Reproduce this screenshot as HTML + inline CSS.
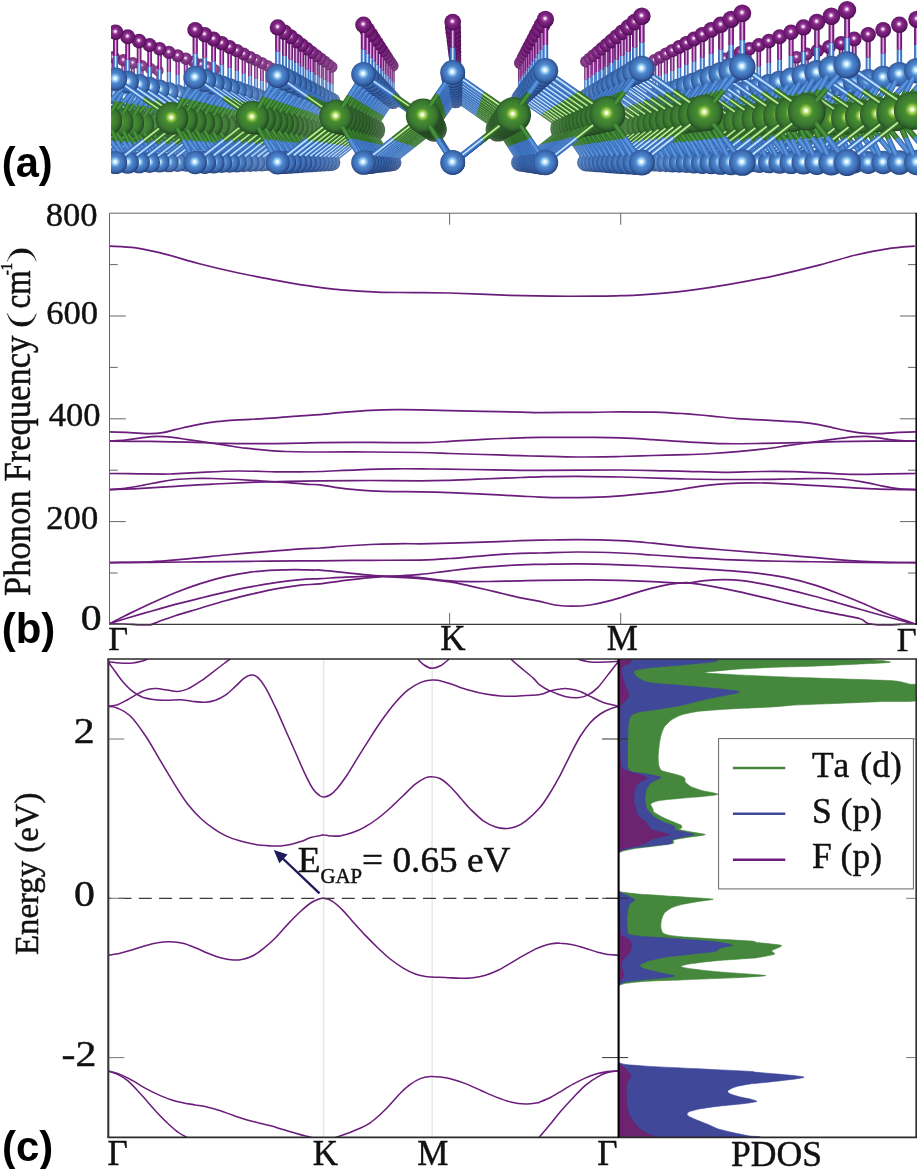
<!DOCTYPE html>
<html><head><meta charset="utf-8"><title>Figure</title>
<style>html,body{margin:0;padding:0;background:#fff}svg{display:block}text{font-family:"Liberation Serif","Times New Roman",serif;fill:#111;stroke:#111;stroke-width:.45px}.b{font-family:"Liberation Sans",Arial,sans-serif;font-weight:bold;fill:#000;stroke:none}</style></head>
<body>
<svg width="917" height="1169" viewBox="0 0 917 1169">
<rect width="917" height="1169" fill="#fff"/>
<svg x="111" y="0" width="806" height="176" viewBox="0 0 806 176" fill="none"><defs><radialGradient id="gS" cx=".48" cy=".47" r=".52"><stop offset="0" stop-color="#fff"/><stop offset=".1" stop-color="#e8f7ff"/><stop offset=".26" stop-color="#8cc4f0"/><stop offset=".43" stop-color="#4f88ce"/><stop offset=".72" stop-color="#3e6eb6"/><stop offset=".9" stop-color="#30589a"/><stop offset="1" stop-color="#223e76"/></radialGradient><radialGradient id="gT" cx=".48" cy=".47" r=".52"><stop offset="0" stop-color="#fff"/><stop offset=".07" stop-color="#f0f8d8"/><stop offset=".2" stop-color="#98cc48"/><stop offset=".36" stop-color="#488e30"/><stop offset=".75" stop-color="#387630"/><stop offset=".94" stop-color="#2a5628"/><stop offset="1" stop-color="#224620"/></radialGradient><radialGradient id="gF" cx=".48" cy=".45" r=".54"><stop offset="0" stop-color="#fff"/><stop offset=".1" stop-color="#f4e0f4"/><stop offset=".24" stop-color="#a858a8"/><stop offset=".42" stop-color="#822484"/><stop offset=".8" stop-color="#68186c"/><stop offset="1" stop-color="#460c4c"/></radialGradient></defs>
<g stroke="#2c6228" stroke-width="3.5"><path id="b1" d="M11.8 147.1L31.4 131.7M11.8 118.1L31.4 131.7"/></g>
<use href="#b1" stroke="#3e8434" stroke-width="2.5"/>
<use href="#b1" stroke="#d0f0a0" stroke-width="1"/>
<g stroke="#3565b0" stroke-width="3.5"><path id="b2" d="M-7.8 162.5L11.8 147.1M-7.8 104.4L11.8 118.1"/></g>
<use href="#b2" stroke="#4a84d0" stroke-width="2.5"/>
<use href="#b2" stroke="#cfe9ff" stroke-width="1"/>
<g fill="url(#gT)"><circle cx="31.4" cy="131.7" r="11.4"/></g>
<g fill="url(#gS)"><circle cx="-7.8" cy="162.5" r="8.1"/><circle cx="-7.8" cy="104.4" r="8.1"/></g>
<rect width="806" height="176" fill="#fff" opacity="0.017"/>
<g stroke="#2c6228" stroke-width="3.5"><path id="b3" d="M34.9 138.5L39.2 147M35 125.3L39.2 117.8"/></g>
<use href="#b3" stroke="#3e8434" stroke-width="2.5"/>
<use href="#b3" stroke="#4a963c" stroke-width="1.1"/>
<g stroke="#3565b0" stroke-width="3.6"><path id="b4" d="M39.2 147L47.1 162.5M39.2 117.8L47.1 103.7"/></g>
<use href="#b4" stroke="#4a84d0" stroke-width="2.5"/>
<use href="#b4" stroke="#5c96dc" stroke-width="1.1"/>
<g stroke="#2c6228" stroke-width="3.6"><path id="b5" d="M67 146.9L86.8 131.3M67 117.5L86.8 131.3"/></g>
<use href="#b5" stroke="#3e8434" stroke-width="2.5"/>
<use href="#b5" stroke="#d0f0a0" stroke-width="1"/>
<g stroke="#3565b0" stroke-width="3.6"><path id="b6" d="M47.1 87.2L47.1 103.7M47.1 162.5L67 146.9M47.1 103.7L67 117.5"/></g>
<use href="#b6" stroke="#4a84d0" stroke-width="2.5"/>
<use href="#b6" stroke="#cfe9ff" stroke-width="1"/>
<g stroke="#5c1462" stroke-width="3.6"><path id="b7" d="M47.1 70.7L47.1 87.2"/></g>
<use href="#b7" stroke="#86268a" stroke-width="2.5"/>
<use href="#b7" stroke="#e0b0e4" stroke-width="1"/>
<g fill="url(#gT)"><circle cx="86.8" cy="131.3" r="11.6"/></g>
<g fill="url(#gS)"><circle cx="47.1" cy="162.5" r="8.2"/><circle cx="47.1" cy="103.7" r="8.2"/></g>
<g fill="url(#gF)"><circle cx="47.1" cy="70.7" r="5.5"/></g>
<rect width="806" height="176" fill="#fff" opacity="0.017"/>
<g stroke="#2c6228" stroke-width="3.6"><path id="b8" d="M90.5 138.2L95.1 146.8M90.7 124.8L95.1 117.2"/></g>
<use href="#b8" stroke="#3e8434" stroke-width="2.5"/>
<use href="#b8" stroke="#4a963c" stroke-width="1.1"/>
<g stroke="#3565b0" stroke-width="3.6"><path id="b9" d="M43.4 157.6L35.2 146.8M43.2 108.1L35.2 117.2"/></g>
<use href="#b9" stroke="#4a84d0" stroke-width="2.5"/>
<use href="#b9" stroke="#5c96dc" stroke-width="1.1"/>
<g stroke="#2c6228" stroke-width="3.6"><path id="b10" d="M35.2 146.8L23.1 130.9M35.2 117.2L23.1 130.9"/></g>
<use href="#b10" stroke="#3e8434" stroke-width="2.5"/>
<use href="#b10" stroke="#4a963c" stroke-width="1.1"/>
<g stroke="#3565b0" stroke-width="3.6"><path id="b11" d="M95.1 146.8L103.5 162.5M95.1 117.2L103.5 102.9"/></g>
<use href="#b11" stroke="#4a84d0" stroke-width="2.5"/>
<use href="#b11" stroke="#5c96dc" stroke-width="1.1"/>
<g stroke="#2c6228" stroke-width="3.6"><path id="b12" d="M3 146.7L23.1 130.9M3 116.9L23.1 130.9M123.6 146.7L143.7 130.9M123.6 116.9L143.7 130.9"/></g>
<use href="#b12" stroke="#3e8434" stroke-width="2.5"/>
<use href="#b12" stroke="#d0f0a0" stroke-width="1"/>
<g stroke="#3565b0" stroke-width="3.6"><path id="b13" d="M-17.1 162.5L3 146.7M-17.1 102.9L3 116.9M103.5 86.2L103.5 102.9M103.5 162.5L123.6 146.7M103.5 102.9L123.6 116.9"/></g>
<use href="#b13" stroke="#4a84d0" stroke-width="2.5"/>
<use href="#b13" stroke="#cfe9ff" stroke-width="1"/>
<g stroke="#5c1462" stroke-width="3.6"><path id="b14" d="M103.5 69.5L103.5 86.2"/></g>
<use href="#b14" stroke="#86268a" stroke-width="2.5"/>
<use href="#b14" stroke="#e0b0e4" stroke-width="1"/>
<g fill="url(#gT)"><circle cx="23.1" cy="130.9" r="11.7"/><circle cx="143.7" cy="130.9" r="11.7"/></g>
<g fill="url(#gS)"><circle cx="103.5" cy="162.5" r="8.3"/><circle cx="103.5" cy="102.9" r="8.3"/></g>
<g fill="url(#gF)"><circle cx="103.5" cy="69.5" r="5.6"/></g>
<rect width="806" height="176" fill="#fff" opacity="0.017"/>
<g stroke="#2c6228" stroke-width="3.6"><path id="b15" d="M26.6 137.8L31.1 146.6M26.8 124.3L31.1 116.6M147.6 137.8L152.5 146.6M147.8 124.3L152.5 116.6"/></g>
<use href="#b15" stroke="#3e8434" stroke-width="2.5"/>
<use href="#b15" stroke="#4a963c" stroke-width="1.1"/>
<g stroke="#3565b0" stroke-width="3.6"><path id="b16" d="M99.9 157.5L91.8 146.6M99.7 107.4L91.8 116.6"/></g>
<use href="#b16" stroke="#4a84d0" stroke-width="2.5"/>
<use href="#b16" stroke="#5c96dc" stroke-width="1.1"/>
<g stroke="#2c6228" stroke-width="3.7"><path id="b17" d="M91.8 146.6L79.9 130.5M91.8 116.6L79.9 130.5"/></g>
<use href="#b17" stroke="#3e8434" stroke-width="2.6"/>
<use href="#b17" stroke="#4a963c" stroke-width="1.1"/>
<g stroke="#3565b0" stroke-width="3.7"><path id="b18" d="M31.1 146.6L39.2 162.5M31.1 116.6L39.2 102.1M152.5 146.6L161.4 162.5M152.5 116.6L161.4 102.1"/></g>
<use href="#b18" stroke="#4a84d0" stroke-width="2.6"/>
<use href="#b18" stroke="#5c96dc" stroke-width="1.1"/>
<g stroke="#2c6228" stroke-width="3.7"><path id="b19" d="M59.5 146.5L79.9 130.5M59.5 116.3L79.9 130.5M181.8 146.5L202.1 130.5M181.8 116.3L202.1 130.5"/></g>
<use href="#b19" stroke="#3e8434" stroke-width="2.6"/>
<use href="#b19" stroke="#d0f0a0" stroke-width="1"/>
<g stroke="#3565b0" stroke-width="3.7"><path id="b20" d="M39.2 85.2L39.2 102.1M39.2 162.5L59.5 146.5M39.2 102.1L59.5 116.3M161.4 85.2L161.4 102.1M161.4 162.5L181.8 146.5M161.4 102.1L181.8 116.3"/></g>
<use href="#b20" stroke="#4a84d0" stroke-width="2.6"/>
<use href="#b20" stroke="#cfe9ff" stroke-width="1"/>
<g stroke="#5c1462" stroke-width="3.7"><path id="b21" d="M39.2 68.3L39.2 85.2M161.4 68.3L161.4 85.2"/></g>
<use href="#b21" stroke="#86268a" stroke-width="2.6"/>
<use href="#b21" stroke="#e0b0e4" stroke-width="1"/>
<g fill="url(#gT)"><circle cx="79.9" cy="130.5" r="11.9"/><circle cx="202.1" cy="130.5" r="11.9"/></g>
<g fill="url(#gS)"><circle cx="39.2" cy="162.5" r="8.4"/><circle cx="39.2" cy="102.1" r="8.4"/><circle cx="161.4" cy="162.5" r="8.4"/><circle cx="161.4" cy="102.1" r="8.4"/></g>
<g fill="url(#gF)"><circle cx="39.2" cy="68.3" r="5.6"/><circle cx="161.4" cy="68.3" r="5.6"/></g>
<rect width="806" height="176" fill="#fff" opacity="0.017"/>
<g stroke="#2c6228" stroke-width="3.7"><path id="b22" d="M83.6 137.5L88.4 146.4M83.8 123.8L88.4 116M206.2 137.5L211.4 146.4M206.4 123.8L211.4 116"/></g>
<use href="#b22" stroke="#3e8434" stroke-width="2.6"/>
<use href="#b22" stroke="#4a963c" stroke-width="1.1"/>
<g stroke="#3565b0" stroke-width="3.7"><path id="b23" d="M35.3 157.5L26.8 146.4M35.1 106.6L26.8 116M157.8 157.5L149.9 146.4M157.6 106.6L149.9 116"/></g>
<use href="#b23" stroke="#4a84d0" stroke-width="2.6"/>
<use href="#b23" stroke="#5c96dc" stroke-width="1.1"/>
<g stroke="#2c6228" stroke-width="3.7"><path id="b24" d="M26.8 146.4L14.4 130.1M26.8 116L14.4 130.1M149.9 146.4L138.2 130.1M149.9 116L138.2 130.1"/></g>
<use href="#b24" stroke="#3e8434" stroke-width="2.6"/>
<use href="#b24" stroke="#4a963c" stroke-width="1.1"/>
<g stroke="#3565b0" stroke-width="3.7"><path id="b25" d="M88.4 146.4L96.9 162.5M88.4 116L96.9 101.3M211.4 146.4L220.8 162.5M211.4 116L220.8 101.3"/></g>
<use href="#b25" stroke="#4a84d0" stroke-width="2.6"/>
<use href="#b25" stroke="#5c96dc" stroke-width="1.1"/>
<g stroke="#2c6228" stroke-width="3.7"><path id="b26" d="M-6.3 146.3L14.4 130.1M-6.3 115.7L14.4 130.1M117.6 146.3L138.2 130.1M117.6 115.7L138.2 130.1M241.4 146.3L262.1 130.1M241.4 115.7L262.1 130.1"/></g>
<use href="#b26" stroke="#3e8434" stroke-width="2.6"/>
<use href="#b26" stroke="#d0f0a0" stroke-width="1"/>
<g stroke="#3565b0" stroke-width="3.7"><path id="b27" d="M96.9 84.1L96.9 101.3M96.9 162.5L117.6 146.3M96.9 101.3L117.6 115.7M220.8 84.1L220.8 101.3M220.8 162.5L241.4 146.3M220.8 101.3L241.4 115.7"/></g>
<use href="#b27" stroke="#4a84d0" stroke-width="2.6"/>
<use href="#b27" stroke="#cfe9ff" stroke-width="1"/>
<g stroke="#5c1462" stroke-width="3.7"><path id="b28" d="M96.9 67L96.9 84.1M220.8 67L220.8 84.1"/></g>
<use href="#b28" stroke="#86268a" stroke-width="2.6"/>
<use href="#b28" stroke="#e0b0e4" stroke-width="1"/>
<g fill="url(#gT)"><circle cx="14.4" cy="130.1" r="12"/><circle cx="138.2" cy="130.1" r="12"/><circle cx="262.1" cy="130.1" r="12"/></g>
<g fill="url(#gS)"><circle cx="96.9" cy="162.5" r="8.5"/><circle cx="96.9" cy="101.3" r="8.5"/><circle cx="220.8" cy="162.5" r="8.5"/><circle cx="220.8" cy="101.3" r="8.5"/></g>
<g fill="url(#gF)"><circle cx="96.9" cy="67" r="5.7"/><circle cx="220.8" cy="67" r="5.7"/></g>
<rect width="806" height="176" fill="#fff" opacity="0.016"/>
<g stroke="#2c6228" stroke-width="3.7"><path id="b29" d="M18 137.2L22.5 146.2M18.1 123.3L22.5 115.4M142.2 137.2L147.2 146.2M142.4 123.3L147.2 115.4M266.4 137.2L271.9 146.2M266.6 123.3L271.9 115.4"/></g>
<use href="#b29" stroke="#3e8434" stroke-width="2.6"/>
<use href="#b29" stroke="#4a963c" stroke-width="1.1"/>
<g stroke="#3565b0" stroke-width="3.7"><path id="b30" d="M93.1 157.4L84.8 146.2M93 105.9L84.8 115.4M217.3 157.4L209.5 146.2M217.1 105.9L209.5 115.4"/></g>
<use href="#b30" stroke="#4a84d0" stroke-width="2.6"/>
<use href="#b30" stroke="#5c96dc" stroke-width="1.1"/>
<g stroke="#2c6228" stroke-width="3.8"><path id="b31" d="M84.8 146.2L72.6 129.6M84.8 115.4L72.6 129.6M209.5 146.2L198.1 129.6M209.5 115.4L198.1 129.6"/></g>
<use href="#b31" stroke="#3e8434" stroke-width="2.6"/>
<use href="#b31" stroke="#4a963c" stroke-width="1.1"/>
<g stroke="#3565b0" stroke-width="3.8"><path id="b32" d="M22.5 146.2L30.7 162.5M22.5 115.4L30.7 100.5M147.2 146.2L156.3 162.5M147.2 115.4L156.3 100.5M271.9 146.2L281.8 162.5M271.9 115.4L281.8 100.5"/></g>
<use href="#b32" stroke="#4a84d0" stroke-width="2.6"/>
<use href="#b32" stroke="#5c96dc" stroke-width="1.1"/>
<g stroke="#2c6228" stroke-width="3.8"><path id="b33" d="M51.7 146.1L72.6 129.6M51.7 115L72.6 129.6M177.2 146.1L198.1 129.6M177.2 115L198.1 129.6M302.7 146.1L323.6 129.6M302.7 115L323.6 129.6"/></g>
<use href="#b33" stroke="#3e8434" stroke-width="2.6"/>
<use href="#b33" stroke="#d0f0a0" stroke-width="1"/>
<g stroke="#3565b0" stroke-width="3.8"><path id="b34" d="M30.7 83.1L30.7 100.5M30.7 162.5L51.7 146.1M30.7 100.5L51.7 115M156.3 83.1L156.3 100.5M156.3 162.5L177.2 146.1M156.3 100.5L177.2 115M281.8 83.1L281.8 100.5M281.8 162.5L302.7 146.1M281.8 100.5L302.7 115"/></g>
<use href="#b34" stroke="#4a84d0" stroke-width="2.6"/>
<use href="#b34" stroke="#cfe9ff" stroke-width="1"/>
<g stroke="#5c1462" stroke-width="3.8"><path id="b35" d="M30.7 65.7L30.7 83.1M156.3 65.7L156.3 83.1M281.8 65.7L281.8 83.1"/></g>
<use href="#b35" stroke="#86268a" stroke-width="2.6"/>
<use href="#b35" stroke="#e0b0e4" stroke-width="1"/>
<g fill="url(#gT)"><circle cx="72.6" cy="129.6" r="12.2"/><circle cx="198.1" cy="129.6" r="12.2"/><circle cx="323.6" cy="129.6" r="12.2"/></g>
<g fill="url(#gS)"><circle cx="30.7" cy="162.5" r="8.6"/><circle cx="30.7" cy="100.5" r="8.6"/><circle cx="156.3" cy="162.5" r="8.6"/><circle cx="156.3" cy="100.5" r="8.6"/><circle cx="281.8" cy="162.5" r="8.6"/><circle cx="281.8" cy="100.5" r="8.6"/></g>
<g fill="url(#gF)"><circle cx="30.7" cy="65.7" r="5.8"/><circle cx="156.3" cy="65.7" r="5.8"/><circle cx="281.8" cy="65.7" r="5.8"/></g>
<rect width="806" height="176" fill="#fff" opacity="0.016"/>
<g stroke="#2c6228" stroke-width="3.8"><path id="b36" d="M76.4 136.8L81.2 146M76.6 122.7L81.2 114.7M202.3 136.8L207.6 146M202.5 122.7L207.6 114.7M328.2 136.8L334 146M328.4 122.7L334 114.7"/></g>
<use href="#b36" stroke="#3e8434" stroke-width="2.6"/>
<use href="#b36" stroke="#4a963c" stroke-width="1.1"/>
<g stroke="#3565b0" stroke-width="3.8"><path id="b37" d="M26.8 157.3L18 146M26.6 105.1L18 114.7M152.6 157.3L144.4 146M152.4 105.1L144.4 114.7M278.4 157.3L270.8 146M278.2 105.1L270.8 114.7"/></g>
<use href="#b37" stroke="#4a84d0" stroke-width="2.6"/>
<use href="#b37" stroke="#5c96dc" stroke-width="1.1"/>
<g stroke="#2c6228" stroke-width="3.8"><path id="b38" d="M18 146L5.1 129.2M18 114.7L5.1 129.2M144.4 146L132.4 129.2M144.4 114.7L132.4 129.2M270.8 146L259.6 129.2M270.8 114.7L259.6 129.2"/></g>
<use href="#b38" stroke="#3e8434" stroke-width="2.7"/>
<use href="#b38" stroke="#4a963c" stroke-width="1.1"/>
<g stroke="#3565b0" stroke-width="3.8"><path id="b39" d="M81.2 146L90 162.5M81.2 114.7L90 99.6M207.6 146L217.2 162.5M207.6 114.7L217.2 99.6M334 146L344.5 162.5M334 114.7L344.5 99.6"/></g>
<use href="#b39" stroke="#4a84d0" stroke-width="2.7"/>
<use href="#b39" stroke="#5c96dc" stroke-width="1.1"/>
<g stroke="#2c6228" stroke-width="3.8"><path id="b40" d="M-16.1 145.8L5.1 129.2M-16.1 114.4L5.1 129.2M111.2 145.8L132.4 129.2M111.2 114.4L132.4 129.2M238.4 145.8L259.6 129.2M238.4 114.4L259.6 129.2M365.7 145.8L386.9 129.2M365.7 114.4L386.9 129.2"/></g>
<use href="#b40" stroke="#3e8434" stroke-width="2.7"/>
<use href="#b40" stroke="#d0f0a0" stroke-width="1"/>
<g stroke="#3565b0" stroke-width="3.8"><path id="b41" d="M90 82L90 99.6M90 162.5L111.2 145.8M90 99.6L111.2 114.4M217.2 82L217.2 99.6M217.2 162.5L238.4 145.8M217.2 99.6L238.4 114.4M344.5 82L344.5 99.6M344.5 162.5L365.7 145.8M344.5 99.6L365.7 114.4"/></g>
<use href="#b41" stroke="#4a84d0" stroke-width="2.7"/>
<use href="#b41" stroke="#cfe9ff" stroke-width="1"/>
<g stroke="#5c1462" stroke-width="3.8"><path id="b42" d="M90 64.4L90 82M217.2 64.4L217.2 82M344.5 64.4L344.5 82"/></g>
<use href="#b42" stroke="#86268a" stroke-width="2.7"/>
<use href="#b42" stroke="#e0b0e4" stroke-width="1"/>
<g fill="url(#gT)"><circle cx="5.1" cy="129.2" r="12.3"/><circle cx="132.4" cy="129.2" r="12.3"/><circle cx="259.6" cy="129.2" r="12.3"/><circle cx="386.9" cy="129.2" r="12.3"/></g>
<g fill="url(#gS)"><circle cx="90" cy="162.5" r="8.7"/><circle cx="90" cy="99.6" r="8.7"/><circle cx="217.2" cy="162.5" r="8.7"/><circle cx="217.2" cy="99.6" r="8.7"/><circle cx="344.5" cy="162.5" r="8.7"/><circle cx="344.5" cy="99.6" r="8.7"/></g>
<g fill="url(#gF)"><circle cx="90" cy="64.4" r="5.9"/><circle cx="217.2" cy="64.4" r="5.9"/><circle cx="344.5" cy="64.4" r="5.9"/></g>
<rect width="806" height="176" fill="#fff" opacity="0.016"/>
<g stroke="#2c6228" stroke-width="3.8"><path id="b43" d="M8.8 136.5L13.4 145.7M9 122.2L13.4 114.1M136.4 136.5L141.6 145.7M136.6 122.2L141.6 114.1M264.1 136.5L269.7 145.7M264.3 122.2L269.7 114.1M391.7 136.5L397.8 145.7M391.9 122.2L397.8 114.1"/></g>
<use href="#b43" stroke="#3e8434" stroke-width="2.7"/>
<use href="#b43" stroke="#4a963c" stroke-width="1.2"/>
<g stroke="#3565b0" stroke-width="3.8"><path id="b44" d="M86.1 157.2L77.5 145.7M85.9 104.3L77.5 114.1M213.6 157.2L205.6 145.7M213.4 104.3L205.6 114.1M341.1 157.2L333.8 145.7M341 104.3L333.8 114.1"/></g>
<use href="#b44" stroke="#4a84d0" stroke-width="2.7"/>
<use href="#b44" stroke="#5c96dc" stroke-width="1.2"/>
<g stroke="#2c6228" stroke-width="3.9"><path id="b45" d="M77.5 145.7L64.8 128.7M77.5 114.1L64.8 128.7M205.6 145.7L193.9 128.7M205.6 114.1L193.9 128.7M333.8 145.7L322.9 128.7M333.8 114.1L322.9 128.7"/></g>
<use href="#b45" stroke="#3e8434" stroke-width="2.7"/>
<use href="#b45" stroke="#4a963c" stroke-width="1.2"/>
<g stroke="#3565b0" stroke-width="3.9"><path id="b46" d="M13.4 145.7L21.8 162.5M13.4 114.1L21.8 98.8M141.6 145.7L150.9 162.5M141.6 114.1L150.9 98.8M269.7 145.7L279.9 162.5M269.7 114.1L279.9 98.8M397.8 145.7L408.9 162.5M397.8 114.1L408.9 98.8"/></g>
<use href="#b46" stroke="#4a84d0" stroke-width="2.7"/>
<use href="#b46" stroke="#5c96dc" stroke-width="1.2"/>
<g stroke="#2c6228" stroke-width="3.9"><path id="b47" d="M43.3 145.6L64.8 128.7M43.3 113.7L64.8 128.7M172.4 145.6L193.9 128.7M172.4 113.7L193.9 128.7M301.4 145.6L322.9 128.7M301.4 113.7L322.9 128.7M430.4 145.6L451.9 128.7M430.4 113.7L451.9 128.7"/></g>
<use href="#b47" stroke="#3e8434" stroke-width="2.7"/>
<use href="#b47" stroke="#d0f0a0" stroke-width="1"/>
<g stroke="#3565b0" stroke-width="3.9"><path id="b48" d="M21.8 80.9L21.8 98.8M21.8 162.5L43.3 145.6M21.8 98.8L43.3 113.7M150.9 80.9L150.9 98.8M150.9 162.5L172.4 145.6M150.9 98.8L172.4 113.7M279.9 80.9L279.9 98.8M279.9 162.5L301.4 145.6M279.9 98.8L301.4 113.7M408.9 80.9L408.9 98.8M408.9 162.5L430.4 145.6M408.9 98.8L430.4 113.7"/></g>
<use href="#b48" stroke="#4a84d0" stroke-width="2.7"/>
<use href="#b48" stroke="#cfe9ff" stroke-width="1"/>
<g stroke="#5c1462" stroke-width="3.9"><path id="b49" d="M21.8 63L21.8 80.9M150.9 63L150.9 80.9M279.9 63L279.9 80.9M408.9 63L408.9 80.9"/></g>
<use href="#b49" stroke="#86268a" stroke-width="2.7"/>
<use href="#b49" stroke="#e0b0e4" stroke-width="1"/>
<g fill="url(#gT)"><circle cx="64.8" cy="128.7" r="12.5"/><circle cx="193.9" cy="128.7" r="12.5"/><circle cx="322.9" cy="128.7" r="12.5"/><circle cx="451.9" cy="128.7" r="12.5"/></g>
<g fill="url(#gS)"><circle cx="21.8" cy="162.5" r="8.9"/><circle cx="21.8" cy="98.8" r="8.9"/><circle cx="150.9" cy="162.5" r="8.9"/><circle cx="150.9" cy="98.8" r="8.9"/><circle cx="279.9" cy="162.5" r="8.9"/><circle cx="279.9" cy="98.8" r="8.9"/><circle cx="408.9" cy="162.5" r="8.9"/><circle cx="408.9" cy="98.8" r="8.9"/></g>
<g fill="url(#gF)"><circle cx="21.8" cy="63" r="6"/><circle cx="150.9" cy="63" r="6"/><circle cx="279.9" cy="63" r="6"/><circle cx="408.9" cy="63" r="6"/></g>
<rect width="806" height="176" fill="#fff" opacity="0.016"/>
<g stroke="#2c6228" stroke-width="3.9"><path id="b50" d="M68.7 136.1L73.7 145.5M68.9 121.6L73.7 113.4M198.2 136.1L203.6 145.5M198.4 121.6L203.6 113.4M327.6 136.1L333.5 145.5M327.8 121.6L333.5 113.4M457 136.1L463.4 145.5M457.2 121.6L463.4 113.4"/></g>
<use href="#b50" stroke="#3e8434" stroke-width="2.7"/>
<use href="#b50" stroke="#4a963c" stroke-width="1.2"/>
<g stroke="#3565b0" stroke-width="3.9"><path id="b51" d="M17.7 157.2L8.7 145.5M17.6 103.5L8.7 113.4M147 157.2L138.6 145.5M146.9 103.5L138.6 113.4M276.3 157.2L268.6 145.5M276.2 103.5L268.6 113.4M405.6 157.2L398.5 145.5M405.5 103.5L398.5 113.4"/></g>
<use href="#b51" stroke="#4a84d0" stroke-width="2.7"/>
<use href="#b51" stroke="#5c96dc" stroke-width="1.2"/>
<g stroke="#2c6228" stroke-width="3.9"><path id="b52" d="M8.7 145.5L-4.6 128.2M8.7 113.4L-4.6 128.2M138.6 145.5L126.2 128.2M138.6 113.4L126.2 128.2M268.6 145.5L257.1 128.2M268.6 113.4L257.1 128.2M398.5 145.5L387.9 128.2M398.5 113.4L387.9 128.2"/></g>
<use href="#b52" stroke="#3e8434" stroke-width="2.7"/>
<use href="#b52" stroke="#4a963c" stroke-width="1.2"/>
<g stroke="#3565b0" stroke-width="3.9"><path id="b53" d="M73.7 145.5L82.6 162.5M73.7 113.4L82.6 97.9M203.6 145.5L213.5 162.5M203.6 113.4L213.5 97.9M333.5 145.5L344.3 162.5M333.5 113.4L344.3 97.9M463.4 145.5L475.1 162.5M463.4 113.4L475.1 97.9"/></g>
<use href="#b53" stroke="#4a84d0" stroke-width="2.7"/>
<use href="#b53" stroke="#5c96dc" stroke-width="1.2"/>
<g stroke="#2c6228" stroke-width="3.9"><path id="b54" d="M-26.4 145.4L-4.6 128.2M-26.4 113L-4.6 128.2M104.4 145.4L126.2 128.2M104.4 113L126.2 128.2M235.3 145.4L257.1 128.2M235.3 113L257.1 128.2M366.1 145.4L387.9 128.2M366.1 113L387.9 128.2M496.9 145.4L518.7 128.2M496.9 113L518.7 128.2"/></g>
<use href="#b54" stroke="#3e8434" stroke-width="2.7"/>
<use href="#b54" stroke="#d0f0a0" stroke-width="1.1"/>
<g stroke="#3565b0" stroke-width="3.9"><path id="b55" d="M82.6 79.7L82.6 97.9M82.6 162.5L104.4 145.4M82.6 97.9L104.4 113M213.5 79.7L213.5 97.9M213.5 162.5L235.3 145.4M213.5 97.9L235.3 113M344.3 79.7L344.3 97.9M344.3 162.5L366.1 145.4M344.3 97.9L366.1 113M475.1 79.7L475.1 97.9M475.1 162.5L496.9 145.4M475.1 97.9L496.9 113"/></g>
<use href="#b55" stroke="#4a84d0" stroke-width="2.7"/>
<use href="#b55" stroke="#cfe9ff" stroke-width="1.1"/>
<g stroke="#5c1462" stroke-width="3.9"><path id="b56" d="M82.6 61.6L82.6 79.7M213.5 61.6L213.5 79.7M344.3 61.6L344.3 79.7M475.1 61.6L475.1 79.7"/></g>
<use href="#b56" stroke="#86268a" stroke-width="2.7"/>
<use href="#b56" stroke="#e0b0e4" stroke-width="1.1"/>
<g fill="url(#gT)"><circle cx="-4.6" cy="128.2" r="12.7"/><circle cx="126.2" cy="128.2" r="12.7"/><circle cx="257.1" cy="128.2" r="12.7"/><circle cx="387.9" cy="128.2" r="12.7"/><circle cx="518.7" cy="128.2" r="12.7"/></g>
<g fill="url(#gS)"><circle cx="82.6" cy="162.5" r="9"/><circle cx="82.6" cy="97.9" r="9"/><circle cx="213.5" cy="162.5" r="9"/><circle cx="213.5" cy="97.9" r="9"/><circle cx="344.3" cy="162.5" r="9"/><circle cx="344.3" cy="97.9" r="9"/><circle cx="475.1" cy="162.5" r="9"/><circle cx="475.1" cy="97.9" r="9"/></g>
<g fill="url(#gF)"><circle cx="82.6" cy="61.6" r="6"/><circle cx="213.5" cy="61.6" r="6"/><circle cx="344.3" cy="61.6" r="6"/><circle cx="475.1" cy="61.6" r="6"/></g>
<rect width="806" height="176" fill="#fff" opacity="0.015"/>
<g stroke="#2c6228" stroke-width="3.9"><path id="b57" d="M-.9 135.8L3.9 145.2M-.7 121.1L3.9 112.7M130.4 135.8L135.6 145.2M130.6 121.1L135.6 112.7M261.6 135.8L267.4 145.2M261.8 121.1L267.4 112.7M392.9 135.8L399.2 145.2M393.1 121.1L399.2 112.7M524.1 135.8L530.9 145.2M524.4 121.1L530.9 112.7"/></g>
<use href="#b57" stroke="#3e8434" stroke-width="2.8"/>
<use href="#b57" stroke="#4a963c" stroke-width="1.2"/>
<g stroke="#3565b0" stroke-width="3.9"><path id="b58" d="M78.6 157.1L69.7 145.2M78.4 102.7L69.7 112.7M209.7 157.1L201.5 145.2M209.6 102.7L201.5 112.7M340.8 157.1L333.3 145.2M340.7 102.7L333.3 112.7M472 157.1L465 145.2M471.8 102.7L465 112.7"/></g>
<use href="#b58" stroke="#4a84d0" stroke-width="2.8"/>
<use href="#b58" stroke="#5c96dc" stroke-width="1.2"/>
<g stroke="#2c6228" stroke-width="4"><path id="b59" d="M69.7 145.2L56.7 127.7M69.7 112.7L56.7 127.7M201.5 145.2L189.4 127.7M201.5 112.7L189.4 127.7M333.3 145.2L322.1 127.7M333.3 112.7L322.1 127.7M465 145.2L454.8 127.7M465 112.7L454.8 127.7"/></g>
<use href="#b59" stroke="#3e8434" stroke-width="2.8"/>
<use href="#b59" stroke="#4a963c" stroke-width="1.2"/>
<g stroke="#3565b0" stroke-width="4"><path id="b60" d="M3.9 145.2L12.4 162.5M3.9 112.7L12.4 96.9M135.6 145.2L145.1 162.5M135.6 112.7L145.1 96.9M267.4 145.2L277.8 162.5M267.4 112.7L277.8 96.9M399.2 145.2L410.6 162.5M399.2 112.7L410.6 96.9M530.9 145.2L543.3 162.5M530.9 112.7L543.3 96.9"/></g>
<use href="#b60" stroke="#4a84d0" stroke-width="2.8"/>
<use href="#b60" stroke="#5c96dc" stroke-width="1.2"/>
<g stroke="#2c6228" stroke-width="4"><path id="b61" d="M34.6 145.1L56.7 127.7M34.6 112.3L56.7 127.7M167.3 145.1L189.4 127.7M167.3 112.3L189.4 127.7M300 145.1L322.1 127.7M300 112.3L322.1 127.7M432.7 145.1L454.8 127.7M432.7 112.3L454.8 127.7M565.4 145.1L587.5 127.7M565.4 112.3L587.5 127.7"/></g>
<use href="#b61" stroke="#3e8434" stroke-width="2.8"/>
<use href="#b61" stroke="#d0f0a0" stroke-width="1.1"/>
<g stroke="#3565b0" stroke-width="4"><path id="b62" d="M12.4 78.6L12.4 96.9M12.4 162.5L34.6 145.1M12.4 96.9L34.6 112.3M145.1 78.6L145.1 96.9M145.1 162.5L167.3 145.1M145.1 96.9L167.3 112.3M277.8 78.6L277.8 96.9M277.8 162.5L300 145.1M277.8 96.9L300 112.3M410.6 78.6L410.6 96.9M410.6 162.5L432.7 145.1M410.6 96.9L432.7 112.3M543.3 78.6L543.3 96.9M543.3 162.5L565.4 145.1M543.3 96.9L565.4 112.3"/></g>
<use href="#b62" stroke="#4a84d0" stroke-width="2.8"/>
<use href="#b62" stroke="#cfe9ff" stroke-width="1.1"/>
<g stroke="#5c1462" stroke-width="4"><path id="b63" d="M12.4 60.2L12.4 78.6M145.1 60.2L145.1 78.6M277.8 60.2L277.8 78.6M410.6 60.2L410.6 78.6M543.3 60.2L543.3 78.6"/></g>
<use href="#b63" stroke="#86268a" stroke-width="2.8"/>
<use href="#b63" stroke="#e0b0e4" stroke-width="1.1"/>
<g fill="url(#gT)"><circle cx="56.7" cy="127.7" r="12.9"/><circle cx="189.4" cy="127.7" r="12.9"/><circle cx="322.1" cy="127.7" r="12.9"/><circle cx="454.8" cy="127.7" r="12.9"/><circle cx="587.5" cy="127.7" r="12.9"/></g>
<g fill="url(#gS)"><circle cx="12.4" cy="162.5" r="9.1"/><circle cx="12.4" cy="96.9" r="9.1"/><circle cx="145.1" cy="162.5" r="9.1"/><circle cx="145.1" cy="96.9" r="9.1"/><circle cx="277.8" cy="162.5" r="9.1"/><circle cx="277.8" cy="96.9" r="9.1"/><circle cx="410.6" cy="162.5" r="9.1"/><circle cx="410.6" cy="96.9" r="9.1"/><circle cx="543.3" cy="162.5" r="9.1"/><circle cx="543.3" cy="96.9" r="9.1"/></g>
<g fill="url(#gF)"><circle cx="12.4" cy="60.2" r="6.1"/><circle cx="145.1" cy="60.2" r="6.1"/><circle cx="277.8" cy="60.2" r="6.1"/><circle cx="410.6" cy="60.2" r="6.1"/><circle cx="543.3" cy="60.2" r="6.1"/></g>
<rect width="806" height="176" fill="#fff" opacity="0.015"/>
<g stroke="#2c6228" stroke-width="4"><path id="b64" d="M60.7 135.4L65.7 145M60.8 120.5L65.7 112M193.8 135.4L199.4 145M194 120.5L199.4 112M326.9 135.4L333 145M327.1 120.5L333 112M460 135.4L466.7 145M460.3 120.5L466.7 112M593.2 135.4L600.3 145M593.4 120.5L600.3 112"/></g>
<use href="#b64" stroke="#3e8434" stroke-width="2.8"/>
<use href="#b64" stroke="#4a963c" stroke-width="1.2"/>
<g stroke="#3565b0" stroke-width="4"><path id="b65" d="M8.2 157L-1.1 145M8 101.8L-1.1 112M141.2 157L132.5 145M141 101.8L132.5 112M274.2 157L266.2 145M274 101.8L266.2 112M407.2 157L399.8 145M407.1 101.8L399.8 112M540.2 157L533.5 145M540.1 101.8L533.5 112"/></g>
<use href="#b65" stroke="#4a84d0" stroke-width="2.8"/>
<use href="#b65" stroke="#5c96dc" stroke-width="1.2"/>
<g stroke="#2c6228" stroke-width="4"><path id="b66" d="M-1.1 145L-14.9 127.2M-1.1 112L-14.9 127.2M132.5 145L119.7 127.2M132.5 112L119.7 127.2M266.2 145L254.4 127.2M266.2 112L254.4 127.2M399.8 145L389 127.2M399.8 112L389 127.2M533.5 145L523.6 127.2M533.5 112L523.6 127.2"/></g>
<use href="#b66" stroke="#3e8434" stroke-width="2.8"/>
<use href="#b66" stroke="#4a963c" stroke-width="1.2"/>
<g stroke="#3565b0" stroke-width="4"><path id="b67" d="M65.7 145L74.8 162.5M65.7 112L74.8 96M199.4 145L209.5 162.5M199.4 112L209.5 96M333 145L344.1 162.5M333 112L344.1 96M466.7 145L478.7 162.5M466.7 112L478.7 96M600.3 145L613.4 162.5M600.3 112L613.4 96"/></g>
<use href="#b67" stroke="#4a84d0" stroke-width="2.8"/>
<use href="#b67" stroke="#5c96dc" stroke-width="1.2"/>
<g stroke="#2c6228" stroke-width="4"><path id="b68" d="M97.3 144.9L119.7 127.2M97.3 111.6L119.7 127.2M231.9 144.9L254.4 127.2M231.9 111.6L254.4 127.2M366.5 144.9L389 127.2M366.5 111.6L389 127.2M501.2 144.9L523.6 127.2M501.2 111.6L523.6 127.2M635.8 144.9L658.2 127.2M635.8 111.6L658.2 127.2"/></g>
<use href="#b68" stroke="#3e8434" stroke-width="2.8"/>
<use href="#b68" stroke="#d0f0a0" stroke-width="1.1"/>
<g stroke="#3565b0" stroke-width="4"><path id="b69" d="M74.8 77.3L74.8 96M74.8 162.5L97.3 144.9M74.8 96L97.3 111.6M209.5 77.3L209.5 96M209.5 162.5L231.9 144.9M209.5 96L231.9 111.6M344.1 77.3L344.1 96M344.1 162.5L366.5 144.9M344.1 96L366.5 111.6M478.7 77.3L478.7 96M478.7 162.5L501.2 144.9M478.7 96L501.2 111.6M613.4 77.3L613.4 96M613.4 162.5L635.8 144.9M613.4 96L635.8 111.6"/></g>
<use href="#b69" stroke="#4a84d0" stroke-width="2.8"/>
<use href="#b69" stroke="#cfe9ff" stroke-width="1.1"/>
<g stroke="#5c1462" stroke-width="4"><path id="b70" d="M74.8 58.7L74.8 77.3M209.5 58.7L209.5 77.3M344.1 58.7L344.1 77.3M478.7 58.7L478.7 77.3M613.4 58.7L613.4 77.3"/></g>
<use href="#b70" stroke="#86268a" stroke-width="2.8"/>
<use href="#b70" stroke="#e0b0e4" stroke-width="1.1"/>
<g fill="url(#gT)"><circle cx="119.7" cy="127.2" r="13.1"/><circle cx="254.4" cy="127.2" r="13.1"/><circle cx="389" cy="127.2" r="13.1"/><circle cx="523.6" cy="127.2" r="13.1"/><circle cx="658.2" cy="127.2" r="13.1"/></g>
<g fill="url(#gS)"><circle cx="74.8" cy="162.5" r="9.2"/><circle cx="74.8" cy="96" r="9.2"/><circle cx="209.5" cy="162.5" r="9.2"/><circle cx="209.5" cy="96" r="9.2"/><circle cx="344.1" cy="162.5" r="9.2"/><circle cx="344.1" cy="96" r="9.2"/><circle cx="478.7" cy="162.5" r="9.2"/><circle cx="478.7" cy="96" r="9.2"/><circle cx="613.4" cy="162.5" r="9.2"/><circle cx="613.4" cy="96" r="9.2"/></g>
<g fill="url(#gF)"><circle cx="74.8" cy="58.7" r="6.2"/><circle cx="209.5" cy="58.7" r="6.2"/><circle cx="344.1" cy="58.7" r="6.2"/><circle cx="478.7" cy="58.7" r="6.2"/><circle cx="613.4" cy="58.7" r="6.2"/></g>
<rect width="806" height="176" fill="#fff" opacity="0.015"/>
<g stroke="#2c6228" stroke-width="4.1"><path id="b71" d="M124 135L129.3 144.7M124.2 119.9L129.3 111.2M259 135L264.9 144.7M259.2 119.9L264.9 111.2M394.1 135L400.6 144.7M394.3 119.9L400.6 111.2M529.2 135L536.2 144.7M529.4 119.9L536.2 111.2M664.2 135L671.8 144.7M664.5 119.9L671.8 111.2"/></g>
<use href="#b71" stroke="#3e8434" stroke-width="2.8"/>
<use href="#b71" stroke="#4a963c" stroke-width="1.2"/>
<g stroke="#3565b0" stroke-width="4.1"><path id="b72" d="M70.7 156.9L61.5 144.7M70.5 101L61.5 111.2M205.6 156.9L197.1 144.7M205.4 101L197.1 111.2M340.6 156.9L332.8 144.7M340.4 101L332.8 111.2M475.5 156.9L468.4 144.7M475.3 101L468.4 111.2M610.4 156.9L604 144.7M610.3 101L604 111.2"/></g>
<use href="#b72" stroke="#4a84d0" stroke-width="2.8"/>
<use href="#b72" stroke="#5c96dc" stroke-width="1.2"/>
<g stroke="#2c6228" stroke-width="4.1"><path id="b73" d="M61.5 144.7L48 126.7M61.5 111.2L48 126.7M197.1 144.7L184.6 126.7M197.1 111.2L184.6 126.7M332.8 144.7L321.2 126.7M332.8 111.2L321.2 126.7M468.4 144.7L457.8 126.7M468.4 111.2L457.8 126.7M604 144.7L594.5 126.7M604 111.2L594.5 126.7"/></g>
<use href="#b73" stroke="#3e8434" stroke-width="2.9"/>
<use href="#b73" stroke="#4a963c" stroke-width="1.2"/>
<g stroke="#3565b0" stroke-width="4.1"><path id="b74" d="M-6.3 144.7L2.5 162.5M-6.3 111.2L2.5 95M129.3 144.7L139.1 162.5M129.3 111.2L139.1 95M264.9 144.7L275.7 162.5M264.9 111.2L275.7 95M400.6 144.7L412.3 162.5M400.6 111.2L412.3 95M536.2 144.7L548.9 162.5M536.2 111.2L548.9 95M671.8 144.7L685.5 162.5M671.8 111.2L685.5 95"/></g>
<use href="#b74" stroke="#4a84d0" stroke-width="2.9"/>
<use href="#b74" stroke="#5c96dc" stroke-width="1.2"/>
<g stroke="#2c6228" stroke-width="4.1"><path id="b75" d="M25.2 144.6L48 126.7M25.2 110.9L48 126.7M161.9 144.6L184.6 126.7M161.9 110.9L184.6 126.7M298.5 144.6L321.2 126.7M298.5 110.9L321.2 126.7M435.1 144.6L457.8 126.7M435.1 110.9L457.8 126.7M571.7 144.6L594.5 126.7M571.7 110.9L594.5 126.7"/></g>
<use href="#b75" stroke="#3e8434" stroke-width="2.9"/>
<use href="#b75" stroke="#d0f0a0" stroke-width="1.1"/>
<g stroke="#3565b0" stroke-width="4.1"><path id="b76" d="M2.5 76.1L2.5 95M2.5 162.5L25.2 144.6M2.5 95L25.2 110.9M139.1 76.1L139.1 95M139.1 162.5L161.9 144.6M139.1 95L161.9 110.9M275.7 76.1L275.7 95M275.7 162.5L298.5 144.6M275.7 95L298.5 110.9M412.3 76.1L412.3 95M412.3 162.5L435.1 144.6M412.3 95L435.1 110.9M548.9 76.1L548.9 95M548.9 162.5L571.7 144.6M548.9 95L571.7 110.9M685.5 76.1L685.5 95"/></g>
<use href="#b76" stroke="#4a84d0" stroke-width="2.9"/>
<use href="#b76" stroke="#cfe9ff" stroke-width="1.1"/>
<g stroke="#5c1462" stroke-width="4.1"><path id="b77" d="M2.5 57.2L2.5 76.1M139.1 57.2L139.1 76.1M275.7 57.2L275.7 76.1M412.3 57.2L412.3 76.1M548.9 57.2L548.9 76.1M685.5 57.2L685.5 76.1"/></g>
<use href="#b77" stroke="#86268a" stroke-width="2.9"/>
<use href="#b77" stroke="#e0b0e4" stroke-width="1.1"/>
<g fill="url(#gT)"><circle cx="48" cy="126.7" r="13.3"/><circle cx="184.6" cy="126.7" r="13.3"/><circle cx="321.2" cy="126.7" r="13.3"/><circle cx="457.8" cy="126.7" r="13.3"/><circle cx="594.5" cy="126.7" r="13.3"/></g>
<g fill="url(#gS)"><circle cx="2.5" cy="162.5" r="9.4"/><circle cx="2.5" cy="95" r="9.4"/><circle cx="139.1" cy="162.5" r="9.4"/><circle cx="139.1" cy="95" r="9.4"/><circle cx="275.7" cy="162.5" r="9.4"/><circle cx="275.7" cy="95" r="9.4"/><circle cx="412.3" cy="162.5" r="9.4"/><circle cx="412.3" cy="95" r="9.4"/><circle cx="548.9" cy="162.5" r="9.4"/><circle cx="548.9" cy="95" r="9.4"/><circle cx="685.5" cy="162.5" r="9.4"/><circle cx="685.5" cy="95" r="9.4"/></g>
<g fill="url(#gF)"><circle cx="2.5" cy="57.2" r="6.3"/><circle cx="139.1" cy="57.2" r="6.3"/><circle cx="275.7" cy="57.2" r="6.3"/><circle cx="412.3" cy="57.2" r="6.3"/><circle cx="548.9" cy="57.2" r="6.3"/><circle cx="685.5" cy="57.2" r="6.3"/></g>
<rect width="806" height="176" fill="#fff" opacity="0.015"/>
<g stroke="#2c6228" stroke-width="4.1"><path id="b78" d="M52.1 134.6L57.2 144.5M52.3 119.2L57.2 110.5M189.2 134.6L194.9 144.5M189.3 119.2L194.9 110.5M326.2 134.6L332.5 144.5M326.4 119.2L332.5 110.5M463.3 134.6L470.1 144.5M463.5 119.2L470.1 110.5M600.3 134.6L607.7 144.5M600.6 119.2L607.7 110.5"/></g>
<use href="#b78" stroke="#3e8434" stroke-width="2.9"/>
<use href="#b78" stroke="#4a963c" stroke-width="1.2"/>
<g stroke="#3565b0" stroke-width="4.1"><path id="b79" d="M-1.9 156.9L-11.6 144.5M-2.1 100.1L-11.6 110.5M135 156.9L126.1 144.5M134.8 100.1L126.1 110.5M271.9 156.9L263.7 144.5M271.8 100.1L263.7 110.5M408.9 156.9L401.3 144.5M408.7 100.1L401.3 110.5M545.8 156.9L538.9 144.5M545.6 100.1L538.9 110.5M682.7 156.9L676.5 144.5M682.6 100.1L676.5 110.5"/></g>
<use href="#b79" stroke="#4a84d0" stroke-width="2.9"/>
<use href="#b79" stroke="#5c96dc" stroke-width="1.2"/>
<g stroke="#2c6228" stroke-width="4.1"><path id="b80" d="M126.1 144.5L112.8 126.2M126.1 110.5L112.8 126.2M263.7 144.5L251.5 126.2M263.7 110.5L251.5 126.2M401.3 144.5L390.1 126.2M401.3 110.5L390.1 126.2M538.9 144.5L528.8 126.2M538.9 110.5L528.8 126.2M676.5 144.5L667.4 126.2M676.5 110.5L667.4 126.2"/></g>
<use href="#b80" stroke="#3e8434" stroke-width="2.9"/>
<use href="#b80" stroke="#4a963c" stroke-width="1.2"/>
<g stroke="#3565b0" stroke-width="4.1"><path id="b81" d="M57.2 144.5L66.6 162.5M57.2 110.5L66.6 94M194.9 144.5L205.3 162.5M194.9 110.5L205.3 94M332.5 144.5L343.9 162.5M332.5 110.5L343.9 94M470.1 144.5L482.5 162.5M470.1 110.5L482.5 94M607.7 144.5L621.2 162.5M607.7 110.5L621.2 94"/></g>
<use href="#b81" stroke="#4a84d0" stroke-width="2.9"/>
<use href="#b81" stroke="#5c96dc" stroke-width="1.2"/>
<g stroke="#2c6228" stroke-width="4.2"><path id="b82" d="M89.7 144.3L112.8 126.2M89.7 110.1L112.8 126.2M228.4 144.3L251.5 126.2M228.4 110.1L251.5 126.2M367 144.3L390.1 126.2M367 110.1L390.1 126.2M505.7 144.3L528.8 126.2M505.7 110.1L528.8 126.2M644.3 144.3L667.4 126.2M644.3 110.1L667.4 126.2"/></g>
<use href="#b82" stroke="#3e8434" stroke-width="2.9"/>
<use href="#b82" stroke="#d0f0a0" stroke-width="1.1"/>
<g stroke="#3565b0" stroke-width="4.2"><path id="b83" d="M66.6 74.8L66.6 94M66.6 162.5L89.7 144.3M66.6 94L89.7 110.1M205.3 74.8L205.3 94M205.3 162.5L228.4 144.3M205.3 94L228.4 110.1M343.9 74.8L343.9 94M343.9 162.5L367 144.3M343.9 94L367 110.1M482.5 74.8L482.5 94M482.5 162.5L505.7 144.3M482.5 94L505.7 110.1M621.2 74.8L621.2 94M621.2 162.5L644.3 144.3M621.2 94L644.3 110.1"/></g>
<use href="#b83" stroke="#4a84d0" stroke-width="2.9"/>
<use href="#b83" stroke="#cfe9ff" stroke-width="1.1"/>
<g stroke="#5c1462" stroke-width="4.2"><path id="b84" d="M66.6 55.6L66.6 74.8M205.3 55.6L205.3 74.8M343.9 55.6L343.9 74.8M482.5 55.6L482.5 74.8M621.2 55.6L621.2 74.8"/></g>
<use href="#b84" stroke="#86268a" stroke-width="2.9"/>
<use href="#b84" stroke="#e0b0e4" stroke-width="1.1"/>
<g fill="url(#gT)"><circle cx="112.8" cy="126.2" r="13.4"/><circle cx="251.5" cy="126.2" r="13.4"/><circle cx="390.1" cy="126.2" r="13.4"/><circle cx="528.8" cy="126.2" r="13.4"/><circle cx="667.4" cy="126.2" r="13.4"/></g>
<g fill="url(#gS)"><circle cx="66.6" cy="162.5" r="9.5"/><circle cx="66.6" cy="94" r="9.5"/><circle cx="205.3" cy="162.5" r="9.5"/><circle cx="205.3" cy="94" r="9.5"/><circle cx="343.9" cy="162.5" r="9.5"/><circle cx="343.9" cy="94" r="9.5"/><circle cx="482.5" cy="162.5" r="9.5"/><circle cx="482.5" cy="94" r="9.5"/><circle cx="621.2" cy="162.5" r="9.5"/><circle cx="621.2" cy="94" r="9.5"/></g>
<g fill="url(#gF)"><circle cx="66.6" cy="55.6" r="6.4"/><circle cx="205.3" cy="55.6" r="6.4"/><circle cx="343.9" cy="55.6" r="6.4"/><circle cx="482.5" cy="55.6" r="6.4"/><circle cx="621.2" cy="55.6" r="6.4"/></g>
<rect width="806" height="176" fill="#fff" opacity="0.014"/>
<g stroke="#2c6228" stroke-width="4.2"><path id="b85" d="M117.2 134.2L122.7 144.2M117.4 118.6L122.7 109.7M256.3 134.2L262.4 144.2M256.5 118.6L262.4 109.7M395.4 134.2L402 144.2M395.6 118.6L402 109.7M534.5 134.2L541.7 144.2M534.7 118.6L541.7 109.7M673.6 134.2L681.4 144.2M673.9 118.6L681.4 109.7"/></g>
<use href="#b85" stroke="#3e8434" stroke-width="2.9"/>
<use href="#b85" stroke="#4a963c" stroke-width="1.3"/>
<g stroke="#3565b0" stroke-width="4.2"><path id="b86" d="M62.3 156.8L52.8 144.2M62.1 99.1L52.8 109.7M201.3 156.8L192.5 144.2M201.1 99.1L192.5 109.7M340.2 156.8L332.2 144.2M340.1 99.1L332.2 109.7M479.2 156.8L471.9 144.2M479.1 99.1L471.9 109.7M618.2 156.8L611.6 144.2M618.1 99.1L611.6 109.7"/></g>
<use href="#b86" stroke="#4a84d0" stroke-width="2.9"/>
<use href="#b86" stroke="#5c96dc" stroke-width="1.3"/>
<g stroke="#2c6228" stroke-width="4.2"><path id="b87" d="M52.8 144.2L38.8 125.6M52.8 109.7L38.8 125.6M192.5 144.2L179.6 125.6M192.5 109.7L179.6 125.6M332.2 144.2L320.3 125.6M332.2 109.7L320.3 125.6M471.9 144.2L461.1 125.6M471.9 109.7L461.1 125.6M611.6 144.2L601.8 125.6M611.6 109.7L601.8 125.6"/></g>
<use href="#b87" stroke="#3e8434" stroke-width="2.9"/>
<use href="#b87" stroke="#4a963c" stroke-width="1.3"/>
<g stroke="#3565b0" stroke-width="4.2"><path id="b88" d="M122.7 144.2L132.7 162.5M122.7 109.7L132.7 93M262.4 144.2L273.4 162.5M262.4 109.7L273.4 93M402 144.2L414.2 162.5M402 109.7L414.2 93M541.7 144.2L554.9 162.5M541.7 109.7L554.9 93M681.4 144.2L695.7 162.5M681.4 109.7L695.7 93"/></g>
<use href="#b88" stroke="#4a84d0" stroke-width="2.9"/>
<use href="#b88" stroke="#5c96dc" stroke-width="1.3"/>
<g stroke="#2c6228" stroke-width="4.2"><path id="b89" d="M15.4 144.1L38.8 125.6M15.4 109.3L38.8 125.6M156.1 144.1L179.6 125.6M156.1 109.3L179.6 125.6M296.9 144.1L320.3 125.6M296.9 109.3L320.3 125.6M437.6 144.1L461.1 125.6M437.6 109.3L461.1 125.6M578.4 144.1L601.8 125.6M578.4 109.3L601.8 125.6"/></g>
<use href="#b89" stroke="#3e8434" stroke-width="3"/>
<use href="#b89" stroke="#d0f0a0" stroke-width="1.1"/>
<g stroke="#3565b0" stroke-width="4.2"><path id="b90" d="M-8.1 162.5L15.4 144.1M-8.1 93L15.4 109.3M132.7 73.5L132.7 93M132.7 162.5L156.1 144.1M132.7 93L156.1 109.3M273.4 73.5L273.4 93M273.4 162.5L296.9 144.1M273.4 93L296.9 109.3M414.2 73.5L414.2 93M414.2 162.5L437.6 144.1M414.2 93L437.6 109.3M554.9 73.5L554.9 93M554.9 162.5L578.4 144.1M554.9 93L578.4 109.3M695.7 73.5L695.7 93"/></g>
<use href="#b90" stroke="#4a84d0" stroke-width="3"/>
<use href="#b90" stroke="#cfe9ff" stroke-width="1.1"/>
<g stroke="#5c1462" stroke-width="4.2"><path id="b91" d="M132.7 54L132.7 73.5M273.4 54L273.4 73.5M414.2 54L414.2 73.5M554.9 54L554.9 73.5M695.7 54L695.7 73.5"/></g>
<use href="#b91" stroke="#86268a" stroke-width="3"/>
<use href="#b91" stroke="#e0b0e4" stroke-width="1.1"/>
<g fill="url(#gT)"><circle cx="38.8" cy="125.6" r="13.7"/><circle cx="179.6" cy="125.6" r="13.7"/><circle cx="320.3" cy="125.6" r="13.7"/><circle cx="461.1" cy="125.6" r="13.7"/><circle cx="601.8" cy="125.6" r="13.7"/></g>
<g fill="url(#gS)"><circle cx="-8.1" cy="162.5" r="9.7"/><circle cx="-8.1" cy="93" r="9.7"/><circle cx="132.7" cy="162.5" r="9.7"/><circle cx="132.7" cy="93" r="9.7"/><circle cx="273.4" cy="162.5" r="9.7"/><circle cx="273.4" cy="93" r="9.7"/><circle cx="414.2" cy="162.5" r="9.7"/><circle cx="414.2" cy="93" r="9.7"/><circle cx="554.9" cy="162.5" r="9.7"/><circle cx="554.9" cy="93" r="9.7"/><circle cx="695.7" cy="162.5" r="9.7"/><circle cx="695.7" cy="93" r="9.7"/></g>
<g fill="url(#gF)"><circle cx="132.7" cy="54" r="6.5"/><circle cx="273.4" cy="54" r="6.5"/><circle cx="414.2" cy="54" r="6.5"/><circle cx="554.9" cy="54" r="6.5"/><circle cx="695.7" cy="54" r="6.5"/></g>
<rect width="806" height="176" fill="#fff" opacity="0.014"/>
<g stroke="#2c6228" stroke-width="4.2"><path id="b92" d="M43 133.7L48.3 143.9M43.2 117.9L48.3 108.9M184.2 133.7L190.1 143.9M184.4 117.9L190.1 108.9M325.5 133.7L331.9 143.9M325.7 117.9L331.9 108.9M466.7 133.7L473.7 143.9M466.9 117.9L473.7 108.9M607.9 133.7L615.6 143.9M608.2 117.9L615.6 108.9"/></g>
<use href="#b92" stroke="#3e8434" stroke-width="3"/>
<use href="#b92" stroke="#4a963c" stroke-width="1.3"/>
<g stroke="#3565b0" stroke-width="4.2"><path id="b93" d="M128.5 156.7L119.2 143.9M128.3 98.2L119.2 108.9M269.5 156.7L261 143.9M269.4 98.2L261 108.9M410.6 156.7L402.8 143.9M410.5 98.2L402.8 108.9M551.7 156.7L544.6 143.9M551.6 98.2L544.6 108.9M692.8 156.7L686.5 143.9M692.7 98.2L686.5 108.9"/></g>
<use href="#b93" stroke="#4a84d0" stroke-width="3"/>
<use href="#b93" stroke="#5c96dc" stroke-width="1.3"/>
<g stroke="#2c6228" stroke-width="4.3"><path id="b94" d="M119.2 143.9L105.5 125.1M119.2 108.9L105.5 125.1M261 143.9L248.4 125.1M261 108.9L248.4 125.1M402.8 143.9L391.3 125.1M402.8 108.9L391.3 125.1M544.6 143.9L534.2 125.1M544.6 108.9L534.2 125.1M686.5 143.9L677.1 125.1M686.5 108.9L677.1 125.1"/></g>
<use href="#b94" stroke="#3e8434" stroke-width="3"/>
<use href="#b94" stroke="#4a963c" stroke-width="1.3"/>
<g stroke="#3565b0" stroke-width="4.3"><path id="b95" d="M48.3 143.9L57.9 162.5M48.3 108.9L57.9 91.9M190.1 143.9L200.8 162.5M190.1 108.9L200.8 91.9M331.9 143.9L343.7 162.5M331.9 108.9L343.7 91.9M473.7 143.9L486.6 162.5M473.7 108.9L486.6 91.9M615.6 143.9L629.5 162.5M615.6 108.9L629.5 91.9"/></g>
<use href="#b95" stroke="#4a84d0" stroke-width="3"/>
<use href="#b95" stroke="#5c96dc" stroke-width="1.3"/>
<g stroke="#2c6228" stroke-width="4.3"><path id="b96" d="M81.7 143.8L105.5 125.1M81.7 108.5L105.5 125.1M224.6 143.8L248.4 125.1M224.6 108.5L248.4 125.1M367.5 143.8L391.3 125.1M367.5 108.5L391.3 125.1M510.4 143.8L534.2 125.1M510.4 108.5L534.2 125.1M653.3 143.8L677.1 125.1M653.3 108.5L677.1 125.1"/></g>
<use href="#b96" stroke="#3e8434" stroke-width="3"/>
<use href="#b96" stroke="#d0f0a0" stroke-width="1.2"/>
<g stroke="#3565b0" stroke-width="4.3"><path id="b97" d="M57.9 72.1L57.9 91.9M57.9 162.5L81.7 143.8M57.9 91.9L81.7 108.5M200.8 72.1L200.8 91.9M200.8 162.5L224.6 143.8M200.8 91.9L224.6 108.5M343.7 72.1L343.7 91.9M343.7 162.5L367.5 143.8M343.7 91.9L367.5 108.5M486.6 72.1L486.6 91.9M486.6 162.5L510.4 143.8M486.6 91.9L510.4 108.5M629.5 72.1L629.5 91.9M629.5 162.5L653.3 143.8M629.5 91.9L653.3 108.5"/></g>
<use href="#b97" stroke="#4a84d0" stroke-width="3"/>
<use href="#b97" stroke="#cfe9ff" stroke-width="1.2"/>
<g stroke="#5c1462" stroke-width="4.3"><path id="b98" d="M57.9 52.3L57.9 72.1M200.8 52.3L200.8 72.1M343.7 52.3L343.7 72.1M486.6 52.3L486.6 72.1M629.5 52.3L629.5 72.1"/></g>
<use href="#b98" stroke="#86268a" stroke-width="3"/>
<use href="#b98" stroke="#e0b0e4" stroke-width="1.2"/>
<g fill="url(#gT)"><circle cx="105.5" cy="125.1" r="13.9"/><circle cx="248.4" cy="125.1" r="13.9"/><circle cx="391.3" cy="125.1" r="13.9"/><circle cx="534.2" cy="125.1" r="13.9"/><circle cx="677.1" cy="125.1" r="13.9"/></g>
<g fill="url(#gS)"><circle cx="57.9" cy="162.5" r="9.8"/><circle cx="57.9" cy="91.9" r="9.8"/><circle cx="200.8" cy="162.5" r="9.8"/><circle cx="200.8" cy="91.9" r="9.8"/><circle cx="343.7" cy="162.5" r="9.8"/><circle cx="343.7" cy="91.9" r="9.8"/><circle cx="486.6" cy="162.5" r="9.8"/><circle cx="486.6" cy="91.9" r="9.8"/><circle cx="629.5" cy="162.5" r="9.8"/><circle cx="629.5" cy="91.9" r="9.8"/></g>
<g fill="url(#gF)"><circle cx="57.9" cy="52.3" r="6.6"/><circle cx="200.8" cy="52.3" r="6.6"/><circle cx="343.7" cy="52.3" r="6.6"/><circle cx="486.6" cy="52.3" r="6.6"/><circle cx="629.5" cy="52.3" r="6.6"/></g>
<rect width="806" height="176" fill="#fff" opacity="0.014"/>
<g stroke="#2c6228" stroke-width="4.3"><path id="b99" d="M110 133.3L115.6 143.6M110.2 117.2L115.6 108.1M253.4 133.3L259.6 143.6M253.6 117.2L259.6 108.1M396.8 133.3L403.6 143.6M397 117.2L403.6 108.1M540.2 133.3L547.6 143.6M540.4 117.2L547.6 108.1M683.6 133.3L691.7 143.6M683.8 117.2L691.7 108.1"/></g>
<use href="#b99" stroke="#3e8434" stroke-width="3"/>
<use href="#b99" stroke="#4a963c" stroke-width="1.3"/>
<g stroke="#3565b0" stroke-width="4.3"><path id="b100" d="M53.4 156.6L43.6 143.6M53.2 97.2L43.6 108.1M196.7 156.6L187.6 143.6M196.5 97.2L187.6 108.1M339.9 156.6L331.6 143.6M339.7 97.2L331.6 108.1M483.2 156.6L475.6 143.6M483 97.2L475.6 108.1M626.4 156.6L619.7 143.6M626.3 97.2L619.7 108.1"/></g>
<use href="#b100" stroke="#4a84d0" stroke-width="3"/>
<use href="#b100" stroke="#5c96dc" stroke-width="1.3"/>
<g stroke="#2c6228" stroke-width="4.3"><path id="b101" d="M43.6 143.6L29.1 124.5M43.6 108.1L29.1 124.5M187.6 143.6L174.2 124.5M187.6 108.1L174.2 124.5M331.6 143.6L319.4 124.5M331.6 108.1L319.4 124.5M475.6 143.6L464.5 124.5M475.6 108.1L464.5 124.5M619.7 143.6L609.7 124.5M619.7 108.1L609.7 124.5"/></g>
<use href="#b101" stroke="#3e8434" stroke-width="3"/>
<use href="#b101" stroke="#4a963c" stroke-width="1.3"/>
<g stroke="#3565b0" stroke-width="4.3"><path id="b102" d="M115.6 143.6L125.9 162.5M115.6 108.1L125.9 90.8M259.6 143.6L271 162.5M259.6 108.1L271 90.8M403.6 143.6L416.1 162.5M403.6 108.1L416.1 90.8M547.6 143.6L561.3 162.5M547.6 108.1L561.3 90.8M691.7 143.6L706.4 162.5M691.7 108.1L706.4 90.8"/></g>
<use href="#b102" stroke="#4a84d0" stroke-width="3"/>
<use href="#b102" stroke="#5c96dc" stroke-width="1.3"/>
<g stroke="#2c6228" stroke-width="4.4"><path id="b103" d="M4.9 143.5L29.1 124.5M4.9 107.6L29.1 124.5M150 143.5L174.2 124.5M150 107.6L174.2 124.5M295.2 143.5L319.4 124.5M295.2 107.6L319.4 124.5M440.3 143.5L464.5 124.5M440.3 107.6L464.5 124.5M585.5 143.5L609.7 124.5M585.5 107.6L609.7 124.5"/></g>
<use href="#b103" stroke="#3e8434" stroke-width="3.1"/>
<use href="#b103" stroke="#d0f0a0" stroke-width="1.2"/>
<g stroke="#3565b0" stroke-width="4.4"><path id="b104" d="M-19.3 162.5L4.9 143.5M-19.3 90.8L4.9 107.6M125.9 70.7L125.9 90.8M125.9 162.5L150 143.5M125.9 90.8L150 107.6M271 70.7L271 90.8M271 162.5L295.2 143.5M271 90.8L295.2 107.6M416.1 70.7L416.1 90.8M416.1 162.5L440.3 143.5M416.1 90.8L440.3 107.6M561.3 70.7L561.3 90.8M561.3 162.5L585.5 143.5M561.3 90.8L585.5 107.6M706.4 70.7L706.4 90.8"/></g>
<use href="#b104" stroke="#4a84d0" stroke-width="3.1"/>
<use href="#b104" stroke="#cfe9ff" stroke-width="1.2"/>
<g stroke="#5c1462" stroke-width="4.4"><path id="b105" d="M125.9 50.6L125.9 70.7M271 50.6L271 70.7M416.1 50.6L416.1 70.7M561.3 50.6L561.3 70.7M706.4 50.6L706.4 70.7"/></g>
<use href="#b105" stroke="#86268a" stroke-width="3.1"/>
<use href="#b105" stroke="#e0b0e4" stroke-width="1.2"/>
<g fill="url(#gT)"><circle cx="29.1" cy="124.5" r="14.1"/><circle cx="174.2" cy="124.5" r="14.1"/><circle cx="319.4" cy="124.5" r="14.1"/><circle cx="464.5" cy="124.5" r="14.1"/><circle cx="609.7" cy="124.5" r="14.1"/></g>
<g fill="url(#gS)"><circle cx="125.9" cy="162.5" r="10"/><circle cx="125.9" cy="90.8" r="10"/><circle cx="271" cy="162.5" r="10"/><circle cx="271" cy="90.8" r="10"/><circle cx="416.1" cy="162.5" r="10"/><circle cx="416.1" cy="90.8" r="10"/><circle cx="561.3" cy="162.5" r="10"/><circle cx="561.3" cy="90.8" r="10"/><circle cx="706.4" cy="162.5" r="10"/><circle cx="706.4" cy="90.8" r="10"/></g>
<g fill="url(#gF)"><circle cx="125.9" cy="50.6" r="6.7"/><circle cx="271" cy="50.6" r="6.7"/><circle cx="416.1" cy="50.6" r="6.7"/><circle cx="561.3" cy="50.6" r="6.7"/><circle cx="706.4" cy="50.6" r="6.7"/></g>
<rect width="806" height="176" fill="#fff" opacity="0.014"/>
<g stroke="#2c6228" stroke-width="4.4"><path id="b106" d="M33.4 132.8L38.7 143.3M33.5 116.5L38.7 107.2M179 132.8L185 143.3M179.2 116.5L185 107.2M324.7 132.8L331.3 143.3M324.9 116.5L331.3 107.2M470.3 132.8L477.6 143.3M470.6 116.5L477.6 107.2M615.9 132.8L623.9 143.3M616.2 116.5L623.9 107.2"/></g>
<use href="#b106" stroke="#3e8434" stroke-width="3.1"/>
<use href="#b106" stroke="#4a963c" stroke-width="1.3"/>
<g stroke="#3565b0" stroke-width="4.4"><path id="b107" d="M121.5 156.5L111.9 143.3M121.3 96.1L111.9 107.2M267 156.5L258.2 143.3M266.8 96.1L258.2 107.2M412.5 156.5L404.5 143.3M412.3 96.1L404.5 107.2M558 156.5L550.7 143.3M557.8 96.1L550.7 107.2M703.5 156.5L697 143.3M703.4 96.1L697 107.2"/></g>
<use href="#b107" stroke="#4a84d0" stroke-width="3.1"/>
<use href="#b107" stroke="#5c96dc" stroke-width="1.3"/>
<g stroke="#2c6228" stroke-width="4.4"><path id="b108" d="M111.9 143.3L97.7 123.9M111.9 107.2L97.7 123.9M258.2 143.3L245.2 123.9M258.2 107.2L245.2 123.9M404.5 143.3L392.6 123.9M404.5 107.2L392.6 123.9M550.7 143.3L540 123.9M550.7 107.2L540 123.9M697 143.3L687.5 123.9M697 107.2L687.5 123.9"/></g>
<use href="#b108" stroke="#3e8434" stroke-width="3.1"/>
<use href="#b108" stroke="#4a963c" stroke-width="1.3"/>
<g stroke="#3565b0" stroke-width="4.4"><path id="b109" d="M38.7 143.3L48.6 162.5M38.7 107.2L48.6 89.6M185 143.3L196 162.5M185 107.2L196 89.6M331.3 143.3L343.4 162.5M331.3 107.2L343.4 89.6M477.6 143.3L490.9 162.5M477.6 107.2L490.9 89.6M623.9 143.3L638.3 162.5M623.9 107.2L638.3 89.6"/></g>
<use href="#b109" stroke="#4a84d0" stroke-width="3.1"/>
<use href="#b109" stroke="#5c96dc" stroke-width="1.3"/>
<g stroke="#2c6228" stroke-width="4.4"><path id="b110" d="M73.1 143.2L97.7 123.9M73.1 106.8L97.7 123.9M220.6 143.2L245.2 123.9M220.6 106.8L245.2 123.9M368 143.2L392.6 123.9M368 106.8L392.6 123.9M515.5 143.2L540 123.9M515.5 106.8L540 123.9M662.9 143.2L687.5 123.9M662.9 106.8L687.5 123.9"/></g>
<use href="#b110" stroke="#3e8434" stroke-width="3.1"/>
<use href="#b110" stroke="#d0f0a0" stroke-width="1.2"/>
<g stroke="#3565b0" stroke-width="4.4"><path id="b111" d="M48.6 69.2L48.6 89.6M48.6 162.5L73.1 143.2M48.6 89.6L73.1 106.8M196 69.2L196 89.6M196 162.5L220.6 143.2M196 89.6L220.6 106.8M343.4 69.2L343.4 89.6M343.4 162.5L368 143.2M343.4 89.6L368 106.8M490.9 69.2L490.9 89.6M490.9 162.5L515.5 143.2M490.9 89.6L515.5 106.8M638.3 69.2L638.3 89.6M638.3 162.5L662.9 143.2M638.3 89.6L662.9 106.8"/></g>
<use href="#b111" stroke="#4a84d0" stroke-width="3.1"/>
<use href="#b111" stroke="#cfe9ff" stroke-width="1.2"/>
<g stroke="#5c1462" stroke-width="4.4"><path id="b112" d="M48.6 48.8L48.6 69.2M196 48.8L196 69.2M343.4 48.8L343.4 69.2M490.9 48.8L490.9 69.2M638.3 48.8L638.3 69.2"/></g>
<use href="#b112" stroke="#86268a" stroke-width="3.1"/>
<use href="#b112" stroke="#e0b0e4" stroke-width="1.2"/>
<g fill="url(#gT)"><circle cx="97.7" cy="123.9" r="14.3"/><circle cx="245.2" cy="123.9" r="14.3"/><circle cx="392.6" cy="123.9" r="14.3"/><circle cx="540" cy="123.9" r="14.3"/><circle cx="687.5" cy="123.9" r="14.3"/></g>
<g fill="url(#gS)"><circle cx="48.6" cy="162.5" r="10.1"/><circle cx="48.6" cy="89.6" r="10.1"/><circle cx="196" cy="162.5" r="10.1"/><circle cx="196" cy="89.6" r="10.1"/><circle cx="343.4" cy="162.5" r="10.1"/><circle cx="343.4" cy="89.6" r="10.1"/><circle cx="490.9" cy="162.5" r="10.1"/><circle cx="490.9" cy="89.6" r="10.1"/><circle cx="638.3" cy="162.5" r="10.1"/><circle cx="638.3" cy="89.6" r="10.1"/></g>
<g fill="url(#gF)"><circle cx="48.6" cy="48.8" r="6.8"/><circle cx="196" cy="48.8" r="6.8"/><circle cx="343.4" cy="48.8" r="6.8"/><circle cx="490.9" cy="48.8" r="6.8"/><circle cx="638.3" cy="48.8" r="6.8"/></g>
<rect width="806" height="176" fill="#fff" opacity="0.014"/>
<g stroke="#2c6228" stroke-width="4.4"><path id="b113" d="M102.3 132.4L108.1 143M102.5 115.8L108.1 106.3M250.2 132.4L256.7 143M250.5 115.8L256.7 106.3M398.2 132.4L405.3 143M398.5 115.8L405.3 106.3M546.2 132.4L553.9 143M546.5 115.8L553.9 106.3M694.1 132.4L702.6 143M694.4 115.8L702.6 106.3"/></g>
<use href="#b113" stroke="#3e8434" stroke-width="3.1"/>
<use href="#b113" stroke="#4a963c" stroke-width="1.3"/>
<g stroke="#3565b0" stroke-width="4.4"><path id="b114" d="M43.9 156.4L33.8 143M43.7 95.1L33.8 106.3M191.7 156.4L182.4 143M191.6 95.1L182.4 106.3M339.6 156.4L331 143M339.4 95.1L331 106.3M487.4 156.4L479.6 143M487.2 95.1L479.6 106.3M635.2 156.4L628.3 143M635 95.1L628.3 106.3"/></g>
<use href="#b114" stroke="#4a84d0" stroke-width="3.1"/>
<use href="#b114" stroke="#5c96dc" stroke-width="1.3"/>
<g stroke="#2c6228" stroke-width="4.5"><path id="b115" d="M33.8 143L18.7 123.3M33.8 106.3L18.7 123.3M182.4 143L168.5 123.3M182.4 106.3L168.5 123.3M331 143L318.4 123.3M331 106.3L318.4 123.3M479.6 143L468.2 123.3M479.6 106.3L468.2 123.3M628.3 143L618 123.3M628.3 106.3L618 123.3"/></g>
<use href="#b115" stroke="#3e8434" stroke-width="3.1"/>
<use href="#b115" stroke="#4a963c" stroke-width="1.3"/>
<g stroke="#3565b0" stroke-width="4.5"><path id="b116" d="M108.1 143L118.6 162.5M108.1 106.3L118.6 88.5M256.7 143L268.4 162.5M256.7 106.3L268.4 88.5M405.3 143L418.2 162.5M405.3 106.3L418.2 88.5M553.9 143L568.1 162.5M553.9 106.3L568.1 88.5M702.6 143L717.9 162.5M702.6 106.3L717.9 88.5"/></g>
<use href="#b116" stroke="#4a84d0" stroke-width="3.1"/>
<use href="#b116" stroke="#5c96dc" stroke-width="1.3"/>
<g stroke="#2c6228" stroke-width="4.5"><path id="b117" d="M-6.3 142.9L18.7 123.3M-6.3 105.9L18.7 123.3M143.6 142.9L168.5 123.3M143.6 105.9L168.5 123.3M293.4 142.9L318.4 123.3M293.4 105.9L318.4 123.3M443.2 142.9L468.2 123.3M443.2 105.9L468.2 123.3M593 142.9L618 123.3M593 105.9L618 123.3"/></g>
<use href="#b117" stroke="#3e8434" stroke-width="3.1"/>
<use href="#b117" stroke="#d0f0a0" stroke-width="1.2"/>
<g stroke="#3565b0" stroke-width="4.5"><path id="b118" d="M118.6 67.7L118.6 88.5M118.6 162.5L143.6 142.9M118.6 88.5L143.6 105.9M268.4 67.7L268.4 88.5M268.4 162.5L293.4 142.9M268.4 88.5L293.4 105.9M418.2 67.7L418.2 88.5M418.2 162.5L443.2 142.9M418.2 88.5L443.2 105.9M568.1 67.7L568.1 88.5M568.1 162.5L593 142.9M568.1 88.5L593 105.9M717.9 67.7L717.9 88.5"/></g>
<use href="#b118" stroke="#4a84d0" stroke-width="3.1"/>
<use href="#b118" stroke="#cfe9ff" stroke-width="1.2"/>
<g stroke="#5c1462" stroke-width="4.5"><path id="b119" d="M118.6 47L118.6 67.7M268.4 47L268.4 67.7M418.2 47L418.2 67.7M568.1 47L568.1 67.7M717.9 47L717.9 67.7"/></g>
<use href="#b119" stroke="#86268a" stroke-width="3.1"/>
<use href="#b119" stroke="#e0b0e4" stroke-width="1.2"/>
<g fill="url(#gT)"><circle cx="18.7" cy="123.3" r="14.5"/><circle cx="168.5" cy="123.3" r="14.5"/><circle cx="318.4" cy="123.3" r="14.5"/><circle cx="468.2" cy="123.3" r="14.5"/><circle cx="618" cy="123.3" r="14.5"/></g>
<g fill="url(#gS)"><circle cx="118.6" cy="162.5" r="10.3"/><circle cx="118.6" cy="88.5" r="10.3"/><circle cx="268.4" cy="162.5" r="10.3"/><circle cx="268.4" cy="88.5" r="10.3"/><circle cx="418.2" cy="162.5" r="10.3"/><circle cx="418.2" cy="88.5" r="10.3"/><circle cx="568.1" cy="162.5" r="10.3"/><circle cx="568.1" cy="88.5" r="10.3"/><circle cx="717.9" cy="162.5" r="10.3"/><circle cx="717.9" cy="88.5" r="10.3"/></g>
<g fill="url(#gF)"><circle cx="118.6" cy="47" r="6.9"/><circle cx="268.4" cy="47" r="6.9"/><circle cx="418.2" cy="47" r="6.9"/><circle cx="568.1" cy="47" r="6.9"/><circle cx="717.9" cy="47" r="6.9"/></g>
<g stroke="#2c6228" stroke-width="4.5"><path id="b120" d="M23.1 131.9L28.6 142.7M23.3 115L28.6 105.4M173.4 131.9L179.6 142.7M173.7 115L179.6 105.4M323.8 131.9L330.7 142.7M324 115L330.7 105.4M474.2 131.9L481.7 142.7M474.4 115L481.7 105.4M624.5 131.9L632.8 142.7M624.8 115L632.8 105.4"/></g>
<use href="#b120" stroke="#3e8434" stroke-width="3.2"/>
<use href="#b120" stroke="#4a963c" stroke-width="1.4"/>
<g stroke="#3565b0" stroke-width="4.5"><path id="b121" d="M114.1 156.3L104.1 142.7M113.9 94L104.1 105.4M264.3 156.3L255.2 142.7M264.1 94L255.2 105.4M414.5 156.3L406.2 142.7M414.3 94L406.2 105.4M564.7 156.3L557.2 142.7M564.5 94L557.2 105.4M714.9 156.3L708.3 142.7M714.7 94L708.3 105.4"/></g>
<use href="#b121" stroke="#4a84d0" stroke-width="3.2"/>
<use href="#b121" stroke="#5c96dc" stroke-width="1.4"/>
<g stroke="#2c6228" stroke-width="4.6"><path id="b122" d="M104.1 142.7L89.4 122.6M104.1 105.4L89.4 122.6M255.2 142.7L241.7 122.6M255.2 105.4L241.7 122.6M406.2 142.7L394 122.6M406.2 105.4L394 122.6M557.2 142.7L546.2 122.6M557.2 105.4L546.2 122.6M708.3 142.7L698.5 122.6M708.3 105.4L698.5 122.6"/></g>
<use href="#b122" stroke="#3e8434" stroke-width="3.2"/>
<use href="#b122" stroke="#4a963c" stroke-width="1.4"/>
<g stroke="#3565b0" stroke-width="4.6"><path id="b123" d="M28.6 142.7L38.6 162.5M28.6 105.4L38.6 87.3M179.6 142.7L190.9 162.5M179.6 105.4L190.9 87.3M330.7 142.7L343.2 162.5M330.7 105.4L343.2 87.3M481.7 142.7L495.5 162.5M481.7 105.4L495.5 87.3M632.8 142.7L647.8 162.5M632.8 105.4L647.8 87.3"/></g>
<use href="#b123" stroke="#4a84d0" stroke-width="3.2"/>
<use href="#b123" stroke="#5c96dc" stroke-width="1.4"/>
<g stroke="#2c6228" stroke-width="4.6"><path id="b124" d="M64 142.6L89.4 122.6M64 104.9L89.4 122.6M216.3 142.6L241.7 122.6M216.3 104.9L241.7 122.6M368.6 142.6L394 122.6M368.6 104.9L394 122.6M520.9 142.6L546.2 122.6M520.9 104.9L546.2 122.6M673.1 142.6L698.5 122.6M673.1 104.9L698.5 122.6"/></g>
<use href="#b124" stroke="#3e8434" stroke-width="3.2"/>
<use href="#b124" stroke="#d0f0a0" stroke-width="1.2"/>
<g stroke="#3565b0" stroke-width="4.6"><path id="b125" d="M38.6 66.2L38.6 87.3M38.6 162.5L64 142.6M38.6 87.3L64 104.9M190.9 66.2L190.9 87.3M190.9 162.5L216.3 142.6M190.9 87.3L216.3 104.9M343.2 66.2L343.2 87.3M343.2 162.5L368.6 142.6M343.2 87.3L368.6 104.9M495.5 66.2L495.5 87.3M495.5 162.5L520.9 142.6M495.5 87.3L520.9 104.9M647.8 66.2L647.8 87.3M647.8 162.5L673.1 142.6M647.8 87.3L673.1 104.9"/></g>
<use href="#b125" stroke="#4a84d0" stroke-width="3.2"/>
<use href="#b125" stroke="#cfe9ff" stroke-width="1.2"/>
<g stroke="#5c1462" stroke-width="4.6"><path id="b126" d="M38.6 45.1L38.6 66.2M190.9 45.1L190.9 66.2M343.2 45.1L343.2 66.2M495.5 45.1L495.5 66.2M647.8 45.1L647.8 66.2"/></g>
<use href="#b126" stroke="#86268a" stroke-width="3.2"/>
<use href="#b126" stroke="#e0b0e4" stroke-width="1.2"/>
<g fill="url(#gT)"><circle cx="89.4" cy="122.6" r="14.8"/><circle cx="241.7" cy="122.6" r="14.8"/><circle cx="394" cy="122.6" r="14.8"/><circle cx="546.2" cy="122.6" r="14.8"/><circle cx="698.5" cy="122.6" r="14.8"/></g>
<g fill="url(#gS)"><circle cx="38.6" cy="162.5" r="10.5"/><circle cx="38.6" cy="87.3" r="10.5"/><circle cx="190.9" cy="162.5" r="10.5"/><circle cx="190.9" cy="87.3" r="10.5"/><circle cx="343.2" cy="162.5" r="10.5"/><circle cx="343.2" cy="87.3" r="10.5"/><circle cx="495.5" cy="162.5" r="10.5"/><circle cx="495.5" cy="87.3" r="10.5"/><circle cx="647.8" cy="162.5" r="10.5"/><circle cx="647.8" cy="87.3" r="10.5"/></g>
<g fill="url(#gF)"><circle cx="38.6" cy="45.1" r="7"/><circle cx="190.9" cy="45.1" r="7"/><circle cx="343.2" cy="45.1" r="7"/><circle cx="495.5" cy="45.1" r="7"/><circle cx="647.8" cy="45.1" r="7"/></g>
<g stroke="#2c6228" stroke-width="4.6"><path id="b127" d="M94.1 131.4L100 142.4M94.3 114.2L100 104.5M246.9 131.4L253.6 142.4M247.2 114.2L253.6 104.5M399.8 131.4L407.1 142.4M400 114.2L407.1 104.5M552.6 131.4L560.6 142.4M552.9 114.2L560.6 104.5M705.4 131.4L714.2 142.4M705.7 114.2L714.2 104.5"/></g>
<use href="#b127" stroke="#3e8434" stroke-width="3.2"/>
<use href="#b127" stroke="#4a963c" stroke-width="1.4"/>
<g stroke="#3565b0" stroke-width="4.6"><path id="b128" d="M33.8 156.2L23.3 142.4M33.6 92.9L23.3 104.5M186.5 156.2L176.8 142.4M186.3 92.9L176.8 104.5M339.2 156.2L330.3 142.4M339 92.9L330.3 104.5M491.9 156.2L483.9 142.4M491.7 92.9L483.9 104.5M644.5 156.2L637.4 142.4M644.4 92.9L637.4 104.5"/></g>
<use href="#b128" stroke="#4a84d0" stroke-width="3.2"/>
<use href="#b128" stroke="#5c96dc" stroke-width="1.4"/>
<g stroke="#2c6228" stroke-width="4.6"><path id="b129" d="M23.3 142.4L7.6 122M23.3 104.5L7.6 122M176.8 142.4L162.5 122M176.8 104.5L162.5 122M330.3 142.4L317.3 122M330.3 104.5L317.3 122M483.9 142.4L472.1 122M483.9 104.5L472.1 122M637.4 142.4L626.9 122M637.4 104.5L626.9 122"/></g>
<use href="#b129" stroke="#3e8434" stroke-width="3.2"/>
<use href="#b129" stroke="#4a963c" stroke-width="1.4"/>
<g stroke="#3565b0" stroke-width="4.6"><path id="b130" d="M100 142.4L110.8 162.5M100 104.5L110.8 86M253.6 142.4L265.7 162.5M253.6 104.5L265.7 86M407.1 142.4L420.5 162.5M407.1 104.5L420.5 86M560.6 142.4L575.3 162.5M560.6 104.5L575.3 86M714.2 142.4L730.1 162.5M714.2 104.5L730.1 86"/></g>
<use href="#b130" stroke="#4a84d0" stroke-width="3.2"/>
<use href="#b130" stroke="#5c96dc" stroke-width="1.4"/>
<g stroke="#2c6228" stroke-width="4.6"><path id="b131" d="M-18.2 142.2L7.6 122M-18.2 104L7.6 122M136.6 142.2L162.5 122M136.6 104L162.5 122M291.5 142.2L317.3 122M291.5 104L317.3 122M446.3 142.2L472.1 122M446.3 104L472.1 122M601.1 142.2L626.9 122M601.1 104L626.9 122"/></g>
<use href="#b131" stroke="#3e8434" stroke-width="3.3"/>
<use href="#b131" stroke="#d0f0a0" stroke-width="1.3"/>
<g stroke="#3565b0" stroke-width="4.6"><path id="b132" d="M110.8 64.6L110.8 86M110.8 162.5L136.6 142.2M110.8 86L136.6 104M265.7 64.6L265.7 86M265.7 162.5L291.5 142.2M265.7 86L291.5 104M420.5 64.6L420.5 86M420.5 162.5L446.3 142.2M420.5 86L446.3 104M575.3 64.6L575.3 86M575.3 162.5L601.1 142.2M575.3 86L601.1 104M730.1 64.6L730.1 86"/></g>
<use href="#b132" stroke="#4a84d0" stroke-width="3.3"/>
<use href="#b132" stroke="#cfe9ff" stroke-width="1.3"/>
<g stroke="#5c1462" stroke-width="4.6"><path id="b133" d="M110.8 43.1L110.8 64.6M265.7 43.1L265.7 64.6M420.5 43.1L420.5 64.6M575.3 43.1L575.3 64.6M730.1 43.1L730.1 64.6"/></g>
<use href="#b133" stroke="#86268a" stroke-width="3.3"/>
<use href="#b133" stroke="#e0b0e4" stroke-width="1.3"/>
<g fill="url(#gT)"><circle cx="7.6" cy="122" r="15"/><circle cx="162.5" cy="122" r="15"/><circle cx="317.3" cy="122" r="15"/><circle cx="472.1" cy="122" r="15"/><circle cx="626.9" cy="122" r="15"/></g>
<g fill="url(#gS)"><circle cx="110.8" cy="162.5" r="10.6"/><circle cx="110.8" cy="86" r="10.6"/><circle cx="265.7" cy="162.5" r="10.6"/><circle cx="265.7" cy="86" r="10.6"/><circle cx="420.5" cy="162.5" r="10.6"/><circle cx="420.5" cy="86" r="10.6"/><circle cx="575.3" cy="162.5" r="10.6"/><circle cx="575.3" cy="86" r="10.6"/><circle cx="730.1" cy="162.5" r="10.6"/><circle cx="730.1" cy="86" r="10.6"/></g>
<g fill="url(#gF)"><circle cx="110.8" cy="43.1" r="7.2"/><circle cx="265.7" cy="43.1" r="7.2"/><circle cx="420.5" cy="43.1" r="7.2"/><circle cx="575.3" cy="43.1" r="7.2"/><circle cx="730.1" cy="43.1" r="7.2"/></g>
<g stroke="#2c6228" stroke-width="4.7"><path id="b134" d="M12.1 130.8L17.8 142.1M12.3 113.4L17.8 103.5M167.5 130.8L173.9 142.1M167.7 113.4L173.9 103.5M322.9 130.8L330 142.1M323.1 113.4L330 103.5M478.3 130.8L486.1 142.1M478.6 113.4L486.1 103.5M633.7 130.8L642.2 142.1M634 113.4L642.2 103.5"/></g>
<use href="#b134" stroke="#3e8434" stroke-width="3.3"/>
<use href="#b134" stroke="#4a963c" stroke-width="1.4"/>
<g stroke="#3565b0" stroke-width="4.7"><path id="b135" d="M106.1 156.1L95.8 142.1M105.9 91.7L95.8 103.5M261.4 156.1L251.9 142.1M261.2 91.7L251.9 103.5M416.6 156.1L408.1 142.1M416.4 91.7L408.1 103.5M571.8 156.1L564.2 142.1M571.7 91.7L564.2 103.5M727 156.1L720.3 142.1M726.9 91.7L720.3 103.5"/></g>
<use href="#b135" stroke="#4a84d0" stroke-width="3.3"/>
<use href="#b135" stroke="#5c96dc" stroke-width="1.4"/>
<g stroke="#2c6228" stroke-width="4.7"><path id="b136" d="M95.8 142.1L80.5 121.3M95.8 103.5L80.5 121.3M251.9 142.1L238 121.3M251.9 103.5L238 121.3M408.1 142.1L395.4 121.3M408.1 103.5L395.4 121.3M564.2 142.1L552.9 121.3M564.2 103.5L552.9 121.3M720.3 142.1L710.3 121.3M720.3 103.5L710.3 121.3"/></g>
<use href="#b136" stroke="#3e8434" stroke-width="3.3"/>
<use href="#b136" stroke="#4a963c" stroke-width="1.4"/>
<g stroke="#3565b0" stroke-width="4.7"><path id="b137" d="M17.8 142.1L28.1 162.5M17.8 103.5L28.1 84.7M173.9 142.1L185.5 162.5M173.9 103.5L185.5 84.7M330 142.1L342.9 162.5M330 103.5L342.9 84.7M486.1 142.1L500.4 162.5M486.1 103.5L500.4 84.7M642.2 142.1L657.8 162.5M642.2 103.5L657.8 84.7"/></g>
<use href="#b137" stroke="#4a84d0" stroke-width="3.3"/>
<use href="#b137" stroke="#5c96dc" stroke-width="1.4"/>
<g stroke="#2c6228" stroke-width="4.7"><path id="b138" d="M54.3 141.9L80.5 121.3M54.3 103L80.5 121.3M211.7 141.9L238 121.3M211.7 103L238 121.3M369.2 141.9L395.4 121.3M369.2 103L395.4 121.3M526.6 141.9L552.9 121.3M526.6 103L552.9 121.3M684.1 141.9L710.3 121.3M684.1 103L710.3 121.3"/></g>
<use href="#b138" stroke="#3e8434" stroke-width="3.3"/>
<use href="#b138" stroke="#d0f0a0" stroke-width="1.3"/>
<g stroke="#3565b0" stroke-width="4.7"><path id="b139" d="M28.1 62.9L28.1 84.7M28.1 162.5L54.3 141.9M28.1 84.7L54.3 103M185.5 62.9L185.5 84.7M185.5 162.5L211.7 141.9M185.5 84.7L211.7 103M342.9 62.9L342.9 84.7M342.9 162.5L369.2 141.9M342.9 84.7L369.2 103M500.4 62.9L500.4 84.7M500.4 162.5L526.6 141.9M500.4 84.7L526.6 103M657.8 62.9L657.8 84.7M657.8 162.5L684.1 141.9M657.8 84.7L684.1 103"/></g>
<use href="#b139" stroke="#4a84d0" stroke-width="3.3"/>
<use href="#b139" stroke="#cfe9ff" stroke-width="1.3"/>
<g stroke="#5c1462" stroke-width="4.7"><path id="b140" d="M28.1 41.1L28.1 62.9M185.5 41.1L185.5 62.9M342.9 41.1L342.9 62.9M500.4 41.1L500.4 62.9M657.8 41.1L657.8 62.9"/></g>
<use href="#b140" stroke="#86268a" stroke-width="3.3"/>
<use href="#b140" stroke="#e0b0e4" stroke-width="1.3"/>
<g fill="url(#gT)"><circle cx="80.5" cy="121.3" r="15.3"/><circle cx="238" cy="121.3" r="15.3"/><circle cx="395.4" cy="121.3" r="15.3"/><circle cx="552.9" cy="121.3" r="15.3"/><circle cx="710.3" cy="121.3" r="15.3"/></g>
<g fill="url(#gS)"><circle cx="28.1" cy="162.5" r="10.8"/><circle cx="28.1" cy="84.7" r="10.8"/><circle cx="185.5" cy="162.5" r="10.8"/><circle cx="185.5" cy="84.7" r="10.8"/><circle cx="342.9" cy="162.5" r="10.8"/><circle cx="342.9" cy="84.7" r="10.8"/><circle cx="500.4" cy="162.5" r="10.8"/><circle cx="500.4" cy="84.7" r="10.8"/><circle cx="657.8" cy="162.5" r="10.8"/><circle cx="657.8" cy="84.7" r="10.8"/></g>
<g fill="url(#gF)"><circle cx="28.1" cy="41.1" r="7.3"/><circle cx="185.5" cy="41.1" r="7.3"/><circle cx="342.9" cy="41.1" r="7.3"/><circle cx="500.4" cy="41.1" r="7.3"/><circle cx="657.8" cy="41.1" r="7.3"/></g>
<g stroke="#2c6228" stroke-width="4.7"><path id="b141" d="M85.4 130.3L91.5 141.7M85.6 112.6L91.5 102.5M243.4 130.3L250.2 141.7M243.6 112.6L250.2 102.5M401.4 130.3L409 141.7M401.7 112.6L409 102.5M559.5 130.3L567.8 141.7M559.7 112.6L567.8 102.5M717.5 130.3L726.6 141.7M717.8 112.6L726.6 102.5"/></g>
<use href="#b141" stroke="#3e8434" stroke-width="3.3"/>
<use href="#b141" stroke="#4a963c" stroke-width="1.4"/>
<g stroke="#3565b0" stroke-width="4.7"><path id="b142" d="M23.1 156L12.1 141.7M22.8 90.5L12.1 102.5M180.9 156L170.9 141.7M180.7 90.5L170.9 102.5M338.8 156L329.6 141.7M338.6 90.5L329.6 102.5M496.6 156L488.4 141.7M496.5 90.5L488.4 102.5M654.5 156L647.2 141.7M654.3 90.5L647.2 102.5"/></g>
<use href="#b142" stroke="#4a84d0" stroke-width="3.3"/>
<use href="#b142" stroke="#5c96dc" stroke-width="1.4"/>
<g stroke="#2c6228" stroke-width="4.8"><path id="b143" d="M12.1 141.7L-4.2 120.6M12.1 102.5L-4.2 120.6M170.9 141.7L156 120.6M170.9 102.5L156 120.6M329.6 141.7L316.1 120.6M329.6 102.5L316.1 120.6M488.4 141.7L476.3 120.6M488.4 102.5L476.3 120.6M647.2 141.7L636.4 120.6M647.2 102.5L636.4 120.6"/></g>
<use href="#b143" stroke="#3e8434" stroke-width="3.4"/>
<use href="#b143" stroke="#4a963c" stroke-width="1.4"/>
<g stroke="#3565b0" stroke-width="4.8"><path id="b144" d="M91.5 141.7L102.6 162.5M91.5 102.5L102.6 83.4M250.2 141.7L262.7 162.5M250.2 102.5L262.7 83.4M409 141.7L422.9 162.5M409 102.5L422.9 83.4M567.8 141.7L583 162.5M567.8 102.5L583 83.4M726.6 141.7L743.2 162.5M726.6 102.5L743.2 83.4"/></g>
<use href="#b144" stroke="#4a84d0" stroke-width="3.4"/>
<use href="#b144" stroke="#5c96dc" stroke-width="1.4"/>
<g stroke="#2c6228" stroke-width="4.8"><path id="b145" d="M-30.9 141.5L-4.2 120.6M-30.9 102L-4.2 120.6M129.3 141.5L156 120.6M129.3 102L156 120.6M289.4 141.5L316.1 120.6M289.4 102L316.1 120.6M449.6 141.5L476.3 120.6M449.6 102L476.3 120.6M609.7 141.5L636.4 120.6M609.7 102L636.4 120.6"/></g>
<use href="#b145" stroke="#3e8434" stroke-width="3.4"/>
<use href="#b145" stroke="#d0f0a0" stroke-width="1.3"/>
<g stroke="#3565b0" stroke-width="4.8"><path id="b146" d="M102.6 61.2L102.6 83.4M102.6 162.5L129.3 141.5M102.6 83.4L129.3 102M262.7 61.2L262.7 83.4M262.7 162.5L289.4 141.5M262.7 83.4L289.4 102M422.9 61.2L422.9 83.4M422.9 162.5L449.6 141.5M422.9 83.4L449.6 102M583 61.2L583 83.4M583 162.5L609.7 141.5M583 83.4L609.7 102M743.2 61.2L743.2 83.4"/></g>
<use href="#b146" stroke="#4a84d0" stroke-width="3.4"/>
<use href="#b146" stroke="#cfe9ff" stroke-width="1.3"/>
<g stroke="#5c1462" stroke-width="4.8"><path id="b147" d="M102.6 39L102.6 61.2M262.7 39L262.7 61.2M422.9 39L422.9 61.2M583 39L583 61.2M743.2 39L743.2 61.2"/></g>
<use href="#b147" stroke="#86268a" stroke-width="3.4"/>
<use href="#b147" stroke="#e0b0e4" stroke-width="1.3"/>
<g fill="url(#gT)"><circle cx="-4.2" cy="120.6" r="15.5"/><circle cx="156" cy="120.6" r="15.5"/><circle cx="316.1" cy="120.6" r="15.5"/><circle cx="476.3" cy="120.6" r="15.5"/><circle cx="636.4" cy="120.6" r="15.5"/></g>
<g fill="url(#gS)"><circle cx="102.6" cy="162.5" r="11"/><circle cx="102.6" cy="83.4" r="11"/><circle cx="262.7" cy="162.5" r="11"/><circle cx="262.7" cy="83.4" r="11"/><circle cx="422.9" cy="162.5" r="11"/><circle cx="422.9" cy="83.4" r="11"/><circle cx="583" cy="162.5" r="11"/><circle cx="583" cy="83.4" r="11"/><circle cx="743.2" cy="162.5" r="11"/><circle cx="743.2" cy="83.4" r="11"/></g>
<g fill="url(#gF)"><circle cx="102.6" cy="39" r="7.4"/><circle cx="262.7" cy="39" r="7.4"/><circle cx="422.9" cy="39" r="7.4"/><circle cx="583" cy="39" r="7.4"/><circle cx="743.2" cy="39" r="7.4"/></g>
<g stroke="#2c6228" stroke-width="4.8"><path id="b148" d="M.4 129.7L6.2 141.3M.6 111.7L6.2 101.4M161.2 129.7L167.7 141.3M161.4 111.7L167.7 101.4M321.9 129.7L329.3 141.3M322.2 111.7L329.3 101.4M482.7 129.7L490.8 141.3M483 111.7L490.8 101.4M643.4 129.7L652.3 141.3M643.8 111.7L652.3 101.4"/></g>
<use href="#b148" stroke="#3e8434" stroke-width="3.4"/>
<use href="#b148" stroke="#4a963c" stroke-width="1.4"/>
<g stroke="#3565b0" stroke-width="4.8"><path id="b149" d="M97.7 155.9L86.9 141.3M97.5 89.3L86.9 101.4M258.3 155.9L248.5 141.3M258.1 89.3L248.5 101.4M418.9 155.9L410 141.3M418.7 89.3L410 101.4M579.4 155.9L571.6 141.3M579.3 89.3L571.6 101.4M740 155.9L733.1 141.3M739.9 89.3L733.1 101.4"/></g>
<use href="#b149" stroke="#4a84d0" stroke-width="3.4"/>
<use href="#b149" stroke="#5c96dc" stroke-width="1.4"/>
<g stroke="#2c6228" stroke-width="4.9"><path id="b150" d="M86.9 141.3L71.1 119.8M86.9 101.4L71.1 119.8M248.5 141.3L234 119.8M248.5 101.4L234 119.8M410 141.3L397 119.8M410 101.4L397 119.8M571.6 141.3L559.9 119.8M571.6 101.4L559.9 119.8M733.1 141.3L722.9 119.8M733.1 101.4L722.9 119.8"/></g>
<use href="#b150" stroke="#3e8434" stroke-width="3.4"/>
<use href="#b150" stroke="#4a963c" stroke-width="1.5"/>
<g stroke="#3565b0" stroke-width="4.9"><path id="b151" d="M6.2 141.3L16.7 162.5M6.2 101.4L16.7 82M167.7 141.3L179.7 162.5M167.7 101.4L179.7 82M329.3 141.3L342.7 162.5M329.3 101.4L342.7 82M490.8 141.3L505.6 162.5M490.8 101.4L505.6 82M652.3 141.3L668.6 162.5M652.3 101.4L668.6 82"/></g>
<use href="#b151" stroke="#4a84d0" stroke-width="3.4"/>
<use href="#b151" stroke="#5c96dc" stroke-width="1.5"/>
<g stroke="#2c6228" stroke-width="4.9"><path id="b152" d="M43.9 141.2L71.1 119.8M43.9 100.9L71.1 119.8M206.9 141.2L234 119.8M206.9 100.9L234 119.8M369.8 141.2L397 119.8M369.8 100.9L397 119.8M532.8 141.2L559.9 119.8M532.8 100.9L559.9 119.8M695.7 141.2L722.9 119.8M695.7 100.9L722.9 119.8"/></g>
<use href="#b152" stroke="#3e8434" stroke-width="3.4"/>
<use href="#b152" stroke="#d0f0a0" stroke-width="1.3"/>
<g stroke="#3565b0" stroke-width="4.9"><path id="b153" d="M16.7 59.4L16.7 82M16.7 162.5L43.9 141.2M16.7 82L43.9 100.9M179.7 59.4L179.7 82M179.7 162.5L206.9 141.2M179.7 82L206.9 100.9M342.7 59.4L342.7 82M342.7 162.5L369.8 141.2M342.7 82L369.8 100.9M505.6 59.4L505.6 82M505.6 162.5L532.8 141.2M505.6 82L532.8 100.9M668.6 59.4L668.6 82M668.6 162.5L695.7 141.2M668.6 82L695.7 100.9"/></g>
<use href="#b153" stroke="#4a84d0" stroke-width="3.4"/>
<use href="#b153" stroke="#cfe9ff" stroke-width="1.3"/>
<g stroke="#5c1462" stroke-width="4.9"><path id="b154" d="M16.7 36.8L16.7 59.4M179.7 36.8L179.7 59.4M342.7 36.8L342.7 59.4M505.6 36.8L505.6 59.4M668.6 36.8L668.6 59.4"/></g>
<use href="#b154" stroke="#86268a" stroke-width="3.4"/>
<use href="#b154" stroke="#e0b0e4" stroke-width="1.3"/>
<g fill="url(#gT)"><circle cx="71.1" cy="119.8" r="15.8"/><circle cx="234" cy="119.8" r="15.8"/><circle cx="397" cy="119.8" r="15.8"/><circle cx="559.9" cy="119.8" r="15.8"/><circle cx="722.9" cy="119.8" r="15.8"/></g>
<g fill="url(#gS)"><circle cx="16.7" cy="162.5" r="11.2"/><circle cx="16.7" cy="82" r="11.2"/><circle cx="179.7" cy="162.5" r="11.2"/><circle cx="179.7" cy="82" r="11.2"/><circle cx="342.7" cy="162.5" r="11.2"/><circle cx="342.7" cy="82" r="11.2"/><circle cx="505.6" cy="162.5" r="11.2"/><circle cx="505.6" cy="82" r="11.2"/><circle cx="668.6" cy="162.5" r="11.2"/><circle cx="668.6" cy="82" r="11.2"/></g>
<g fill="url(#gF)"><circle cx="16.7" cy="36.8" r="7.5"/><circle cx="179.7" cy="36.8" r="7.5"/><circle cx="342.7" cy="36.8" r="7.5"/><circle cx="505.6" cy="36.8" r="7.5"/><circle cx="668.6" cy="36.8" r="7.5"/></g>
<g stroke="#2c6228" stroke-width="4.9"><path id="b155" d="M76 129.2L82.3 141M76.2 110.8L82.3 100.4M239.6 129.2L246.7 141M239.9 110.8L246.7 100.4M403.2 129.2L411.1 141M403.5 110.8L411.1 100.4M566.8 129.2L575.5 141M567.1 110.8L575.5 100.4M730.4 129.2L739.9 141M730.7 110.8L739.9 100.4"/></g>
<use href="#b155" stroke="#3e8434" stroke-width="3.4"/>
<use href="#b155" stroke="#4a963c" stroke-width="1.5"/>
<g stroke="#3565b0" stroke-width="4.9"><path id="b156" d="M11.5 155.8L.1 141M11.3 88L.1 100.4M174.9 155.8L164.5 141M174.7 88L164.5 100.4M338.3 155.8L328.9 141M338.2 88L328.9 100.4M501.8 155.8L493.3 141M501.6 88L493.3 100.4M665.2 155.8L657.7 141M665 88L657.7 100.4"/></g>
<use href="#b156" stroke="#4a84d0" stroke-width="3.4"/>
<use href="#b156" stroke="#5c96dc" stroke-width="1.5"/>
<g stroke="#2c6228" stroke-width="5"><path id="b157" d="M.1 141L-16.9 119.1M.1 100.4L-16.9 119.1M164.5 141L149 119.1M164.5 100.4L149 119.1M328.9 141L314.9 119.1M328.9 100.4L314.9 119.1M493.3 141L480.7 119.1M493.3 100.4L480.7 119.1M657.7 141L646.6 119.1M657.7 100.4L646.6 119.1"/></g>
<use href="#b157" stroke="#3e8434" stroke-width="3.5"/>
<use href="#b157" stroke="#4a963c" stroke-width="1.5"/>
<g stroke="#3565b0" stroke-width="5"><path id="b158" d="M82.3 141L93.7 162.5M82.3 100.4L93.7 80.5M246.7 141L259.6 162.5M246.7 100.4L259.6 80.5M411.1 141L425.4 162.5M411.1 100.4L425.4 80.5M575.5 141L591.3 162.5M575.5 100.4L591.3 80.5M739.9 141L757.2 162.5M739.9 100.4L757.2 80.5"/></g>
<use href="#b158" stroke="#4a84d0" stroke-width="3.5"/>
<use href="#b158" stroke="#5c96dc" stroke-width="1.5"/>
<g stroke="#2c6228" stroke-width="5"><path id="b159" d="M121.3 140.8L149 119.1M121.3 99.8L149 119.1M287.2 140.8L314.9 119.1M287.2 99.8L314.9 119.1M453.1 140.8L480.7 119.1M453.1 99.8L480.7 119.1M619 140.8L646.6 119.1M619 99.8L646.6 119.1"/></g>
<use href="#b159" stroke="#3e8434" stroke-width="3.5"/>
<use href="#b159" stroke="#d0f0a0" stroke-width="1.3"/>
<g stroke="#3565b0" stroke-width="5"><path id="b160" d="M93.7 57.6L93.7 80.5M93.7 162.5L121.3 140.8M93.7 80.5L121.3 99.8M259.6 57.6L259.6 80.5M259.6 162.5L287.2 140.8M259.6 80.5L287.2 99.8M425.4 57.6L425.4 80.5M425.4 162.5L453.1 140.8M425.4 80.5L453.1 99.8M591.3 57.6L591.3 80.5M591.3 162.5L619 140.8M591.3 80.5L619 99.8M757.2 57.6L757.2 80.5"/></g>
<use href="#b160" stroke="#4a84d0" stroke-width="3.5"/>
<use href="#b160" stroke="#cfe9ff" stroke-width="1.3"/>
<g stroke="#5c1462" stroke-width="5"><path id="b161" d="M93.7 34.6L93.7 57.6M259.6 34.6L259.6 57.6M425.4 34.6L425.4 57.6M591.3 34.6L591.3 57.6M757.2 34.6L757.2 57.6"/></g>
<use href="#b161" stroke="#86268a" stroke-width="3.5"/>
<use href="#b161" stroke="#e0b0e4" stroke-width="1.3"/>
<g fill="url(#gT)"><circle cx="149" cy="119.1" r="16.1"/><circle cx="314.9" cy="119.1" r="16.1"/><circle cx="480.7" cy="119.1" r="16.1"/><circle cx="646.6" cy="119.1" r="16.1"/></g>
<g fill="url(#gS)"><circle cx="93.7" cy="162.5" r="11.4"/><circle cx="93.7" cy="80.5" r="11.4"/><circle cx="259.6" cy="162.5" r="11.4"/><circle cx="259.6" cy="80.5" r="11.4"/><circle cx="425.4" cy="162.5" r="11.4"/><circle cx="425.4" cy="80.5" r="11.4"/><circle cx="591.3" cy="162.5" r="11.4"/><circle cx="591.3" cy="80.5" r="11.4"/><circle cx="757.2" cy="162.5" r="11.4"/><circle cx="757.2" cy="80.5" r="11.4"/></g>
<g fill="url(#gF)"><circle cx="93.7" cy="34.6" r="7.7"/><circle cx="259.6" cy="34.6" r="7.7"/><circle cx="425.4" cy="34.6" r="7.7"/><circle cx="591.3" cy="34.6" r="7.7"/><circle cx="757.2" cy="34.6" r="7.7"/></g>
<g stroke="#2c6228" stroke-width="5"><path id="b162" d="M154.3 128.6L161.1 140.6M154.6 109.9L161.1 99.2M320.9 128.6L328.5 140.6M321.1 109.9L328.5 99.2M487.4 128.6L495.8 140.6M487.7 109.9L495.8 99.2M653.9 128.6L663.2 140.6M654.3 109.9L663.2 99.2"/></g>
<use href="#b162" stroke="#3e8434" stroke-width="3.5"/>
<use href="#b162" stroke="#4a963c" stroke-width="1.5"/>
<g stroke="#3565b0" stroke-width="5"><path id="b163" d="M88.6 155.7L77.4 140.6M88.4 86.6L77.4 99.2M255 155.7L244.8 140.6M254.8 86.6L244.8 99.2M421.3 155.7L412.2 140.6M421.1 86.6L412.2 99.2M587.6 155.7L579.5 140.6M587.5 86.6L579.5 99.2M754 155.7L746.9 140.6M753.8 86.6L746.9 99.2"/></g>
<use href="#b163" stroke="#4a84d0" stroke-width="3.5"/>
<use href="#b163" stroke="#5c96dc" stroke-width="1.5"/>
<g stroke="#2c6228" stroke-width="5"><path id="b164" d="M77.4 140.6L60.9 118.3M77.4 99.2L60.9 118.3M244.8 140.6L229.8 118.3M244.8 99.2L229.8 118.3M412.2 140.6L398.6 118.3M412.2 99.2L398.6 118.3M579.5 140.6L567.5 118.3M579.5 99.2L567.5 118.3M746.9 140.6L736.4 118.3M746.9 99.2L736.4 118.3"/></g>
<use href="#b164" stroke="#3e8434" stroke-width="3.5"/>
<use href="#b164" stroke="#4a963c" stroke-width="1.5"/>
<g stroke="#3565b0" stroke-width="5"><path id="b165" d="M-6.2 140.6L4.6 162.5M-6.2 99.2L4.6 79.1M161.1 140.6L173.5 162.5M161.1 99.2L173.5 79.1M328.5 140.6L342.3 162.5M328.5 99.2L342.3 79.1M495.8 140.6L511.2 162.5M495.8 99.2L511.2 79.1M663.2 140.6L680.1 162.5M663.2 99.2L680.1 79.1"/></g>
<use href="#b165" stroke="#4a84d0" stroke-width="3.5"/>
<use href="#b165" stroke="#5c96dc" stroke-width="1.5"/>
<g stroke="#2c6228" stroke-width="5.1"><path id="b166" d="M32.7 140.4L60.9 118.3M32.7 98.7L60.9 118.3M201.6 140.4L229.8 118.3M201.6 98.7L229.8 118.3M370.5 140.4L398.6 118.3M370.5 98.7L398.6 118.3M539.4 140.4L567.5 118.3M539.4 98.7L567.5 118.3M708.3 140.4L736.4 118.3M708.3 98.7L736.4 118.3"/></g>
<use href="#b166" stroke="#3e8434" stroke-width="3.5"/>
<use href="#b166" stroke="#d0f0a0" stroke-width="1.4"/>
<g stroke="#3565b0" stroke-width="5.1"><path id="b167" d="M4.6 55.7L4.6 79.1M4.6 162.5L32.7 140.4M4.6 79.1L32.7 98.7M173.5 55.7L173.5 79.1M173.5 162.5L201.6 140.4M173.5 79.1L201.6 98.7M342.3 55.7L342.3 79.1M342.3 162.5L370.5 140.4M342.3 79.1L370.5 98.7M511.2 55.7L511.2 79.1M511.2 162.5L539.4 140.4M511.2 79.1L539.4 98.7M680.1 55.7L680.1 79.1M680.1 162.5L708.3 140.4M680.1 79.1L708.3 98.7"/></g>
<use href="#b167" stroke="#4a84d0" stroke-width="3.5"/>
<use href="#b167" stroke="#cfe9ff" stroke-width="1.4"/>
<g stroke="#5c1462" stroke-width="5.1"><path id="b168" d="M4.6 32.3L4.6 55.7M173.5 32.3L173.5 55.7M342.3 32.3L342.3 55.7M511.2 32.3L511.2 55.7M680.1 32.3L680.1 55.7"/></g>
<use href="#b168" stroke="#86268a" stroke-width="3.5"/>
<use href="#b168" stroke="#e0b0e4" stroke-width="1.4"/>
<g fill="url(#gT)"><circle cx="60.9" cy="118.3" r="16.4"/><circle cx="229.8" cy="118.3" r="16.4"/><circle cx="398.6" cy="118.3" r="16.4"/><circle cx="567.5" cy="118.3" r="16.4"/><circle cx="736.4" cy="118.3" r="16.4"/></g>
<g fill="url(#gS)"><circle cx="4.6" cy="162.5" r="11.6"/><circle cx="4.6" cy="79.1" r="11.6"/><circle cx="173.5" cy="162.5" r="11.6"/><circle cx="173.5" cy="79.1" r="11.6"/><circle cx="342.3" cy="162.5" r="11.6"/><circle cx="342.3" cy="79.1" r="11.6"/><circle cx="511.2" cy="162.5" r="11.6"/><circle cx="511.2" cy="79.1" r="11.6"/><circle cx="680.1" cy="162.5" r="11.6"/><circle cx="680.1" cy="79.1" r="11.6"/></g>
<g fill="url(#gF)"><circle cx="4.6" cy="32.3" r="7.8"/><circle cx="173.5" cy="32.3" r="7.8"/><circle cx="342.3" cy="32.3" r="7.8"/><circle cx="511.2" cy="32.3" r="7.8"/><circle cx="680.1" cy="32.3" r="7.8"/></g>
<g stroke="#2c6228" stroke-width="5.1"><path id="b169" d="M66 127.9L72.4 140.2M66.2 109L72.4 98.1M235.5 127.9L242.9 140.2M235.8 109L242.9 98.1M405.1 127.9L413.3 140.2M405.4 109L413.3 98.1M574.7 127.9L583.7 140.2M575 109L583.7 98.1M744.2 127.9L754.1 140.2M744.6 109L754.1 98.1"/></g>
<use href="#b169" stroke="#3e8434" stroke-width="3.6"/>
<use href="#b169" stroke="#4a963c" stroke-width="1.5"/>
<g stroke="#3565b0" stroke-width="5.1"><path id="b170" d="M168.5 155.5L157.6 140.2M168.3 85.3L157.6 98.1M337.9 155.5L328.1 140.2M337.7 85.3L328.1 98.1M507.3 155.5L498.5 140.2M507.1 85.3L498.5 98.1M676.6 155.5L668.9 140.2M676.5 85.3L668.9 98.1"/></g>
<use href="#b170" stroke="#4a84d0" stroke-width="3.6"/>
<use href="#b170" stroke="#5c96dc" stroke-width="1.5"/>
<g stroke="#2c6228" stroke-width="5.1"><path id="b171" d="M157.6 140.2L141.5 117.5M157.6 98.1L141.5 117.5M328.1 140.2L313.5 117.5M328.1 98.1L313.5 117.5M498.5 140.2L485.5 117.5M498.5 98.1L485.5 117.5M668.9 140.2L657.5 117.5M668.9 98.1L657.5 117.5"/></g>
<use href="#b171" stroke="#3e8434" stroke-width="3.6"/>
<use href="#b171" stroke="#4a963c" stroke-width="1.5"/>
<g stroke="#3565b0" stroke-width="5.1"><path id="b172" d="M72.4 140.2L84.2 162.5M72.4 98.1L84.2 77.5M242.9 140.2L256.2 162.5M242.9 98.1L256.2 77.5M413.3 140.2L428.2 162.5M413.3 98.1L428.2 77.5M583.7 140.2L600.2 162.5M583.7 98.1L600.2 77.5M754.1 140.2L772.2 162.5M754.1 98.1L772.2 77.5"/></g>
<use href="#b172" stroke="#4a84d0" stroke-width="3.6"/>
<use href="#b172" stroke="#5c96dc" stroke-width="1.5"/>
<g stroke="#2c6228" stroke-width="5.2"><path id="b173" d="M112.8 140L141.5 117.5M112.8 97.5L141.5 117.5M284.9 140L313.5 117.5M284.9 97.5L313.5 117.5M456.9 140L485.5 117.5M456.9 97.5L485.5 117.5M628.9 140L657.5 117.5M628.9 97.5L657.5 117.5"/></g>
<use href="#b173" stroke="#3e8434" stroke-width="3.6"/>
<use href="#b173" stroke="#d0f0a0" stroke-width="1.4"/>
<g stroke="#3565b0" stroke-width="5.2"><path id="b174" d="M84.2 53.7L84.2 77.5M84.2 162.5L112.8 140M84.2 77.5L112.8 97.5M256.2 53.7L256.2 77.5M256.2 162.5L284.9 140M256.2 77.5L284.9 97.5M428.2 53.7L428.2 77.5M428.2 162.5L456.9 140M428.2 77.5L456.9 97.5M600.2 53.7L600.2 77.5M600.2 162.5L628.9 140M600.2 77.5L628.9 97.5M772.2 53.7L772.2 77.5"/></g>
<use href="#b174" stroke="#4a84d0" stroke-width="3.6"/>
<use href="#b174" stroke="#cfe9ff" stroke-width="1.4"/>
<g stroke="#5c1462" stroke-width="5.2"><path id="b175" d="M84.2 29.9L84.2 53.7M256.2 29.9L256.2 53.7M428.2 29.9L428.2 53.7M600.2 29.9L600.2 53.7M772.2 29.9L772.2 53.7"/></g>
<use href="#b175" stroke="#86268a" stroke-width="3.6"/>
<use href="#b175" stroke="#e0b0e4" stroke-width="1.4"/>
<g fill="url(#gT)"><circle cx="141.5" cy="117.5" r="16.7"/><circle cx="313.5" cy="117.5" r="16.7"/><circle cx="485.5" cy="117.5" r="16.7"/><circle cx="657.5" cy="117.5" r="16.7"/></g>
<g fill="url(#gS)"><circle cx="84.2" cy="162.5" r="11.8"/><circle cx="84.2" cy="77.5" r="11.8"/><circle cx="256.2" cy="162.5" r="11.8"/><circle cx="256.2" cy="77.5" r="11.8"/><circle cx="428.2" cy="162.5" r="11.8"/><circle cx="428.2" cy="77.5" r="11.8"/><circle cx="600.2" cy="162.5" r="11.8"/><circle cx="600.2" cy="77.5" r="11.8"/><circle cx="772.2" cy="162.5" r="11.8"/><circle cx="772.2" cy="77.5" r="11.8"/></g>
<g fill="url(#gF)"><circle cx="84.2" cy="29.9" r="7.9"/><circle cx="256.2" cy="29.9" r="7.9"/><circle cx="428.2" cy="29.9" r="7.9"/><circle cx="600.2" cy="29.9" r="7.9"/><circle cx="772.2" cy="29.9" r="7.9"/></g>
<g stroke="#2c6228" stroke-width="5.2"><path id="b176" d="M147 127.3L154 139.8M147.3 108L154 96.9M319.8 127.3L327.6 139.8M320 108L327.6 96.9M492.5 127.3L501.3 139.8M492.8 108L501.3 96.9M665.2 127.3L674.9 139.8M665.5 108L674.9 96.9"/></g>
<use href="#b176" stroke="#3e8434" stroke-width="3.6"/>
<use href="#b176" stroke="#4a963c" stroke-width="1.6"/>
<g stroke="#3565b0" stroke-width="5.2"><path id="b177" d="M251.4 155.4L240.8 139.8M251.2 83.8L240.8 96.9M423.9 155.4L414.4 139.8M423.7 83.8L414.4 96.9M596.4 155.4L588.1 139.8M596.2 83.8L588.1 96.9M768.9 155.4L761.7 139.8M768.8 83.8L761.7 96.9"/></g>
<use href="#b177" stroke="#4a84d0" stroke-width="3.6"/>
<use href="#b177" stroke="#5c96dc" stroke-width="1.6"/>
<g stroke="#2c6228" stroke-width="5.2"><path id="b178" d="M240.8 139.8L225.2 116.6M240.8 96.9L225.2 116.6M414.4 139.8L400.4 116.6M414.4 96.9L400.4 116.6M588.1 139.8L575.7 116.6M588.1 96.9L575.7 116.6M761.7 139.8L750.9 116.6M761.7 96.9L750.9 116.6"/></g>
<use href="#b178" stroke="#3e8434" stroke-width="3.7"/>
<use href="#b178" stroke="#4a963c" stroke-width="1.6"/>
<g stroke="#3565b0" stroke-width="5.2"><path id="b179" d="M154 139.8L166.8 162.5M154 96.9L166.8 75.9M327.6 139.8L342 162.5M327.6 96.9L342 75.9M501.3 139.8L517.3 162.5M501.3 96.9L517.3 75.9M674.9 139.8L692.5 162.5M674.9 96.9L692.5 75.9"/></g>
<use href="#b179" stroke="#4a84d0" stroke-width="3.7"/>
<use href="#b179" stroke="#5c96dc" stroke-width="1.6"/>
<g stroke="#2c6228" stroke-width="5.3"><path id="b180" d="M196 139.6L225.2 116.6M196 96.3L225.2 116.6M371.2 139.6L400.4 116.6M371.2 96.3L400.4 116.6M546.5 139.6L575.7 116.6M546.5 96.3L575.7 116.6M721.7 139.6L750.9 116.6M721.7 96.3L750.9 116.6"/></g>
<use href="#b180" stroke="#3e8434" stroke-width="3.7"/>
<use href="#b180" stroke="#d0f0a0" stroke-width="1.4"/>
<g stroke="#3565b0" stroke-width="5.3"><path id="b181" d="M166.8 51.6L166.8 75.9M166.8 162.5L196 139.6M166.8 75.9L196 96.3M342 51.6L342 75.9M342 162.5L371.2 139.6M342 75.9L371.2 96.3M517.3 51.6L517.3 75.9M517.3 162.5L546.5 139.6M517.3 75.9L546.5 96.3M692.5 51.6L692.5 75.9M692.5 162.5L721.7 139.6M692.5 75.9L721.7 96.3"/></g>
<use href="#b181" stroke="#4a84d0" stroke-width="3.7"/>
<use href="#b181" stroke="#cfe9ff" stroke-width="1.4"/>
<g stroke="#5c1462" stroke-width="5.3"><path id="b182" d="M166.8 27.4L166.8 51.6M342 27.4L342 51.6M517.3 27.4L517.3 51.6M692.5 27.4L692.5 51.6"/></g>
<use href="#b182" stroke="#86268a" stroke-width="3.7"/>
<use href="#b182" stroke="#e0b0e4" stroke-width="1.4"/>
<g fill="url(#gT)"><circle cx="225.2" cy="116.6" r="17"/><circle cx="400.4" cy="116.6" r="17"/><circle cx="575.7" cy="116.6" r="17"/><circle cx="750.9" cy="116.6" r="17"/></g>
<g fill="url(#gS)"><circle cx="166.8" cy="162.5" r="12"/><circle cx="166.8" cy="75.9" r="12"/><circle cx="342" cy="162.5" r="12"/><circle cx="342" cy="75.9" r="12"/><circle cx="517.3" cy="162.5" r="12"/><circle cx="517.3" cy="75.9" r="12"/><circle cx="692.5" cy="162.5" r="12"/><circle cx="692.5" cy="75.9" r="12"/></g>
<g fill="url(#gF)"><circle cx="166.8" cy="27.4" r="8.1"/><circle cx="342" cy="27.4" r="8.1"/><circle cx="517.3" cy="27.4" r="8.1"/><circle cx="692.5" cy="27.4" r="8.1"/></g>
<g stroke="#2c6228" stroke-width="5.3"><path id="b183" d="M231.2 126.6L238.7 139.3M231.4 106.9L238.7 95.6M407.2 126.6L415.7 139.3M407.5 106.9L415.7 95.6M583.1 126.6L592.6 139.3M583.5 106.9L592.6 95.6M759.1 126.6L769.5 139.3M759.5 106.9L769.5 95.6"/></g>
<use href="#b183" stroke="#3e8434" stroke-width="3.7"/>
<use href="#b183" stroke="#4a963c" stroke-width="1.6"/>
<g stroke="#3565b0" stroke-width="5.3"><path id="b184" d="M337.4 155.3L327.2 139.3M337.2 82.3L327.2 95.6M513.2 155.3L504.1 139.3M513 82.3L504.1 95.6M688.9 155.3L681 139.3M688.8 82.3L681 95.6"/></g>
<use href="#b184" stroke="#4a84d0" stroke-width="3.7"/>
<use href="#b184" stroke="#5c96dc" stroke-width="1.6"/>
<g stroke="#2c6228" stroke-width="5.3"><path id="b185" d="M327.2 139.3L312.1 115.7M327.2 95.6L312.1 115.7M504.1 139.3L490.7 115.7M504.1 95.6L490.7 115.7M681 139.3L669.3 115.7M681 95.6L669.3 115.7"/></g>
<use href="#b185" stroke="#3e8434" stroke-width="3.7"/>
<use href="#b185" stroke="#4a963c" stroke-width="1.6"/>
<g stroke="#3565b0" stroke-width="5.3"><path id="b186" d="M238.7 139.3L252.5 162.5M238.7 95.6L252.5 74.2M415.7 139.3L431.2 162.5M415.7 95.6L431.2 74.2M592.6 139.3L609.8 162.5M592.6 95.6L609.8 74.2M769.5 139.3L788.4 162.5M769.5 95.6L788.4 74.2"/></g>
<use href="#b186" stroke="#4a84d0" stroke-width="3.7"/>
<use href="#b186" stroke="#5c96dc" stroke-width="1.6"/>
<g stroke="#2c6228" stroke-width="5.4"><path id="b187" d="M282.3 139.1L312.1 115.7M282.3 95L312.1 115.7M460.9 139.1L490.7 115.7M460.9 95L490.7 115.7M639.6 139.1L669.3 115.7M639.6 95L669.3 115.7"/></g>
<use href="#b187" stroke="#3e8434" stroke-width="3.8"/>
<use href="#b187" stroke="#d0f0a0" stroke-width="1.4"/>
<g stroke="#3565b0" stroke-width="5.4"><path id="b188" d="M252.5 49.5L252.5 74.2M252.5 162.5L282.3 139.1M252.5 74.2L282.3 95M431.2 49.5L431.2 74.2M431.2 162.5L460.9 139.1M431.2 74.2L460.9 95M609.8 49.5L609.8 74.2M609.8 162.5L639.6 139.1M609.8 74.2L639.6 95M788.4 49.5L788.4 74.2"/></g>
<use href="#b188" stroke="#4a84d0" stroke-width="3.8"/>
<use href="#b188" stroke="#cfe9ff" stroke-width="1.4"/>
<g stroke="#5c1462" stroke-width="5.4"><path id="b189" d="M252.5 24.8L252.5 49.5M431.2 24.8L431.2 49.5M609.8 24.8L609.8 49.5M788.4 24.8L788.4 49.5"/></g>
<use href="#b189" stroke="#86268a" stroke-width="3.8"/>
<use href="#b189" stroke="#e0b0e4" stroke-width="1.4"/>
<g fill="url(#gT)"><circle cx="312.1" cy="115.7" r="17.3"/><circle cx="490.7" cy="115.7" r="17.3"/><circle cx="669.3" cy="115.7" r="17.3"/></g>
<g fill="url(#gS)"><circle cx="252.5" cy="162.5" r="12.3"/><circle cx="252.5" cy="74.2" r="12.3"/><circle cx="431.2" cy="162.5" r="12.3"/><circle cx="431.2" cy="74.2" r="12.3"/><circle cx="609.8" cy="162.5" r="12.3"/><circle cx="609.8" cy="74.2" r="12.3"/><circle cx="788.4" cy="162.5" r="12.3"/><circle cx="788.4" cy="74.2" r="12.3"/></g>
<g fill="url(#gF)"><circle cx="252.5" cy="24.8" r="8.3"/><circle cx="431.2" cy="24.8" r="8.3"/><circle cx="609.8" cy="24.8" r="8.3"/><circle cx="788.4" cy="24.8" r="8.3"/></g>
<g stroke="#2c6228" stroke-width="5.4"><path id="b190" d="M318.5 125.9L326.7 138.9M318.8 105.9L326.7 94.3M497.9 125.9L507.1 138.9M498.3 105.9L507.1 94.3M677.3 125.9L687.4 138.9M677.7 105.9L687.4 94.3"/></g>
<use href="#b190" stroke="#3e8434" stroke-width="3.8"/>
<use href="#b190" stroke="#4a963c" stroke-width="1.6"/>
<g stroke="#3565b0" stroke-width="5.4"><path id="b191" d="M426.7 155.1L416.9 138.9M426.5 80.8L416.9 94.3M605.9 155.1L597.3 138.9M605.7 80.8L597.3 94.3M785 155.1L777.6 138.9M784.9 80.8L777.6 94.3"/></g>
<use href="#b191" stroke="#4a84d0" stroke-width="3.8"/>
<use href="#b191" stroke="#5c96dc" stroke-width="1.6"/>
<g stroke="#2c6228" stroke-width="5.4"><path id="b192" d="M416.9 138.9L402.4 114.8M416.9 94.3L402.4 114.8M597.3 138.9L584.5 114.8M597.3 94.3L584.5 114.8M777.6 138.9L766.6 114.8M777.6 94.3L766.6 114.8"/></g>
<use href="#b192" stroke="#3e8434" stroke-width="3.8"/>
<use href="#b192" stroke="#4a963c" stroke-width="1.6"/>
<g stroke="#3565b0" stroke-width="5.4"><path id="b193" d="M326.7 138.9L341.7 162.5M326.7 94.3L341.7 72.5M507.1 138.9L523.8 162.5M507.1 94.3L523.8 72.5M687.4 138.9L705.9 162.5M687.4 94.3L705.9 72.5"/></g>
<use href="#b193" stroke="#4a84d0" stroke-width="3.8"/>
<use href="#b193" stroke="#5c96dc" stroke-width="1.6"/>
<g stroke="#2c6228" stroke-width="5.5"><path id="b194" d="M372 138.7L402.4 114.8M372 93.7L402.4 114.8M554.1 138.7L584.5 114.8M554.1 93.7L584.5 114.8M736.3 138.7L766.6 114.8M736.3 93.7L766.6 114.8"/></g>
<use href="#b194" stroke="#3e8434" stroke-width="3.8"/>
<use href="#b194" stroke="#d0f0a0" stroke-width="1.5"/>
<g stroke="#3565b0" stroke-width="5.5"><path id="b195" d="M341.7 47.3L341.7 72.5M341.7 162.5L372 138.7M341.7 72.5L372 93.7M523.8 47.3L523.8 72.5M523.8 162.5L554.1 138.7M523.8 72.5L554.1 93.7M705.9 47.3L705.9 72.5M705.9 162.5L736.3 138.7M705.9 72.5L736.3 93.7"/></g>
<use href="#b195" stroke="#4a84d0" stroke-width="3.8"/>
<use href="#b195" stroke="#cfe9ff" stroke-width="1.5"/>
<g stroke="#5c1462" stroke-width="5.5"><path id="b196" d="M341.7 22.1L341.7 47.3M523.8 22.1L523.8 47.3M705.9 22.1L705.9 47.3"/></g>
<use href="#b196" stroke="#86268a" stroke-width="3.8"/>
<use href="#b196" stroke="#e0b0e4" stroke-width="1.5"/>
<g fill="url(#gT)"><circle cx="402.4" cy="114.8" r="17.7"/><circle cx="584.5" cy="114.8" r="17.7"/><circle cx="766.6" cy="114.8" r="17.7"/></g>
<g fill="url(#gS)"><circle cx="341.7" cy="162.5" r="12.5"/><circle cx="341.7" cy="72.5" r="12.5"/><circle cx="523.8" cy="162.5" r="12.5"/><circle cx="523.8" cy="72.5" r="12.5"/><circle cx="705.9" cy="162.5" r="12.5"/><circle cx="705.9" cy="72.5" r="12.5"/></g>
<g fill="url(#gF)"><circle cx="341.7" cy="22.1" r="8.4"/><circle cx="523.8" cy="22.1" r="8.4"/><circle cx="705.9" cy="22.1" r="8.4"/></g>
<g stroke="#2c6228" stroke-width="5.5"><path id="b197" d="M409.4 125.2L418.2 138.4M409.7 104.7L418.2 93M592.3 125.2L602.1 138.4M592.6 104.7L602.1 93M775.2 125.2L786.1 138.4M775.6 104.7L786.1 93"/></g>
<use href="#b197" stroke="#3e8434" stroke-width="3.8"/>
<use href="#b197" stroke="#4a963c" stroke-width="1.6"/>
<g stroke="#3565b0" stroke-width="5.5"><path id="b198" d="M519.5 155L510.2 138.4M519.4 79.2L510.2 93M702.2 155L694.1 138.4M702.1 79.2L694.1 93"/></g>
<use href="#b198" stroke="#4a84d0" stroke-width="3.8"/>
<use href="#b198" stroke="#5c96dc" stroke-width="1.6"/>
<g stroke="#2c6228" stroke-width="5.5"><path id="b199" d="M510.2 138.4L496.3 113.9M510.2 93L496.3 113.9M694.1 138.4L682 113.9M694.1 93L682 113.9"/></g>
<use href="#b199" stroke="#3e8434" stroke-width="3.9"/>
<use href="#b199" stroke="#4a963c" stroke-width="1.7"/>
<g stroke="#3565b0" stroke-width="5.5"><path id="b200" d="M418.2 138.4L434.4 162.5M418.2 93L434.4 70.7M602.1 138.4L620.1 162.5M602.1 93L620.1 70.7M786.1 138.4L805.9 162.5M786.1 93L805.9 70.7"/></g>
<use href="#b200" stroke="#4a84d0" stroke-width="3.9"/>
<use href="#b200" stroke="#5c96dc" stroke-width="1.7"/>
<g stroke="#2c6228" stroke-width="5.6"><path id="b201" d="M465.3 138.2L496.3 113.9M465.3 92.3L496.3 113.9M651.1 138.2L682 113.9M651.1 92.3L682 113.9"/></g>
<use href="#b201" stroke="#3e8434" stroke-width="3.9"/>
<use href="#b201" stroke="#d0f0a0" stroke-width="1.5"/>
<g stroke="#3565b0" stroke-width="5.6"><path id="b202" d="M434.4 45L434.4 70.7M434.4 162.5L465.3 138.2M434.4 70.7L465.3 92.3M620.1 45L620.1 70.7M620.1 162.5L651.1 138.2M620.1 70.7L651.1 92.3M805.9 45L805.9 70.7"/></g>
<use href="#b202" stroke="#4a84d0" stroke-width="3.9"/>
<use href="#b202" stroke="#cfe9ff" stroke-width="1.5"/>
<g stroke="#5c1462" stroke-width="5.6"><path id="b203" d="M434.4 19.3L434.4 45M620.1 19.3L620.1 45M805.9 19.3L805.9 45"/></g>
<use href="#b203" stroke="#86268a" stroke-width="3.9"/>
<use href="#b203" stroke="#e0b0e4" stroke-width="1.5"/>
<g fill="url(#gT)"><circle cx="496.3" cy="113.9" r="18"/><circle cx="682" cy="113.9" r="18"/></g>
<g fill="url(#gS)"><circle cx="434.4" cy="162.5" r="12.8"/><circle cx="434.4" cy="70.7" r="12.8"/><circle cx="620.1" cy="162.5" r="12.8"/><circle cx="620.1" cy="70.7" r="12.8"/><circle cx="805.9" cy="162.5" r="12.8"/><circle cx="805.9" cy="70.7" r="12.8"/></g>
<g fill="url(#gF)"><circle cx="434.4" cy="19.3" r="8.6"/><circle cx="620.1" cy="19.3" r="8.6"/><circle cx="805.9" cy="19.3" r="8.6"/></g>
<g stroke="#2c6228" stroke-width="5.6"><path id="b204" d="M503.8 124.5L513.4 137.9M504.2 103.6L513.4 91.6M690.4 124.5L701 137.9M690.8 103.6L701 91.6"/></g>
<use href="#b204" stroke="#3e8434" stroke-width="3.9"/>
<use href="#b204" stroke="#4a963c" stroke-width="1.7"/>
<g stroke="#3565b0" stroke-width="5.6"><path id="b205" d="M616.1 154.8L607.2 137.9M615.9 77.5L607.2 91.6M802.4 154.8L794.8 137.9M802.3 77.5L794.8 91.6"/></g>
<use href="#b205" stroke="#4a84d0" stroke-width="3.9"/>
<use href="#b205" stroke="#5c96dc" stroke-width="1.7"/>
<g stroke="#2c6228" stroke-width="5.7"><path id="b206" d="M607.2 137.9L594 112.9M607.2 91.6L594 112.9M794.8 137.9L783.6 112.9M794.8 91.6L783.6 112.9"/></g>
<use href="#b206" stroke="#3e8434" stroke-width="4"/>
<use href="#b206" stroke="#4a963c" stroke-width="1.7"/>
<g stroke="#3565b0" stroke-width="5.7"><path id="b207" d="M513.4 137.9L530.8 162.5M513.4 91.6L530.8 68.8M701 137.9L720.4 162.5M701 91.6L720.4 68.8"/></g>
<use href="#b207" stroke="#4a84d0" stroke-width="4"/>
<use href="#b207" stroke="#5c96dc" stroke-width="1.7"/>
<g stroke="#2c6228" stroke-width="5.7"><path id="b208" d="M562.4 137.7L594 112.9M562.4 90.9L594 112.9M752 137.7L783.6 112.9M752 90.9L783.6 112.9"/></g>
<use href="#b208" stroke="#3e8434" stroke-width="4"/>
<use href="#b208" stroke="#d0f0a0" stroke-width="1.5"/>
<g stroke="#3565b0" stroke-width="5.7"><path id="b209" d="M530.8 42.6L530.8 68.8M530.8 162.5L562.4 137.7M530.8 68.8L562.4 90.9M720.4 42.6L720.4 68.8M720.4 162.5L752 137.7M720.4 68.8L752 90.9"/></g>
<use href="#b209" stroke="#4a84d0" stroke-width="4"/>
<use href="#b209" stroke="#cfe9ff" stroke-width="1.5"/>
<g stroke="#5c1462" stroke-width="5.7"><path id="b210" d="M530.8 16.3L530.8 42.6M720.4 16.3L720.4 42.6"/></g>
<use href="#b210" stroke="#86268a" stroke-width="4"/>
<use href="#b210" stroke="#e0b0e4" stroke-width="1.5"/>
<g fill="url(#gT)"><circle cx="594" cy="112.9" r="18.4"/><circle cx="783.6" cy="112.9" r="18.4"/></g>
<g fill="url(#gS)"><circle cx="530.8" cy="162.5" r="13"/><circle cx="530.8" cy="68.8" r="13"/><circle cx="720.4" cy="162.5" r="13"/><circle cx="720.4" cy="68.8" r="13"/></g>
<g fill="url(#gF)"><circle cx="530.8" cy="16.3" r="8.8"/><circle cx="720.4" cy="16.3" r="8.8"/></g>
<g stroke="#2c6228" stroke-width="5.7"><path id="b211" d="M602.2 123.7L612.5 137.4M602.5 102.4L612.5 90.1M792.6 123.7L804 137.4M793 102.4L804 90.1"/></g>
<use href="#b211" stroke="#3e8434" stroke-width="4"/>
<use href="#b211" stroke="#4a963c" stroke-width="1.7"/>
<g stroke="#3565b0" stroke-width="5.7"><path id="b212" d="M716.6 154.7L708.2 137.4M716.4 75.8L708.2 90.1"/></g>
<use href="#b212" stroke="#4a84d0" stroke-width="4"/>
<use href="#b212" stroke="#5c96dc" stroke-width="1.7"/>
<g stroke="#2c6228" stroke-width="5.8"><path id="b213" d="M708.2 137.4L695.8 111.8M708.2 90.1L695.8 111.8"/></g>
<use href="#b213" stroke="#3e8434" stroke-width="4"/>
<use href="#b213" stroke="#4a963c" stroke-width="1.7"/>
<g stroke="#3565b0" stroke-width="5.8"><path id="b214" d="M612.5 137.4L631.3 162.5M612.5 90.1L631.3 66.9M804 137.4L824.8 162.5M804 90.1L824.8 66.9"/></g>
<use href="#b214" stroke="#4a84d0" stroke-width="4"/>
<use href="#b214" stroke="#5c96dc" stroke-width="1.7"/>
<g stroke="#2c6228" stroke-width="5.8"><path id="b215" d="M663.6 137.2L695.8 111.8M663.6 89.4L695.8 111.8"/></g>
<use href="#b215" stroke="#3e8434" stroke-width="4.1"/>
<use href="#b215" stroke="#d0f0a0" stroke-width="1.6"/>
<g stroke="#3565b0" stroke-width="5.8"><path id="b216" d="M631.3 40.1L631.3 66.9M631.3 162.5L663.6 137.2M631.3 66.9L663.6 89.4"/></g>
<use href="#b216" stroke="#4a84d0" stroke-width="4.1"/>
<use href="#b216" stroke="#cfe9ff" stroke-width="1.6"/>
<g stroke="#5c1462" stroke-width="5.8"><path id="b217" d="M631.3 13.3L631.3 40.1"/></g>
<use href="#b217" stroke="#86268a" stroke-width="4.1"/>
<use href="#b217" stroke="#e0b0e4" stroke-width="1.6"/>
<g fill="url(#gT)"><circle cx="695.8" cy="111.8" r="18.8"/></g>
<g fill="url(#gS)"><circle cx="631.3" cy="162.5" r="13.3"/><circle cx="631.3" cy="66.9" r="13.3"/></g>
<g fill="url(#gF)"><circle cx="631.3" cy="13.3" r="8.9"/></g>
<g stroke="#2c6228" stroke-width="5.8"><path id="b218" d="M704.6 122.9L715.8 136.9M705 101.1L715.8 88.6"/></g>
<use href="#b218" stroke="#3e8434" stroke-width="4.1"/>
<use href="#b218" stroke="#4a963c" stroke-width="1.8"/>
<g stroke="#2c6228" stroke-width="5.9"><path id="b219" d="M813.5 136.9L802 110.7M813.5 88.6L802 110.7"/></g>
<use href="#b219" stroke="#3e8434" stroke-width="4.1"/>
<use href="#b219" stroke="#4a963c" stroke-width="1.8"/>
<g stroke="#3565b0" stroke-width="5.9"><path id="b220" d="M715.8 136.9L736.1 162.5M715.8 88.6L736.1 64.9"/></g>
<use href="#b220" stroke="#4a84d0" stroke-width="4.1"/>
<use href="#b220" stroke="#5c96dc" stroke-width="1.8"/>
<g stroke="#2c6228" stroke-width="5.9"><path id="b221" d="M769 136.6L802 110.7M769 87.8L802 110.7"/></g>
<use href="#b221" stroke="#3e8434" stroke-width="4.2"/>
<use href="#b221" stroke="#d0f0a0" stroke-width="1.6"/>
<g stroke="#3565b0" stroke-width="5.9"><path id="b222" d="M736.1 37.5L736.1 64.9M736.1 162.5L769 136.6M736.1 64.9L769 87.8"/></g>
<use href="#b222" stroke="#4a84d0" stroke-width="4.2"/>
<use href="#b222" stroke="#cfe9ff" stroke-width="1.6"/>
<g stroke="#5c1462" stroke-width="5.9"><path id="b223" d="M736.1 10.1L736.1 37.5"/></g>
<use href="#b223" stroke="#86268a" stroke-width="4.2"/>
<use href="#b223" stroke="#e0b0e4" stroke-width="1.6"/>
<g fill="url(#gT)"><circle cx="802" cy="110.7" r="19.2"/></g>
<g fill="url(#gS)"><circle cx="736.1" cy="162.5" r="13.6"/><circle cx="736.1" cy="64.9" r="13.6"/></g>
<g fill="url(#gF)"><circle cx="736.1" cy="10.1" r="9.1"/></g></svg>
<g fill="none" stroke="#6b1d7b" stroke-width="1.7" stroke-linejoin="round">
<clipPath id="cpP"><rect x="109.5" y="213.2" width="806.7" height="412.7"/></clipPath>
<g clip-path="url(#cpP)">
<path d="M109.8 246.1C114.2 246.4 126.2 246.5 135.8 247.9C145.3 249.3 156.6 252 167.1 254.6C177.5 257.2 187.2 260.6 198.4 263.5C209.5 266.4 222.2 269.4 234.1 272C246.1 274.6 258 276.9 269.9 279.2C281.8 281.4 293.7 283.7 305.7 285.4C317.6 287.2 329.5 288.8 341.4 289.9C353.4 291 365.3 291.7 377.2 292.1C389.1 292.6 401.1 292.4 413 292.6C424.9 292.7 432.6 292.6 448.7 293C464.9 293.5 492.8 294.8 510 295.3C527.2 295.8 537.3 296 551.7 296.2C566.1 296.3 584.9 296.2 596.4 296.2C607.9 296.1 613.1 295.9 620.6 295.7C628 295.5 630.3 295.7 641.1 294.8C652 294 670.9 292.6 685.8 290.8C700.7 289 715.7 286.6 730.6 284.1C745.5 281.6 760.4 278.8 775.3 275.6C790.2 272.4 806.6 268.3 820 264.9C833.4 261.4 844.6 257.7 855.7 255C866.9 252.4 877.2 250.3 887 248.8C896.9 247.3 910.1 246.5 914.8 246.1"/>
<path d="M109.5 431.9C113 432 123.3 432.3 130.1 432.6C136.9 432.9 144.7 433.6 150.2 433.6C155.6 433.6 158.5 433.3 162.7 432.6C166.9 432 170.2 430.8 175.2 429.6C180.3 428.5 186.5 426.9 192.8 425.6C199.1 424.4 206.6 423 212.9 422.1C219.1 421.2 224.2 420.8 230.4 420.3C236.7 419.9 243 419.8 250.5 419.3C258 418.9 267.2 418.4 275.6 417.8C283.9 417.3 293.2 416.4 300.7 415.8C308.1 415.3 312.6 415.2 320 414.6C327.4 414 336.7 412.8 345.1 412.1C353.4 411.4 361.8 410.7 370.2 410.3C378.5 409.9 386.9 409.6 395.2 409.6C403.6 409.5 411.3 409.6 420.3 409.8C429.4 410 439.2 410.3 449.7 410.6C460.1 410.8 471.2 411.1 483 411.3C494.9 411.6 511.2 411.9 520.7 412.1C530.1 412.3 528.4 412.5 540 412.6C551.6 412.6 576.7 412.4 590.2 412.3C603.6 412.2 610.1 411.9 620.5 411.8C631 411.8 643.3 411.8 652.9 412.1C662.4 412.3 672.3 413 677.9 413.3C683.6 413.6 681.3 413.4 687 413.8C692.7 414.3 703.7 415.3 712.1 416.1C720.4 416.9 727.5 417.9 737.2 418.6C746.8 419.3 759.6 419.8 770 420.3C780.5 420.9 792 421.4 799.9 422.1C807.8 422.8 812 423.4 817.4 424.4C822.9 425.3 827.5 426.5 832.5 427.6C837.5 428.7 842.5 430 847.5 430.9C852.5 431.8 857.6 432.7 862.6 433.1C867.6 433.6 872.2 433.7 877.6 433.6C883.1 433.6 888.8 432.9 895.2 432.6C901.5 432.3 912.3 432 915.7 431.9"/>
<path d="M109.5 441.2C112.1 441 119.6 440.7 125.1 440.2C130.6 439.6 137.2 438.3 142.6 437.7C148.1 437 152.7 436.4 157.7 436.4C162.7 436.4 167.7 436.9 172.7 437.4C177.8 437.9 182.4 438.9 187.8 439.7C193.2 440.5 199.1 441.3 205.3 442.2C211.6 443.1 218.7 444.2 225.4 445.2C232.1 446.2 238.8 447.4 245.5 448.2C252.2 449 258.9 449.7 265.5 450.2C272.2 450.7 278.5 451.2 285.6 451.5C292.7 451.7 302.4 451.9 308.2 452C313.9 452 309.7 452 320 452C330.3 452 353.4 451.9 370.2 452C386.9 452 407.1 452.2 420.3 452.5C433.6 452.7 439.2 453.1 449.7 453.5C460.1 453.8 471.2 454.1 483 454.5C494.9 454.8 511.2 455.4 520.7 455.7C530.1 456 530.5 456 540 456.2C549.5 456.4 564.2 456.9 577.6 457C591 457 608 456.7 620.5 456.5C633.1 456.2 641.8 455.8 652.9 455.5C663.9 455.2 677.1 455 687 454.7C696.9 454.4 703.7 454 712.1 453.5C720.4 453 728.8 452.4 737.2 451.7C745.5 451 753.9 450.2 762.2 449.2C770.6 448.2 779 446.9 787.3 445.7C795.7 444.5 804 443.3 812.4 442.2C820.8 441 830.8 439.5 837.5 438.7C844.2 437.8 847.9 437.3 852.5 436.9C857.1 436.5 860.9 436.3 865.1 436.4C869.3 436.5 873 437.1 877.6 437.7C882.2 438.2 888.1 439.4 892.7 439.9C897.3 440.5 901.4 440.7 905.2 440.9C909.1 441.1 914 441.1 915.7 441.2"/>
<path d="M109.5 441.2C116.3 441.2 137.1 441.3 150.2 441.4C163.2 441.6 175.2 441.8 187.8 442.2C200.3 442.5 212.9 443.2 225.4 443.4C237.9 443.7 250.5 443.7 263 443.7C275.6 443.6 291.2 443.3 300.7 443.2C310.1 443 308.4 442.8 320 442.7C331.6 442.5 353.4 442.4 370.2 442.4C386.9 442.4 407.1 442.8 420.3 442.7C433.6 442.5 439.2 442 449.7 441.4C460.1 440.9 471.2 440 483 439.4C494.9 438.8 511.2 438.2 520.7 437.9C530.1 437.6 528.4 437.5 540 437.4C551.6 437.3 576.7 437.3 590.2 437.4C603.6 437.5 610.1 437.5 620.5 437.9C631 438.3 641.8 439 652.9 439.7C663.9 440.3 675 441.3 687 441.9C699 442.6 712.1 443.4 724.6 443.7C737.2 443.9 749.7 443.6 762.2 443.4C774.8 443.3 787.3 443 799.9 442.7C812.4 442.4 824.9 441.9 837.5 441.7C850 441.4 862.1 441.3 875.1 441.2C888.2 441.1 909 441.2 915.7 441.2"/>
<path d="M109.5 473.5C114.2 473.6 127.5 473.7 137.6 473.8C147.7 473.9 159.8 474.3 170.2 474C180.7 473.8 189 472.8 200.3 472.3C211.6 471.8 225.4 471.1 237.9 471C250.5 470.9 265.1 471.6 275.6 471.8C286 471.9 293.2 471.8 300.7 471.8C308.1 471.7 310.5 471.9 320 471.5C329.5 471.2 345.1 470.2 357.6 469.8C370.2 469.3 382.7 468.9 395.2 468.8C407.8 468.6 420.3 468.9 432.9 469C445.4 469.1 455.9 469.3 470.5 469.5C485.1 469.7 509.1 470.1 520.7 470.3C532.2 470.4 523.4 470.3 540 470.3C556.6 470.2 599.6 469.9 620.5 470C641.4 470.1 654.3 470.6 665.4 470.8C676.5 471 677.1 471 687 471.3C696.9 471.5 712.1 472.2 724.6 472.3C737.2 472.3 749.7 471.6 762.2 471.5C774.8 471.4 787.3 471.4 799.9 471.8C812.4 472.1 827 473.4 837.5 473.8C847.9 474.2 854.2 474.3 862.6 474.3C870.9 474.3 878.8 473.9 887.7 473.8C896.5 473.6 911.1 473.6 915.7 473.5"/>
<path d="M109.5 489.6C112.1 489.4 119.6 489 125.1 488.3C130.6 487.6 136.8 486.4 142.6 485.3C148.5 484.2 154.8 482.8 160.2 481.8C165.6 480.8 169.8 480.1 175.2 479.5C180.7 479 186.5 478.7 192.8 478.5C199.1 478.4 205.3 478.4 212.9 478.5C220.4 478.7 229.6 479.1 237.9 479.5C246.3 480 254.7 480.5 263 481C271.4 481.5 280.6 482 288.1 482.6C295.6 483.1 302.9 483.9 308.2 484.3C313.5 484.7 315.5 484.3 320 484.8C324.5 485.3 328.8 486.5 335 487.3C341.3 488.2 349.7 489.2 357.6 489.8C365.6 490.5 372.3 491 382.7 491.3C393.2 491.7 409.2 491.6 420.3 491.8C431.5 492 439.2 492.2 449.7 492.6C460.1 493 471.2 493.5 483 494.1C494.9 494.7 511.2 495.6 520.7 496.1C530.1 496.6 532.6 496.8 540 497.1C547.4 497.4 556.7 497.6 565.1 497.6C573.4 497.6 580.9 497.6 590.2 497.4C599.4 497.1 610.1 496.6 620.5 495.8C631 495.1 643.3 493.8 652.9 492.8C662.4 491.8 672.3 490.6 677.9 489.8C683.6 489.1 682.1 489.1 687 488.3C691.9 487.6 700.4 486.1 707.1 485.3C713.8 484.5 720 484 727.1 483.6C734.2 483.1 741.8 482.8 749.7 482.8C757.6 482.8 766.4 483 774.8 483.3C783.1 483.6 791.5 484.1 799.9 484.6C808.2 485 816.6 485.6 824.9 486.1C833.3 486.6 841.7 487.1 850 487.6C858.4 488 866.8 488.5 875.1 488.8C883.5 489.2 893.4 489.4 900.2 489.6C907 489.7 913.2 489.6 915.7 489.6"/>
<path d="M109.5 489.6C114.2 489.4 126.7 489.1 137.6 488.6C148.6 488 162.7 487.1 175.2 486.3C187.8 485.6 200.3 484.7 212.9 484.1C225.4 483.4 237.9 482.8 250.5 482.3C263 481.8 276.5 481.5 288.1 481.3C299.7 481 306.3 480.9 320 480.8C333.7 480.7 353.4 480.5 370.2 480.5C386.9 480.5 407.1 480.8 420.3 480.8C433.6 480.8 439.2 480.6 449.7 480.3C460.1 480 471.2 479.5 483 479C494.9 478.6 511.2 477.9 520.7 477.5C530.1 477.2 530.5 477 540 476.8C549.5 476.6 564.2 476.2 577.6 476.3C591 476.3 605.9 476.7 620.5 477C635.1 477.4 654.3 478 665.4 478.3C676.5 478.6 675 478.8 687 479C699 479.2 720.4 479.5 737.2 479.5C753.9 479.5 772.7 479.2 787.3 479C802 478.9 815.8 478.5 824.9 478.5C834.1 478.5 836.2 478.5 842.5 479C848.8 479.6 855.9 480.6 862.6 481.8C869.3 483 876.8 484.9 882.6 486.1C888.5 487.2 892.2 488 897.7 488.6C903.2 489.2 912.7 489.4 915.7 489.6"/>
<path d="M109.5 562.6C116.3 562.4 137.1 562.4 150.2 561.8C163.2 561.2 175.2 559.9 187.8 558.8C200.3 557.7 212.9 556.2 225.4 555C237.9 553.9 250.5 552.8 263 551.8C275.6 550.7 291.2 549.4 300.7 548.8C310.1 548.1 312.6 548.5 320 548C327.4 547.6 336.7 546.6 345.1 546C353.4 545.4 361.8 544.9 370.2 544.5C378.5 544.1 386.9 543.9 395.2 543.8C403.6 543.6 411.3 543.8 420.3 543.8C429.4 543.7 439.2 543.5 449.7 543.2C460.1 543 471.2 542.7 483 542.2C494.9 541.8 511.2 541.1 520.7 540.7C530.1 540.4 530.5 540.4 540 540.2C549.5 540.1 564.2 539.7 577.6 539.7C591 539.8 608 540.2 620.5 540.7C633.1 541.3 641.8 542.2 652.9 543.2C663.9 544.3 675 545.6 687 546.8C699 547.9 712.1 549 724.6 550C737.2 551.1 749.7 552 762.2 553C774.8 554.1 787.3 555.2 799.9 556.3C812.4 557.4 827 558.7 837.5 559.6C847.9 560.4 854.2 560.8 862.6 561.3C870.9 561.8 878.8 562.1 887.7 562.3C896.5 562.5 911.1 562.5 915.7 562.6"/>
<path d="M109.5 562.6C116.3 562.5 135 562.4 150.2 562.3C165.3 562.2 183.6 562 200.3 561.8C217 561.6 233.8 561.5 250.5 561.3C267.2 561.1 289.1 560.9 300.7 560.8C312.2 560.7 308.4 560.9 320 560.8C331.6 560.7 353.4 560.4 370.2 560.3C386.9 560.2 407.1 560.3 420.3 560.1C433.6 559.8 439.2 559.3 449.7 558.5C460.1 557.8 471.2 556.7 483 555.8C494.9 554.9 511.2 553.7 520.7 553.3C530.1 552.8 530.5 553.2 540 553C549.5 552.8 564.2 552 577.6 552C591 552 608 552.5 620.5 553C633.1 553.5 641.8 554.3 652.9 555C663.9 555.7 675 556.5 687 557.3C699 558 712.1 559 724.6 559.6C737.2 560.1 749.7 560.5 762.2 560.8C774.8 561.1 787.3 561.4 799.9 561.6C812.4 561.8 822.9 561.9 837.5 562.1C852.1 562.2 874.6 562.5 887.7 562.6C900.7 562.6 911.1 562.6 915.7 562.6"/>
<path d="M109.5 623.8C112.1 622.4 118.3 619.1 125.1 615.7C131.9 612.4 141.8 607.5 150.2 603.7C158.5 599.9 166.9 596 175.2 592.7C183.6 589.3 192 586.3 200.3 583.6C208.7 581 217 578.5 225.4 576.6C233.8 574.7 242.1 573.2 250.5 572.1C258.9 571 268 570.5 275.6 570.1C283.1 569.7 289.4 569.6 295.6 569.6C301.9 569.6 309.1 570 313.2 570.1C317.3 570.2 314.7 569.7 320 570.1C325.3 570.5 336.7 571.8 345.1 572.6C353.4 573.4 361.8 574.4 370.2 575.1C378.5 575.9 386.9 576.5 395.2 577.1C403.6 577.7 411.3 577.8 420.3 578.6C429.4 579.4 441.3 580.6 449.7 581.9C458 583.1 462.8 584.5 470.5 586.1C478.1 587.8 487.2 589.9 495.6 591.9C503.9 593.9 513.2 596.3 520.7 597.9C528.1 599.5 534.3 600.3 540 601.4C545.7 602.6 549.6 604.2 555 605C560.5 605.7 566.8 606.2 572.6 606.2C578.5 606.2 584.7 605.7 590.2 605C595.6 604.2 600.2 603.2 605.2 601.9C610.3 600.7 614.7 599.4 620.5 597.7C626.4 595.9 633.7 593.3 640.3 591.4C647 589.5 653.7 587.6 660.4 586.1C667.1 584.7 676 583.4 680.5 582.9C684.9 582.4 683 583.5 687 583.1C691 582.8 698.3 581.2 704.6 580.6C710.8 580 718.4 579.6 724.6 579.6C730.9 579.6 735.9 579.9 742.2 580.6C748.5 581.3 754.7 582.4 762.2 583.9C769.8 585.3 779 587.4 787.3 589.4C795.7 591.4 804 593.5 812.4 595.7C820.8 597.9 829.1 600.3 837.5 602.7C845.9 605.1 854.2 607.6 862.6 610C870.9 612.4 878.8 614.6 887.7 617C896.5 619.4 911.1 623.1 915.7 624.3"/>
<path d="M109.5 623.8C112.1 622.9 118.3 620.8 125.1 618.7C131.9 616.7 141.8 613.9 150.2 611.5C158.5 609.1 166.9 606.7 175.2 604.4C183.6 602.2 192 600.2 200.3 598.2C208.7 596.1 217 594 225.4 592.2C233.8 590.3 242.1 588.5 250.5 586.9C258.9 585.3 267.2 583.8 275.6 582.6C283.9 581.4 293.2 580.3 300.7 579.6C308.1 578.9 312.6 579 320 578.6C327.4 578.2 336.7 577.5 345.1 577.1C353.4 576.7 361.8 576.3 370.2 576.1C378.5 575.9 386.9 576.4 395.2 576.1C403.6 575.8 412 575.1 420.3 574.4C428.7 573.6 437 572.3 445.4 571.3C453.8 570.3 462.1 569.2 470.5 568.3C478.9 567.5 487.2 566.9 495.6 566.3C503.9 565.7 513.2 565.2 520.7 564.8C528.1 564.5 530.5 564.5 540 564.3C549.5 564.2 564.2 563.7 577.6 563.8C591 563.9 608 564.4 620.5 564.8C633.1 565.2 641.8 565.8 652.9 566.3C663.9 566.9 677.1 567.5 687 568.1C696.9 568.6 703.7 569 712.1 569.6C720.4 570.1 728.8 570.6 737.2 571.3C745.5 572.1 753.9 572.8 762.2 573.8C770.6 574.9 779 576.1 787.3 577.9C795.7 579.6 804 581.8 812.4 584.4C820.8 586.9 829.1 590 837.5 593.2C845.9 596.3 854.2 599.7 862.6 603.2C870.9 606.7 878.8 610.5 887.7 614C896.5 617.5 911.1 622.5 915.7 624.3"/>
<path d="M109.5 623.8C112.1 623.8 120.4 623.8 125.1 624C129.8 624.2 133.4 624.6 137.6 624.8C141.8 624.9 146.6 625.3 150.2 624.8C153.7 624.2 154.8 623 158.9 621.5C163.1 620 168.3 618 175.2 615.7C182.1 613.5 192 610.7 200.3 608.2C208.7 605.7 217 603 225.4 600.7C233.8 598.4 242.1 596.4 250.5 594.4C258.9 592.5 267.2 590.4 275.6 588.9C283.9 587.4 293.2 586 300.7 585.1C308.1 584.3 312.6 584.7 320 583.9C327.4 583.1 336.7 581.4 345.1 580.4C353.4 579.3 361.8 578.3 370.2 577.6C378.5 576.9 386.9 576.4 395.2 576.4C403.6 576.4 412 576.9 420.3 577.6C428.7 578.3 437 580 445.4 580.6C453.8 581.3 462.1 581.5 470.5 581.6C478.9 581.8 487.2 581.5 495.6 581.4C503.9 581.2 513.2 581 520.7 580.9C528.1 580.7 528.4 580.5 540 580.4C551.6 580.2 576.7 579.9 590.2 579.9C603.6 579.9 610.1 580.1 620.5 580.4C631 580.7 642.9 581.2 652.9 581.6C662.9 582.1 674.8 583 680.5 583.1C686.1 583.3 681.7 582.1 687 582.6C692.3 583.2 703.7 584.9 712.1 586.4C720.4 587.9 728.8 589.6 737.2 591.4C745.5 593.2 753.9 595.2 762.2 597.2C770.6 599.1 779 601.2 787.3 603.2C795.7 605.2 804 607.1 812.4 609C820.8 610.8 829.5 612.6 837.5 614.2C845.4 615.9 855 617.2 860.1 618.7C865.1 620.3 864.7 622.3 867.6 623.3C870.5 624.3 873.4 624.5 877.6 624.8C881.8 625 888.1 624.9 892.7 624.8C897.3 624.6 901.4 624.2 905.2 624C909.1 623.8 914 623.8 915.7 623.8"/>
</g></g>
<g stroke="#666" stroke-width="1" fill="none">
<path d="M109.5 213.2H916.2M109.5 213.2V624.4"/>
<path d="M109.0 624.4H916.2" stroke="#3c3c3c" stroke-width="1.1"/>
<path d="M109.5 624.4h16.3M916.2 624.4h-16.3M109.5 521.6h16.3M916.2 521.6h-16.3M109.5 418.8h16.3M916.2 418.8h-16.3M109.5 316h16.3M916.2 316h-16.3M109.5 573h8.2M916.2 573h-8.2M109.5 470.2h8.2M916.2 470.2h-8.2M109.5 367.4h8.2M916.2 367.4h-8.2M109.5 264.6h8.2M916.2 264.6h-8.2M449.6 624.4v-11.5M449.6 213.2v11.5M620.7 624.4v-11.5M620.7 213.2v11.5"/>
</g>
<path d="M916.4 212.7V624.9" stroke="#111" stroke-width="2"/>
<path d="M323.8 659.0V1137.4M432.1 659.0V1137.4" stroke="#dcdcdc" stroke-width="1" fill="none"/>
<clipPath id="cpB"><rect x="108.3" y="659.0" width="510.3" height="478.4000000000001"/></clipPath>
<g fill="none" stroke="#6b1d7b" stroke-width="1.55" clip-path="url(#cpB)">
<path d="M108.3 706.4C109.8 706.7 113.9 706.6 117.6 708.2C121.2 709.7 125.5 711.2 130.1 715.7C134.7 720.2 140.1 727.8 145.1 735.3C150.2 742.7 155.2 752 160.2 760.4C165.2 768.7 170.6 778.1 175.2 785.4C179.8 792.8 183.6 798.8 187.8 804.3C192 809.7 196.1 814.1 200.3 818C204.5 822 208.7 825.2 212.9 828.1C217 831 220.8 833.4 225.4 835.6C230 837.8 235.4 839.7 240.5 841.1C245.5 842.6 250.5 843.6 255.5 844.4C260.5 845.2 266.4 845.6 270.6 845.9C274.7 846.1 277.2 846.1 280.6 845.9C283.9 845.7 287.3 845.3 290.6 844.6C294 843.9 297.3 842.8 300.7 841.6C304 840.5 307.3 838.7 310.7 837.6C314 836.6 318.5 835.8 320.7 835.4C322.9 834.9 322.2 834.8 323.8 834.9C325.3 834.9 327.3 835.7 330 835.9C332.7 836 336.3 836.4 340.1 835.9C343.8 835.3 348.4 834.1 352.6 832.6C356.8 831.1 361 829.2 365.1 826.8C369.3 824.5 373.5 821.7 377.7 818.5C381.9 815.4 386 811.8 390.2 808C394.4 804.3 398.6 799.9 402.8 796C407 792 411.5 787.2 415.3 784.2C419.1 781.2 422.5 779.2 425.3 777.9C428.1 776.7 429.6 776.5 432.1 776.7C434.6 776.8 437.3 777 440.4 778.7C443.4 780.3 447.1 783.5 450.4 786.7C453.8 789.9 457.1 794.2 460.5 798C463.8 801.7 466.7 805.5 470.5 809.3C474.3 813 478.9 817.6 483 820.6C487.2 823.5 491.8 825.7 495.6 827.1C499.3 828.4 502.3 828.6 505.6 828.6C508.9 828.5 512.3 828.1 515.6 826.8C519 825.6 521.6 824.3 525.7 821.1C529.7 817.8 535.9 812.2 540 807.5C544.1 802.8 546.7 798.3 550 793C553.4 787.6 556.7 781.7 560.1 775.4C563.4 769.1 566.8 761.8 570.1 755.3C573.4 748.9 576.8 742 580.1 736.5C583.5 731.1 586.8 726.5 590.2 722.7C593.5 719 596.9 716.3 600.2 714C603.5 711.7 607.2 710.2 610.2 708.9C613.3 707.7 617.1 706.9 618.5 706.4"/>
<path d="M108.3 706.4C109.8 706.1 114.3 705.8 117.6 704.7C120.8 703.5 124.2 701.5 127.6 699.7C130.9 697.9 134.3 695.6 137.6 693.9C141 692.2 144.5 690.5 147.7 689.6C150.8 688.8 153.1 688.5 156.4 688.6C159.8 688.7 164.2 689.7 167.7 690.1C171.3 690.6 174.4 691.6 177.8 691.4C181.1 691.2 184 690.5 187.8 688.9C191.5 687.2 196.1 684.2 200.3 681.4C204.5 678.6 208.7 675.2 212.9 672.1C217 668.9 222.5 664.7 225.4 662.5C228.3 660.4 229.6 659.6 230.4 659"/>
<path d="M108.3 662C109.4 663.6 112.7 668.1 115 671.3C117.4 674.5 119.6 678 122.6 681.4C125.5 684.7 129.3 688.8 132.6 691.4C136 694 138.9 695.8 142.6 697.2C146.4 698.5 151 699.2 155.2 699.7C159.4 700.2 163.5 700.2 167.7 700.2C171.9 700.2 176.1 699.5 180.3 699.7C184.4 699.9 188.6 701 192.8 701.4C197 701.8 201.6 702.4 205.3 702.2C209.1 702 212 701.3 215.4 700.2C218.7 699 222.1 697.4 225.4 695.1C228.8 692.8 232.3 689.2 235.4 686.4C238.6 683.5 241.5 680 244.2 678.1C246.9 676.2 249.4 675.2 251.7 675.1C254 675 255.7 675.5 258 677.6C260.3 679.7 262.6 682.6 265.5 687.6C268.5 692.6 272.2 700.6 275.6 707.7C278.9 714.8 282.3 722.7 285.6 730.3C288.9 737.8 292.3 745.3 295.6 752.8C299 760.4 302.7 769.3 305.7 775.4C308.6 781.5 310.9 785.9 313.2 789.2C315.5 792.5 317.7 794.2 319.5 795.5C321.2 796.8 322 797.1 323.8 797C325.5 796.9 327.7 796.5 330 795C332.3 793.5 334.6 791.4 337.6 787.9C340.5 784.5 344.2 779.2 347.6 774.2C350.9 769.1 353.9 763.9 357.6 757.9C361.4 751.8 366 744.3 370.2 737.8C374.3 731.3 378.5 724.8 382.7 719C386.9 713.1 391.1 707.5 395.2 702.7C399.4 697.9 403.6 693.5 407.8 690.1C412 686.8 416.3 684.3 420.3 682.6C424.4 680.9 428.4 680.3 432.1 680.1C435.9 679.9 439 680.4 442.9 681.4C446.8 682.3 450.8 684.1 455.4 685.6C460 687.2 465.5 689.2 470.5 690.6C475.5 692.1 480.5 693.3 485.5 694.1C490.6 695 495.6 695.6 500.6 695.9C505.6 696.2 509.1 696.4 515.6 696.2C522.2 695.9 534.3 695.5 540 694.6C545.7 693.8 546.7 691.8 550 690.9C553.4 689.9 556.7 689.2 560.1 688.9C563.4 688.5 566.8 688.5 570.1 688.9C573.4 689.3 576.8 690.1 580.1 691.4C583.5 692.6 586.4 694.6 590.2 696.4C593.9 698.2 598 700.5 602.7 702.2C607.4 703.8 615.9 705.7 618.5 706.4"/>
<path d="M108.3 661.8C110.2 662 116 662.8 120.1 663C124.1 663.3 129.1 663.3 132.6 663C136.2 662.7 138.9 662 141.4 661.3C143.9 660.6 146.6 659.4 147.7 659"/>
<path d="M417.8 659C418.9 660 421.7 663.5 424.1 665C426.5 666.6 429.4 668.2 432.1 668.3C434.8 668.4 437.5 667.3 440.4 665.8C443.2 664.3 447.7 660.2 449.2 659"/>
<path d="M510.6 659C512.3 660.5 516.9 664.4 520.7 667.6C524.4 670.7 530 675.2 533.2 678.1C536.4 681 537.2 683 540 685.1C542.8 687.2 545.9 689 550 690.9C554.2 692.8 560.5 695.3 565.1 696.4C569.7 697.5 573.9 697.9 577.6 697.7C581.4 697.4 584.3 696.8 587.7 695.1C591 693.5 594.3 691 597.7 687.6C601 684.3 604.3 679.5 607.7 675.1C611.2 670.7 616.7 663.6 618.5 661.3"/>
<path d="M577.6 659C579.7 659.5 585.6 661.5 590.2 662C594.8 662.5 600.5 662.2 605.2 662C609.9 661.9 616.3 661.4 618.5 661.3"/>
<path d="M108.3 955.2C110.2 954.9 116 954.1 120.1 953.2C124.1 952.3 128.4 950.9 132.6 949.7C136.8 948.4 141 946.9 145.1 945.7C149.3 944.5 153.5 943.3 157.7 942.7C161.9 942 166 941.6 170.2 941.7C174.4 941.8 178.6 942.2 182.8 943.2C187 944.2 191.1 946 195.3 947.7C199.5 949.4 203.7 951.5 207.9 953.2C212 954.9 216.2 956.6 220.4 957.7C224.6 958.8 229.2 959.7 232.9 960C236.7 960.2 239.6 959.9 243 959.2C246.3 958.5 249.7 957.4 253 955.7C256.3 954 259.3 952 263 948.9C266.8 945.9 271.4 941.8 275.6 937.7C279.8 933.5 283.9 928.2 288.1 923.9C292.3 919.5 296.9 914.8 300.7 911.3C304.4 907.8 307.8 905 310.7 903C313.6 901 316 900.1 318.2 899.3C320.4 898.5 321.4 897.9 323.8 898.3C326.2 898.6 329.4 899.3 332.5 901.3C335.7 903.3 339.2 906.7 342.6 910.1C345.9 913.4 348.8 917.2 352.6 921.4C356.4 925.5 361 930.8 365.1 935.1C369.3 939.5 373.5 943.7 377.7 947.7C381.9 951.7 386 955.6 390.2 959C394.4 962.3 398.6 965.2 402.8 967.8C407 970.3 411.5 972.6 415.3 974C419.1 975.5 422.5 976 425.3 976.5C428.1 977 428.8 976.9 432.1 977C435.5 977.2 440.7 977.3 445.4 977.5C450.1 977.7 455.9 978.2 460.5 978.3C465.1 978.3 468.8 978.3 473 977.8C477.2 977.3 481.4 976.5 485.5 975.3C489.7 974 493.9 972.3 498.1 970.3C502.3 968.3 506.4 965.7 510.6 963.2C514.8 960.8 519 958.1 523.2 955.7C527.3 953.3 532.9 950.4 535.7 948.9C538.5 947.5 537.6 948 540 947.2C542.4 946.4 546.7 944.6 550 943.9C553.4 943.3 556.3 943 560.1 943.2C563.8 943.3 568.4 943.8 572.6 944.7C576.8 945.5 581 946.9 585.1 948.2C589.3 949.4 593.9 951.2 597.7 952.2C601.5 953.2 604.3 954 607.7 954.5C611.2 955 616.7 955.1 618.5 955.2"/>
<path d="M108.3 1071.1C110.2 1071.6 116 1072.8 120.1 1074.4C124.1 1075.9 128.4 1078.3 132.6 1080.6C136.8 1082.9 141 1085.8 145.1 1088.1C149.3 1090.4 153.5 1092.5 157.7 1094.4C161.9 1096.3 166 1098.1 170.2 1099.4C174.4 1100.8 178.6 1101.8 182.8 1102.7C187 1103.6 191.1 1104.2 195.3 1105C199.5 1105.7 203.7 1106.2 207.9 1107.2C212 1108.2 216.2 1109.4 220.4 1110.7C224.6 1112.1 228.8 1113.8 232.9 1115.2C237.1 1116.7 241.3 1118.2 245.5 1119.5C249.7 1120.8 253.8 1121.7 258 1122.8C262.2 1123.8 266.4 1124.6 270.6 1125.8C274.7 1126.9 278.9 1128.3 283.1 1129.5C287.3 1130.8 291.9 1132.2 295.6 1133.3C299.4 1134.4 302.7 1135.3 305.7 1136.1C308.6 1136.8 311.9 1137.5 313.2 1137.8"/>
<path d="M335 1137.8C337.1 1137.1 343.4 1134.9 347.6 1133.3C351.8 1131.7 356.4 1130 360.1 1128.3C363.9 1126.5 366.8 1125.1 370.2 1122.8C373.5 1120.5 376.9 1117.5 380.2 1114.5C383.5 1111.4 386.9 1108 390.2 1104.4C393.6 1100.9 396.9 1096.5 400.3 1093.2C403.6 1089.8 407 1086.8 410.3 1084.4C413.6 1082 417 1079.9 420.3 1078.6C423.7 1077.3 427 1076.9 430.4 1076.6C433.7 1076.4 436.6 1076.7 440.4 1077.1C444.2 1077.6 448.8 1078.3 452.9 1079.4C457.1 1080.5 460.9 1081.8 465.5 1083.6C470.1 1085.4 475.5 1087.9 480.5 1090.2C485.5 1092.4 490.6 1095 495.6 1096.9C500.6 1098.9 505.6 1100.8 510.6 1101.9C515.6 1103.1 521.1 1103.8 525.7 1103.9C530.3 1104.1 535.8 1103 538.2 1102.7C540.6 1102.4 538 1102.8 540 1101.9C542 1101.1 546.7 1099.3 550 1097.7C553.4 1096 556.3 1094.1 560.1 1091.9C563.8 1089.7 568.4 1086.7 572.6 1084.4C576.8 1082.1 581 1079.9 585.1 1078.1C589.3 1076.3 593.9 1074.7 597.7 1073.6C601.5 1072.5 604.3 1072.1 607.7 1071.6C611.2 1071.1 616.7 1071 618.5 1070.8"/>
<path d="M108.3 1071.1C109.8 1071.6 114.3 1072.8 117.6 1074.4C120.8 1075.9 124.2 1077.9 127.6 1080.6C130.9 1083.3 134.3 1087.1 137.6 1090.7C141 1094.2 144.3 1098.2 147.7 1101.9C151 1105.7 154.3 1109.7 157.7 1113.2C161 1116.8 164.4 1120.1 167.7 1123.3C171.1 1126.4 174.4 1129.6 177.8 1132C181.1 1134.5 186.1 1136.8 187.8 1137.8"/>
<path d="M538.7 1137.8C540.6 1135.6 546.4 1128.8 550 1124.5C553.6 1120.2 556.3 1116.4 560.1 1112C563.8 1107.6 568.4 1102.6 572.6 1098.2C576.8 1093.8 581 1089.2 585.1 1085.6C589.3 1082.1 593.9 1079 597.7 1076.9C601.5 1074.7 604.3 1073.6 607.7 1072.6C611.2 1071.6 616.7 1071.1 618.5 1070.8"/>
</g>
<clipPath id="cpD"><rect x="618.6" y="659.0" width="297.6" height="478.4000000000001"/></clipPath>
<g clip-path="url(#cpD)">
<path d="M618.6 659.2C645.6 659.2 818.3 658.9 850 659.2C881.7 659.5 889.1 661.6 890.5 662.1C891.8 662.7 871.2 663.4 861.7 663.9C852.2 664.4 819.8 665.9 809.3 666.3C798.9 666.7 780.8 667 772 667.4C763.2 667.7 742.1 668.8 734.1 669.4C726.2 670.1 703.6 672 703.6 672.6C703.6 673.2 726.2 674.2 734.1 674.7C742.1 675.1 763.2 676.1 772 676.4C780.8 676.8 798.9 677.5 809.3 677.8C819.8 678.2 851.9 679.2 861.7 679.6C871.5 679.9 888.2 680.4 893.1 680.8C898 681.1 901.5 682.1 903.6 682.5C905.6 682.9 908.8 683.9 910.5 684.3C912.3 684.6 917.5 683.6 918.4 685.5C919.3 687.4 923 698.4 918.4 700.3C913.8 702.2 889.8 701.3 879.1 701.7C868.5 702.1 837 703.4 826.8 703.8C816.6 704.2 798.3 704.9 791.9 705.2C785.5 705.6 778.7 706.6 772 707C765.3 707.4 742.6 708.2 734.1 708.7C725.6 709.2 705.3 710.6 699.2 711.3C693.1 712 685 713.8 681.8 714.8C678.5 715.8 673.4 718.6 671.3 720C669.3 721.5 665.6 725.2 664.3 727C663.1 728.9 661.5 733.5 660.9 735.8C660.2 738 659.4 743.8 659.1 746.2C658.8 748.7 658.3 754.5 658.2 756.7C658.2 758.9 658.4 763.8 658.8 765.4C659.2 767 660.3 769.7 661.7 770.6C663.2 771.6 669 772.6 671.3 773.3C673.7 773.9 680.2 775.6 681.8 776.2C683.4 776.8 684.5 777.8 684.9 778.5C685.3 779.2 684.6 781.1 685.3 782C685.9 782.9 688.5 785.3 690.5 786.4C692.6 787.4 699.5 789.8 702.7 790.7C705.9 791.6 718.1 793.5 718.1 794.2C718.1 794.9 707 796 702.7 796.5C698.5 796.9 686.7 797.8 681.8 798.2C676.9 798.7 664.2 799.8 660.9 800.3C657.5 800.8 654.2 801.9 653 802.4C651.8 802.9 650.7 803.9 650.7 804.7C650.7 805.4 652.6 808.2 653 809C653.4 809.9 652.8 811 653.9 812C655 813 660.2 816 662.6 817.2C665 818.5 672.7 821.6 674.8 822.5C677 823.4 680.1 824.5 680.9 825.1C681.7 825.7 682 827.2 681.8 827.7C681.6 828.2 678 828.9 679.2 829.4C680.4 830 689.2 831.5 692.3 832.1C695.3 832.7 705.8 834.1 705.3 834.7C704.9 835.3 692.4 836.7 688.8 837.3C685.1 837.9 675.8 839.2 673.9 839.9C672.1 840.6 675.2 842.7 673.1 843.4C670.9 844.1 660.1 845.4 655.6 846C651.1 846.6 638.6 848 634.7 848.6C630.8 849.3 624.3 850.7 622.5 851.3C620.6 851.8 619.1 852.8 618.6 853L618.6 659.2Z" fill="#46873e" stroke="#46873e" stroke-width=".6"/>
<path d="M618.6 890.9C619.1 891 620.2 891.9 622.5 892.3C624.7 892.6 633.3 893.6 638.2 894C643.1 894.4 658.2 895.3 664.3 895.8C670.5 896.2 684.8 897.1 690.5 897.5C696.2 897.9 712.6 898.7 713.2 899.2C713.8 899.7 699.4 901.2 695.8 901.9C692.1 902.5 684.6 903.8 681.8 904.5C678.9 905.2 673.4 906.9 671.3 908C669.3 909 665.5 911.8 664.3 913.2C663.2 914.6 661.8 918.6 661.4 920.2C661 921.8 660.7 925.7 660.9 927.2C661 928.6 661.8 931.5 662.6 932.4C663.4 933.3 665.6 934.5 667.8 935C670.1 935.5 677.1 936.3 681.8 936.8C686.5 937.2 699.8 938 708 938.5C716.1 939 745.9 940.6 751.6 941.1C757.3 941.6 753.5 942 757 942.5C760.5 943 779.7 944.5 781.4 945.5C783.2 946.4 772.6 949.7 771.8 950.7C771 951.7 776.2 953.4 774.4 954.2C772.7 955 759.7 957.2 757 957.7C754.3 958.2 756.3 957.9 751.6 958.2C746.9 958.6 723.8 960 716.7 960.7C709.6 961.3 694.7 963.1 690.5 963.8C686.3 964.5 680.9 965.8 680.9 966.4C680.9 967 686.3 968.1 690.5 968.7C694.7 969.3 709.6 971 716.7 971.7C723.8 972.3 745.9 973.8 751.6 974.3C757.3 974.7 767.6 975.3 765.5 975.7C763.5 976.1 743.9 977.3 734.1 977.8C724.4 978.2 692 979.4 681.8 979.9C671.6 980.3 653.4 980.8 646.9 981.2C640.4 981.7 629.3 982.8 626 983.3C622.7 983.9 619.5 985.3 618.6 985.6L618.6 890.9Z" fill="#46873e" stroke="#46873e" stroke-width=".6"/>
<path d="M618.6 659.2C629.2 659.2 698.5 658.7 709.7 659C721 659.3 718.2 660.9 714.9 661.6C711.7 662.3 689.7 664.3 681.8 665.1C673.9 665.8 652.3 667.4 646.9 668.1C641.5 668.7 637.1 669.8 635.6 670.3C634 670.8 633.7 671.9 633.8 672.6C633.9 673.3 635.5 675.6 636.4 676.4C637.3 677.3 639.8 679.1 641.7 679.9C643.5 680.7 647.4 682.4 652.1 683.1C656.8 683.7 674.3 684.8 681.8 685.5C689.3 686.2 710 687.9 716.7 688.6C723.4 689.4 738.4 691 739.4 691.8C740.4 692.6 729.7 694.3 725.4 695.3C721.1 696.2 707.8 698.8 702.7 700C697.6 701.1 687.3 704.1 681.8 705.2C676.3 706.3 660.7 708.8 655.6 709.6C650.5 710.4 640.9 711.6 638.2 712.2C635.4 712.8 633.1 714.1 632.1 714.8C631 715.5 629.9 716.9 629.4 718.3C629 719.7 628.4 724.6 628.2 727C628 729.5 627.8 735.8 627.7 739.2C627.6 742.7 627.4 753.4 627.4 756.7C627.4 759.9 627.3 765.4 627.7 767.2C628.2 768.9 629 770.7 631.2 771.5C633.4 772.3 643.4 773.5 646.9 774.1C650.4 774.8 660.2 776.4 660.9 777.3C661.5 778.2 653.8 780.7 652.1 782C650.5 783.3 647.7 786.6 646.9 788.1C646.1 789.6 645.4 793.4 645.2 795.1C644.9 796.7 644.9 800.4 645.2 802.1C645.4 803.7 646.4 807.9 646.9 809C647.4 810.2 648.6 811 649.5 812C650.4 813 653 816 654.7 817.2C656.5 818.5 662.1 821.5 664.3 822.5C666.6 823.5 672.7 825.2 673.9 826C675.2 826.7 674.5 828.1 674.8 828.6C675.1 829.1 675.3 829.9 676.6 830.3C677.8 830.7 683.2 831.6 685.3 832.1C687.3 832.6 694.4 834.1 694 834.7C693.6 835.3 684.3 836.7 681.8 837.3C679.2 837.9 673.4 839.2 672.2 839.9C671 840.6 673.1 842.8 671.3 843.4C669.6 844 661.6 844.6 657.4 845.2C653.1 845.7 638.8 847.2 634.7 847.8C630.6 848.4 624.3 849.8 622.5 850.4C620.6 850.9 619.1 852.2 618.6 852.5L618.6 659.2Z" fill="#3f4899" stroke="#3f4899" stroke-width=".6"/>
<path d="M618.6 891.4C619.3 891.7 622.7 893.3 624.2 894C625.7 894.7 630 896.8 631.2 897.5C632.4 898.2 634.7 899.5 634.7 900.1C634.7 900.7 631.9 902 631.2 902.7C630.5 903.4 629 905 628.6 906.2C628.1 907.4 627.6 911.2 627.4 913.2C627.2 915.2 626.8 921.4 626.8 923.7C626.9 925.9 627.2 931.1 627.7 932.4C628.2 933.7 629 934.5 631.2 935C633.4 935.5 642 936.3 646.9 936.8C651.8 937.2 665.9 938 673.1 938.5C680.2 939 701.7 940.5 708 941.1C714.3 941.7 724.3 943.2 727.2 943.7C730 944.2 733.2 945 732.4 945.5C731.6 946 722.2 947.4 720.2 948.1C718.1 948.8 718.4 950.9 714.9 951.6C711.5 952.3 696 953.6 690.5 954.2C685 954.8 672.5 956.1 667.8 956.8C663.2 957.5 653.4 959.5 650.4 960.3C647.3 961.1 642.9 963.1 641.7 963.8C640.4 964.5 639.5 965.8 639.9 966.4C640.3 967 643.3 968.4 645.2 969C647 969.6 653 971 655.6 971.7C658.3 972.3 665.6 973.8 667.8 974.3C670.1 974.8 675.2 975.6 674.8 976C674.4 976.4 667.6 977.4 664.3 977.8C661.1 978.2 651.2 979.1 646.9 979.5C642.6 980 630.9 981 627.7 981.6C624.5 982.1 620.9 983.7 619.9 984.2C618.8 984.7 618.8 985.4 618.6 985.6L618.6 891.4Z" fill="#3f4899" stroke="#3f4899" stroke-width=".6"/>
<path d="M618.6 1062.7C619.5 1062.9 622.7 1064.1 626 1064.5C629.3 1064.9 640.4 1065.8 646.9 1066.2C653.4 1066.6 673.7 1067.6 681.8 1068C689.9 1068.4 708.5 1069.3 716.7 1069.7C724.8 1070.1 746.9 1071.1 751.6 1071.5C756.3 1071.8 750.9 1071.7 757 1072.3C763.1 1073 804.1 1075.9 804.1 1077.2C804.1 1078.5 763.1 1082.6 757 1083.3C750.9 1084.1 753.8 1083.3 751.6 1083.7C749.3 1084 740.1 1085.7 737.6 1086.3C735.2 1086.9 731.8 1088.3 730.6 1088.9C729.5 1089.5 727.5 1090.9 727.5 1091.5C727.5 1092.1 729.3 1093.5 730.6 1094.1C732 1094.7 736.9 1096.1 739.4 1096.8C741.8 1097.4 749.5 1098.8 751.6 1099.4C753.6 1099.9 757.8 1101 756.8 1101.5C755.8 1102 747.5 1103.2 742.9 1103.7C738.2 1104.3 721.8 1105.7 716.7 1106.4C711.6 1107 702.4 1108.4 699.2 1109C696.1 1109.6 691.1 1111 689.6 1111.6C688.2 1112.2 687 1113.6 687 1114.2C687 1114.8 688.4 1116.1 689.6 1116.8C690.9 1117.5 695.6 1119.5 697.5 1120.3C699.4 1121.1 704.5 1123.1 706.2 1123.8C708 1124.5 710.9 1125.8 712.3 1126.4C713.8 1127 716.5 1128.4 718.4 1129C720.4 1129.6 726.3 1131 728.9 1131.7C731.5 1132.3 738.7 1133.8 741.1 1134.3C743.6 1134.8 748.3 1135.7 749.8 1136C751.4 1136.3 769.5 1136.9 754.2 1137.1C738.9 1137.2 634.4 1137.1 618.6 1137.1L618.6 1062.7Z" fill="#3f4899" stroke="#3f4899" stroke-width=".6"/>
<path d="M618.6 659.2C620 659.2 628.9 658.7 630.3 659C631.8 659.3 631.5 661 631.2 661.6C630.9 662.2 628.7 663.6 627.7 664.2C626.7 664.8 623.2 666.2 622.5 666.8C621.8 667.4 621.6 668.3 621.6 669.4C621.6 670.6 622.1 674.8 622.5 676.4C622.8 678.1 624 681.8 624.6 683.4C625.1 685 626.8 689.2 627.4 690.4C627.9 691.6 628.8 693.1 628.9 693.9C629 694.7 628.5 696.6 628.1 697.4C627.6 698.2 625.8 700 625.1 700.9C624.3 701.7 622.2 703.5 621.6 704.3C621 705.2 620.4 705.8 620.2 707.8C620 709.9 619.9 718.1 619.9 721.8C619.8 725.5 619.8 735.2 619.9 739.2C619.9 743.3 620 753.4 620.2 756.7C620.4 759.9 620.9 765.5 621.6 767.2C622.3 768.8 624.4 769.9 626 770.6C627.5 771.4 632.6 772.7 634.7 773.3C636.7 773.9 642 775.3 643.4 775.9C644.8 776.4 647.1 777.4 646.9 778C646.7 778.6 642.8 780.3 641.7 781.1C640.5 781.9 638.1 783.6 637.3 784.6C636.5 785.6 635.1 788.4 634.7 789.8C634.3 791.3 633.9 795.2 633.8 796.8C633.8 798.4 634 802.2 634.3 803.8C634.6 805.4 636.3 809.8 636.4 810.8C636.6 811.7 635.1 811.2 635.6 812C636 812.8 638.7 816 639.9 817.2C641.1 818.5 645 821.5 646 822.5C647 823.5 648 825.1 648.6 826C649.3 826.8 649.8 828.7 651.3 829.4C652.7 830.2 658.7 831.5 660.9 832.1C663 832.7 669.8 834.1 669.6 834.7C669.4 835.3 661.3 836.7 659.1 837.3C656.9 837.9 651.8 839.3 650.4 839.9C649 840.5 648.1 841.9 646.9 842.5C645.7 843.1 642.2 844.5 639.9 845.2C637.7 845.8 629.9 847.2 627.7 847.8C625.5 848.4 621.8 849.8 620.7 850.4C619.7 850.9 618.9 852.2 618.6 852.5L618.6 659.2Z" fill="#6c2470" stroke="#6c2470" stroke-width=".6"/>
<path d="M618.6 891.4C618.7 892.3 619.2 896.3 619.3 899.2C619.5 902.2 619.7 912.6 619.9 916.7C620 920.8 620 931.7 620.7 934.1C621.4 936.6 624.8 936.8 626 937.6C627.1 938.4 629.7 940.3 630.3 941.1C631 941.9 631.5 943.8 631.5 944.6C631.6 945.4 631 947.3 630.8 948.1C630.7 948.9 630.7 950.8 630.3 951.6C630 952.4 628.4 954.3 627.7 955.1C627 955.9 624.9 957.8 624.2 958.6C623.5 959.4 622 961.2 621.6 962.1C621.2 962.9 621 964.7 621.1 965.5C621.1 966.4 621.9 968.2 622.1 969C622.4 969.8 623.1 971.7 623.3 972.5C623.5 973.3 624.1 975.2 623.9 976C623.7 976.8 622.1 978.7 621.6 979.5C621.1 980.3 619.7 981.8 619.3 982.5C619 983.2 618.7 985.2 618.6 985.6L618.6 891.4Z" fill="#6c2470" stroke="#6c2470" stroke-width=".6"/>
<path d="M618.6 1062.7C619.1 1063.1 621.5 1065.4 622.5 1066.2C623.4 1067 626.1 1069 626.8 1069.7C627.5 1070.4 628.2 1071.7 628.6 1072.3C629 1072.9 630.1 1074.3 630.3 1074.9C630.6 1075.6 631 1077 630.8 1077.6C630.6 1078.2 629 1079.5 628.6 1080.2C628.1 1080.9 627.1 1082.4 626.8 1083.7C626.6 1084.9 626.3 1089 626.3 1090.6C626.3 1092.3 626.6 1096 626.7 1097.6C626.7 1099.3 626.7 1103 626.8 1104.6C627 1106.2 627.6 1110.2 628.1 1111.6C628.5 1113 629.6 1115.6 630.3 1116.8C631 1118 632.9 1120.8 633.8 1122.1C634.7 1123.3 637.2 1126.3 638.2 1127.3C639.2 1128.3 641.3 1130 642.5 1130.8C643.8 1131.6 647.2 1133.5 648.6 1134.3C650.1 1135 658.2 1136.7 654.7 1137.1C651.2 1137.4 622.8 1137.1 618.6 1137.1L618.6 1062.7Z" fill="#6c2470" stroke="#6c2470" stroke-width=".6"/>
</g>
<path d="M108.3 898.3H618.6" stroke="#3a3a3a" stroke-width="1.3" stroke-dasharray="13 7.3" stroke-dashoffset="-10.2" fill="none"/>
<path d="M108.3 739h16M916.2 739h-10M108.3 898.3h16M916.2 898.3h-10M108.3 1057.6h16M916.2 1057.6h-10" stroke="#777" stroke-width="1" fill="none"/>
<path d="M602.1 739h26M602.1 898.3h26M602.1 1057.6h26" stroke="#333" stroke-width="1" fill="none"/>
<path d="M107.3 659.0H917.0M107.3 1137.4H917.0" stroke="#2a2a2a" stroke-width="1.6" fill="none"/>
<path d="M108.3 659.0V1137.4" stroke="#363636" stroke-width="2.1" fill="none"/>
<path d="M618.6 659.0V1137.4" stroke="#000" stroke-width="2.1" fill="none"/>
<path d="M916.2 659.0V1137.4" stroke="#333" stroke-width="1.7" fill="none"/>
<rect x="718.6" y="738.6" width="194.8" height="150.3" fill="#fff" stroke="#666" stroke-width="1"/>
<path d="M732.9 767.9H785.3" stroke="#46873e" stroke-width="2.5"/>
<path d="M732.9 813.8H785.3" stroke="#3f4899" stroke-width="2.5"/>
<path d="M732.9 859.7H785.3" stroke="#6b1d7b" stroke-width="2.5"/>
<text x="812" y="777.3" font-size="35.5">T<tspan dx="2.2">a</tspan> <tspan dx="2.3">(d)</tspan></text>
<text x="812" y="822.6" font-size="35.5">S (p)</text>
<text x="812" y="867.5" font-size="35.5">F (p)</text>
<path d="M319.5 893.3L277.5 853.5" stroke="#1f1a5c" stroke-width="2.4" fill="none"/>
<path d="M273.8 850.1L287.6 854.5L279.3 863.2Z" fill="#1f1a5c"/>
<text transform="translate(297.8 871.5) scale(1.065 1.02)" font-size="35">E<tspan font-size="19.5" dy="11.5">GAP</tspan><tspan dy="-11.5" font-size="35">= 0.65 eV</tspan></text>
<text class="b" x="1.8" y="177" font-size="41.6">(a)</text>
<text class="b" x="1.7" y="643.4" font-size="42">(b)</text>
<text class="b" x="2" y="1160.5" font-size="42">(c)</text>
<text x="97.6" y="226.3" font-size="34.6" text-anchor="end">800</text>
<text x="98.0" y="323.6" font-size="34.6" text-anchor="end">600</text>
<text x="100.6" y="426.2" font-size="34.6" text-anchor="end">400</text>
<text x="98.2" y="528.9" font-size="34.6" text-anchor="end">200</text>
<text transform="translate(101.7 630) scale(1.15 1)" font-size="36.3" text-anchor="end">0</text>
<text transform="translate(94.6 743.2) scale(1.16 1)" font-size="36" text-anchor="end">2</text>
<text transform="translate(94.8 905.8) scale(1.16 1)" font-size="36" text-anchor="end">0</text>
<text transform="translate(96.4 1066.2) scale(1.16 1)" font-size="36" text-anchor="end">-2</text>
<text x="108.2" y="650.2" font-size="34.2">Γ</text>
<text x="453" y="650.4" font-size="35" text-anchor="middle">K</text>
<text x="622.2" y="650.4" font-size="35" text-anchor="middle">M</text>
<text x="916.6" y="651.4" font-size="34.5" text-anchor="end">Γ</text>
<text x="107.5" y="1164.8" font-size="35">Γ</text>
<text x="325.4" y="1164.8" font-size="35" text-anchor="middle">K</text>
<text x="432.9" y="1164.8" font-size="35" text-anchor="middle">M</text>
<text x="617.5" y="1164.8" font-size="35" text-anchor="end">Γ</text>
<text x="731" y="1165.6" font-size="35.6">PDOS</text>
<text transform="translate(30.1 596) rotate(-90) scale(1 1.07)" font-size="34.6">Phonon Frequency</text>
<text transform="translate(29.6 329.2) rotate(-90) scale(1.55 0.95)" font-size="34.6" style="stroke:#fff;stroke-width:.5px">(</text>
<text transform="translate(30.1 308.6) rotate(-90) scale(1 1.22)" font-size="31.2">cm</text>
<text transform="translate(11.9 275.3) rotate(-90) scale(1 1.07)" font-size="15">-1</text>
<text transform="translate(29.6 263.4) rotate(-90) scale(1.55 0.95)" font-size="34.6" style="stroke:#fff;stroke-width:.5px">)</text>
<text transform="translate(38 955) rotate(-90) scale(1 1.05)" font-size="32.8">Energy (eV)</text>
</svg>
</body></html>
